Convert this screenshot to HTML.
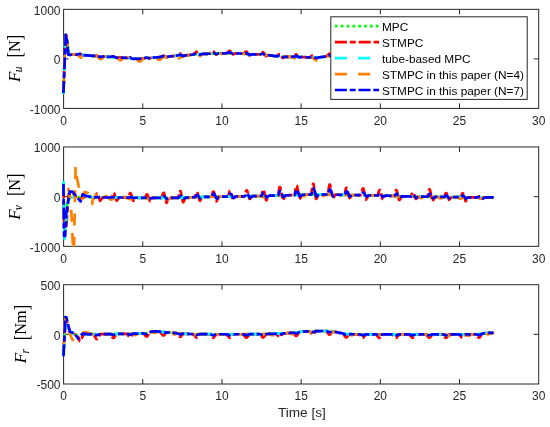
<!DOCTYPE html><html><head><meta charset="utf-8"><style>html,body{margin:0;padding:0;background:#fff}svg{display:block}</style></head><body>
<svg width="550" height="427" viewBox="0 0 550 427">
<rect width="550" height="427" fill="#fff"/>
<defs>
<clipPath id="c0"><rect x="61.6" y="8.85" width="477.6" height="100.05000000000001"/></clipPath>
<clipPath id="c1"><rect x="61.6" y="146.45" width="477.6" height="100.4"/></clipPath>
<clipPath id="c2"><rect x="61.6" y="284.2" width="477.6" height="100.30000000000001"/></clipPath>
</defs>
<rect x="63.6" y="9.35" width="475.1" height="99.05000000000001" fill="none" stroke="#262626" stroke-width="1"/>
<line x1="142.78" y1="108.4" x2="142.78" y2="103.4" stroke="#262626" stroke-width="1"/>
<line x1="142.78" y1="9.35" x2="142.78" y2="14.35" stroke="#262626" stroke-width="1"/>
<line x1="221.97" y1="108.4" x2="221.97" y2="103.4" stroke="#262626" stroke-width="1"/>
<line x1="221.97" y1="9.35" x2="221.97" y2="14.35" stroke="#262626" stroke-width="1"/>
<line x1="301.15" y1="108.4" x2="301.15" y2="103.4" stroke="#262626" stroke-width="1"/>
<line x1="301.15" y1="9.35" x2="301.15" y2="14.35" stroke="#262626" stroke-width="1"/>
<line x1="380.33" y1="108.4" x2="380.33" y2="103.4" stroke="#262626" stroke-width="1"/>
<line x1="380.33" y1="9.35" x2="380.33" y2="14.35" stroke="#262626" stroke-width="1"/>
<line x1="459.52" y1="108.4" x2="459.52" y2="103.4" stroke="#262626" stroke-width="1"/>
<line x1="459.52" y1="9.35" x2="459.52" y2="14.35" stroke="#262626" stroke-width="1"/>
<line x1="63.6" y1="58.875" x2="68.6" y2="58.875" stroke="#262626" stroke-width="1"/>
<line x1="538.7" y1="58.875" x2="533.7" y2="58.875" stroke="#262626" stroke-width="1"/>
<rect x="63.6" y="146.95" width="475.1" height="99.4" fill="none" stroke="#262626" stroke-width="1"/>
<line x1="142.78" y1="246.35" x2="142.78" y2="241.35" stroke="#262626" stroke-width="1"/>
<line x1="142.78" y1="146.95" x2="142.78" y2="151.95" stroke="#262626" stroke-width="1"/>
<line x1="221.97" y1="246.35" x2="221.97" y2="241.35" stroke="#262626" stroke-width="1"/>
<line x1="221.97" y1="146.95" x2="221.97" y2="151.95" stroke="#262626" stroke-width="1"/>
<line x1="301.15" y1="246.35" x2="301.15" y2="241.35" stroke="#262626" stroke-width="1"/>
<line x1="301.15" y1="146.95" x2="301.15" y2="151.95" stroke="#262626" stroke-width="1"/>
<line x1="380.33" y1="246.35" x2="380.33" y2="241.35" stroke="#262626" stroke-width="1"/>
<line x1="380.33" y1="146.95" x2="380.33" y2="151.95" stroke="#262626" stroke-width="1"/>
<line x1="459.52" y1="246.35" x2="459.52" y2="241.35" stroke="#262626" stroke-width="1"/>
<line x1="459.52" y1="146.95" x2="459.52" y2="151.95" stroke="#262626" stroke-width="1"/>
<line x1="63.6" y1="196.64999999999998" x2="68.6" y2="196.64999999999998" stroke="#262626" stroke-width="1"/>
<line x1="538.7" y1="196.64999999999998" x2="533.7" y2="196.64999999999998" stroke="#262626" stroke-width="1"/>
<rect x="63.6" y="284.7" width="475.1" height="99.30000000000001" fill="none" stroke="#262626" stroke-width="1"/>
<line x1="142.78" y1="384.0" x2="142.78" y2="379.0" stroke="#262626" stroke-width="1"/>
<line x1="142.78" y1="284.7" x2="142.78" y2="289.7" stroke="#262626" stroke-width="1"/>
<line x1="221.97" y1="384.0" x2="221.97" y2="379.0" stroke="#262626" stroke-width="1"/>
<line x1="221.97" y1="284.7" x2="221.97" y2="289.7" stroke="#262626" stroke-width="1"/>
<line x1="301.15" y1="384.0" x2="301.15" y2="379.0" stroke="#262626" stroke-width="1"/>
<line x1="301.15" y1="284.7" x2="301.15" y2="289.7" stroke="#262626" stroke-width="1"/>
<line x1="380.33" y1="384.0" x2="380.33" y2="379.0" stroke="#262626" stroke-width="1"/>
<line x1="380.33" y1="284.7" x2="380.33" y2="289.7" stroke="#262626" stroke-width="1"/>
<line x1="459.52" y1="384.0" x2="459.52" y2="379.0" stroke="#262626" stroke-width="1"/>
<line x1="459.52" y1="284.7" x2="459.52" y2="289.7" stroke="#262626" stroke-width="1"/>
<line x1="63.6" y1="334.35" x2="68.6" y2="334.35" stroke="#262626" stroke-width="1"/>
<line x1="538.7" y1="334.35" x2="533.7" y2="334.35" stroke="#262626" stroke-width="1"/>
<text x="60.5" y="113.70" text-anchor="end" style="font-family:'Liberation Sans',Arial,sans-serif;font-size:12px" fill="#262626">-1000</text>
<text x="60.5" y="64.17" text-anchor="end" style="font-family:'Liberation Sans',Arial,sans-serif;font-size:12px" fill="#262626">0</text>
<text x="60.5" y="14.65" text-anchor="end" style="font-family:'Liberation Sans',Arial,sans-serif;font-size:12px" fill="#262626">1000</text>
<text x="63.60" y="124.85" text-anchor="middle" style="font-family:'Liberation Sans',Arial,sans-serif;font-size:12px" fill="#262626">0</text>
<text x="142.78" y="124.85" text-anchor="middle" style="font-family:'Liberation Sans',Arial,sans-serif;font-size:12px" fill="#262626">5</text>
<text x="221.97" y="124.85" text-anchor="middle" style="font-family:'Liberation Sans',Arial,sans-serif;font-size:12px" fill="#262626">10</text>
<text x="301.15" y="124.85" text-anchor="middle" style="font-family:'Liberation Sans',Arial,sans-serif;font-size:12px" fill="#262626">15</text>
<text x="380.33" y="124.85" text-anchor="middle" style="font-family:'Liberation Sans',Arial,sans-serif;font-size:12px" fill="#262626">20</text>
<text x="459.52" y="124.85" text-anchor="middle" style="font-family:'Liberation Sans',Arial,sans-serif;font-size:12px" fill="#262626">25</text>
<text x="538.70" y="124.85" text-anchor="middle" style="font-family:'Liberation Sans',Arial,sans-serif;font-size:12px" fill="#262626">30</text>
<text x="60.5" y="251.65" text-anchor="end" style="font-family:'Liberation Sans',Arial,sans-serif;font-size:12px" fill="#262626">-1000</text>
<text x="60.5" y="201.95" text-anchor="end" style="font-family:'Liberation Sans',Arial,sans-serif;font-size:12px" fill="#262626">0</text>
<text x="60.5" y="152.25" text-anchor="end" style="font-family:'Liberation Sans',Arial,sans-serif;font-size:12px" fill="#262626">1000</text>
<text x="63.60" y="262.80" text-anchor="middle" style="font-family:'Liberation Sans',Arial,sans-serif;font-size:12px" fill="#262626">0</text>
<text x="142.78" y="262.80" text-anchor="middle" style="font-family:'Liberation Sans',Arial,sans-serif;font-size:12px" fill="#262626">5</text>
<text x="221.97" y="262.80" text-anchor="middle" style="font-family:'Liberation Sans',Arial,sans-serif;font-size:12px" fill="#262626">10</text>
<text x="301.15" y="262.80" text-anchor="middle" style="font-family:'Liberation Sans',Arial,sans-serif;font-size:12px" fill="#262626">15</text>
<text x="380.33" y="262.80" text-anchor="middle" style="font-family:'Liberation Sans',Arial,sans-serif;font-size:12px" fill="#262626">20</text>
<text x="459.52" y="262.80" text-anchor="middle" style="font-family:'Liberation Sans',Arial,sans-serif;font-size:12px" fill="#262626">25</text>
<text x="538.70" y="262.80" text-anchor="middle" style="font-family:'Liberation Sans',Arial,sans-serif;font-size:12px" fill="#262626">30</text>
<text x="60.5" y="389.30" text-anchor="end" style="font-family:'Liberation Sans',Arial,sans-serif;font-size:12px" fill="#262626">-500</text>
<text x="60.5" y="339.65" text-anchor="end" style="font-family:'Liberation Sans',Arial,sans-serif;font-size:12px" fill="#262626">0</text>
<text x="60.5" y="290.00" text-anchor="end" style="font-family:'Liberation Sans',Arial,sans-serif;font-size:12px" fill="#262626">500</text>
<text x="63.60" y="400.45" text-anchor="middle" style="font-family:'Liberation Sans',Arial,sans-serif;font-size:12px" fill="#262626">0</text>
<text x="142.78" y="400.45" text-anchor="middle" style="font-family:'Liberation Sans',Arial,sans-serif;font-size:12px" fill="#262626">5</text>
<text x="221.97" y="400.45" text-anchor="middle" style="font-family:'Liberation Sans',Arial,sans-serif;font-size:12px" fill="#262626">10</text>
<text x="301.15" y="400.45" text-anchor="middle" style="font-family:'Liberation Sans',Arial,sans-serif;font-size:12px" fill="#262626">15</text>
<text x="380.33" y="400.45" text-anchor="middle" style="font-family:'Liberation Sans',Arial,sans-serif;font-size:12px" fill="#262626">20</text>
<text x="459.52" y="400.45" text-anchor="middle" style="font-family:'Liberation Sans',Arial,sans-serif;font-size:12px" fill="#262626">25</text>
<text x="538.70" y="400.45" text-anchor="middle" style="font-family:'Liberation Sans',Arial,sans-serif;font-size:12px" fill="#262626">30</text>
<text x="301.9" y="417.3" text-anchor="middle" style="font-family:'Liberation Sans',Arial,sans-serif;font-size:13.6px" fill="#262626">Time [s]</text>
<g transform="translate(19.6,81.88) rotate(-90)" style="font-family:'Liberation Serif',serif" fill="#000"><text x="0" y="0" font-style="italic" font-size="17px">F</text><text x="9.7" y="2.6" font-style="italic" font-size="11.5px">u</text><text transform="translate(24.40,1.5) scale(1,1.23)" font-size="16.3px">[</text><text x="29.83" y="0" font-size="16.3px">N</text><text transform="translate(41.60,1.5) scale(1,1.23)" font-size="16.3px">]</text></g>
<g transform="translate(19.6,219.85) rotate(-90)" style="font-family:'Liberation Serif',serif" fill="#000"><text x="0" y="0" font-style="italic" font-size="17px">F</text><text x="9.7" y="2.6" font-style="italic" font-size="11.5px">v</text><text transform="translate(23.76,1.5) scale(1,1.23)" font-size="16.3px">[</text><text x="29.18" y="0" font-size="16.3px">N</text><text transform="translate(40.95,1.5) scale(1,1.23)" font-size="16.3px">]</text></g>
<g transform="translate(26.0,363.25) rotate(-90)" style="font-family:'Liberation Serif',serif" fill="#000"><text x="0" y="0" font-style="italic" font-size="17px">F</text><text x="9.7" y="2.6" font-style="italic" font-size="11.5px">r</text><text transform="translate(23.12,1.5) scale(1,1.23)" font-size="16.3px">[</text><text x="28.55" y="0" font-size="16.3px">Nm</text><text transform="translate(53.00,1.5) scale(1,1.23)" font-size="16.3px">]</text></g>
<g clip-path="url(#c0)" fill="none" stroke-width="2.7" stroke-linejoin="round">
<path d="M63.50,94.00 L64.20,70.00 L65.30,35.00 L66.70,36.00 L69.20,54.50 L70.00,54.82 L70.50,54.79 L71.00,54.76 L71.50,54.73 L72.00,54.70 L72.50,54.68 L73.00,54.66 L73.50,54.63 L74.00,54.62 L74.50,54.60 L75.00,54.59 L75.50,54.58 L76.00,54.57 L76.50,54.57 L77.00,54.57 L77.50,54.57 L78.00,54.59 L78.50,54.60 L79.00,54.62 L79.50,54.65 L80.00,54.68 L80.50,54.71 L81.00,54.75 L81.50,54.79 L82.00,54.84 L82.50,54.89 L83.00,54.94 L83.50,54.99 L84.00,55.04 L84.50,55.09 L85.00,55.15 L85.50,55.20 L86.00,55.25 L86.50,55.30 L87.00,55.35 L87.50,55.40 L88.00,55.45 L88.50,55.49 L89.00,55.54 L89.50,55.59 L90.00,55.64 L90.50,55.69 L91.00,55.75 L91.50,55.80 L92.00,55.85 L92.50,55.90 L93.00,55.94 L93.50,55.99 L94.00,56.04 L94.50,56.08 L95.00,56.12 L95.50,56.16 L96.00,56.20 L96.50,56.24 L97.00,56.27 L97.50,56.30 L98.00,56.33 L98.50,56.36 L99.00,56.39 L99.50,56.42 L100.00,56.45 L100.50,56.47 L101.00,56.50 L101.50,56.52 L102.00,56.55 L102.50,56.57 L103.00,56.60 L103.50,56.62 L104.00,56.65 L104.50,56.67 L105.00,56.70 L105.50,56.72 L106.00,56.75 L106.50,56.77 L107.00,56.80 L107.50,56.83 L108.00,56.85 L108.50,56.88 L109.00,56.91 L109.50,56.94 L110.00,56.96 L110.50,56.99 L111.00,57.02 L111.50,57.04 L112.00,57.07 L112.50,57.10 L113.00,57.13 L113.50,57.15 L114.00,57.18 L114.50,57.21 L115.00,57.23 L115.50,57.26 L116.00,57.29 L116.50,57.32 L117.00,57.34 L117.50,57.37 L118.00,57.40 L118.50,57.43 L119.00,57.45 L119.50,57.48 L120.00,57.51 L120.50,57.53 L121.00,57.56 L121.50,57.59 L122.00,57.61 L122.50,57.64 L123.00,57.67 L123.50,57.70 L124.00,57.73 L124.50,57.77 L125.00,57.80 L125.50,57.84 L126.00,57.88 L126.50,57.92 L127.00,57.97 L127.50,58.02 L128.00,58.07 L128.50,58.11 L129.00,58.16 L129.50,58.21 L130.00,58.25 L130.50,58.29 L131.00,58.32 L131.50,58.36 L132.00,58.40 L132.50,58.44 L133.00,58.48 L133.50,58.52 L134.00,58.56 L134.50,58.60 L135.00,58.64 L135.50,58.67 L136.00,58.70 L136.50,58.73 L137.00,58.76 L137.50,58.78 L138.00,58.79 L138.50,58.80 L139.00,58.80 L139.50,58.80 L140.00,58.79 L140.50,58.77 L141.00,58.75 L141.50,58.71 L142.00,58.68 L142.50,58.64 L143.00,58.60 L143.50,58.55 L144.00,58.50 L144.50,58.45 L145.00,58.40 L145.50,58.35 L146.00,58.29 L146.50,58.24 L147.00,58.19 L147.50,58.14 L148.00,58.09 L148.50,58.04 L149.00,58.00 L149.50,57.96 L150.00,57.92 L150.50,57.88 L151.00,57.84 L151.50,57.80 L152.00,57.76 L152.50,57.72 L153.00,57.68 L153.50,57.64 L154.00,57.60 L154.50,57.56 L155.00,57.52 L155.50,57.48 L156.00,57.45 L156.50,57.41 L157.00,57.37 L157.50,57.33 L158.00,57.29 L158.50,57.25 L159.00,57.21 L159.50,57.18 L160.00,57.14 L160.50,57.10 L161.00,57.06 L161.50,57.02 L162.00,56.98 L162.50,56.95 L163.00,56.91 L163.50,56.88 L164.00,56.84 L164.50,56.81 L165.00,56.77 L165.50,56.74 L166.00,56.70 L166.50,56.67 L167.00,56.63 L167.50,56.59 L168.00,56.56 L168.50,56.52 L169.00,56.48 L169.50,56.44 L170.00,56.40 L170.50,56.36 L171.00,56.31 L171.50,56.26 L172.00,56.21 L172.50,56.16 L173.00,56.11 L173.50,56.06 L174.00,56.01 L174.50,55.95 L175.00,55.90 L175.50,55.85 L176.00,55.80 L176.50,55.76 L177.00,55.71 L177.50,55.67 L178.00,55.63 L178.50,55.59 L179.00,55.56 L179.50,55.53 L180.00,55.51 L180.50,55.49 L181.00,55.47 L181.50,55.45 L182.00,55.43 L182.50,55.41 L183.00,55.40 L183.50,55.38 L184.00,55.36 L184.50,55.34 L185.00,55.32 L185.50,55.30 L186.00,55.28 L186.50,55.25 L187.00,55.22 L187.50,55.19 L188.00,55.14 L188.50,55.10 L189.00,55.05 L189.50,55.00 L190.00,54.94 L190.50,54.88 L191.00,54.82 L191.50,54.76 L192.00,54.71 L192.50,54.65 L193.00,54.60 L193.50,54.55 L194.00,54.50 L194.50,54.46 L195.00,54.42 L195.50,54.38 L196.00,54.34 L196.50,54.31 L197.00,54.27 L197.50,54.24 L198.00,54.21 L198.50,54.18 L199.00,54.15 L199.50,54.13 L200.00,54.10 L200.50,54.08 L201.00,54.05 L201.50,54.03 L202.00,54.01 L202.50,53.98 L203.00,53.96 L203.50,53.94 L204.00,53.92 L204.50,53.90 L205.00,53.88 L205.50,53.86 L206.00,53.85 L206.50,53.83 L207.00,53.81 L207.50,53.79 L208.00,53.77 L208.50,53.75 L209.00,53.74 L209.50,53.72 L210.00,53.70 L210.50,53.68 L211.00,53.66 L211.50,53.64 L212.00,53.63 L212.50,53.61 L213.00,53.59 L213.50,53.57 L214.00,53.55 L214.50,53.54 L215.00,53.52 L215.50,53.50 L216.00,53.49 L216.50,53.47 L217.00,53.46 L217.50,53.44 L218.00,53.43 L218.50,53.41 L219.00,53.40 L219.50,53.39 L220.00,53.37 L220.50,53.36 L221.00,53.35 L221.50,53.34 L222.00,53.32 L222.50,53.31 L223.00,53.30 L223.50,53.29 L224.00,53.28 L224.50,53.27 L225.00,53.26 L225.50,53.25 L226.00,53.24 L226.50,53.23 L227.00,53.22 L227.50,53.22 L228.00,53.21 L228.50,53.21 L229.00,53.20 L229.50,53.20 L230.00,53.20 L230.50,53.20 L231.00,53.20 L231.50,53.21 L232.00,53.21 L232.50,53.22 L233.00,53.23 L233.50,53.24 L234.00,53.25 L234.50,53.26 L235.00,53.28 L235.50,53.29 L236.00,53.31 L236.50,53.33 L237.00,53.35 L237.50,53.37 L238.00,53.40 L238.50,53.43 L239.00,53.46 L239.50,53.49 L240.00,53.52 L240.50,53.55 L241.00,53.59 L241.50,53.63 L242.00,53.66 L242.50,53.70 L243.00,53.74 L243.50,53.78 L244.00,53.82 L244.50,53.86 L245.00,53.90 L245.50,53.94 L246.00,53.97 L246.50,54.01 L247.00,54.05 L247.50,54.09 L248.00,54.12 L248.50,54.16 L249.00,54.19 L249.50,54.22 L250.00,54.25 L250.50,54.27 L251.00,54.30 L251.50,54.32 L252.00,54.34 L252.50,54.35 L253.00,54.37 L253.50,54.37 L254.00,54.38 L254.50,54.39 L255.00,54.39 L255.50,54.39 L256.00,54.40 L256.50,54.40 L257.00,54.40 L257.50,54.41 L258.00,54.41 L258.50,54.42 L259.00,54.43 L259.50,54.44 L260.00,54.46 L260.50,54.48 L261.00,54.50 L261.50,54.53 L262.00,54.56 L262.50,54.59 L263.00,54.63 L263.50,54.67 L264.00,54.71 L264.50,54.76 L265.00,54.81 L265.50,54.86 L266.00,54.91 L266.50,54.96 L267.00,55.01 L267.50,55.07 L268.00,55.12 L268.50,55.18 L269.00,55.23 L269.50,55.29 L270.00,55.36 L270.50,55.42 L271.00,55.49 L271.50,55.56 L272.00,55.63 L272.50,55.71 L273.00,55.78 L273.50,55.86 L274.00,55.93 L274.50,56.00 L275.00,56.07 L275.50,56.14 L276.00,56.21 L276.50,56.27 L277.00,56.33 L277.50,56.39 L278.00,56.44 L278.50,56.49 L279.00,56.53 L279.50,56.57 L280.00,56.60 L280.50,56.63 L281.00,56.65 L281.50,56.67 L282.00,56.69 L282.50,56.71 L283.00,56.73 L283.50,56.74 L284.00,56.75 L284.50,56.76 L285.00,56.77 L285.50,56.78 L286.00,56.79 L286.50,56.79 L287.00,56.80 L287.50,56.80 L288.00,56.81 L288.50,56.81 L289.00,56.81 L289.50,56.81 L290.00,56.81 L290.50,56.82 L291.00,56.82 L291.50,56.82 L292.00,56.82 L292.50,56.82 L293.00,56.82 L293.50,56.82 L294.00,56.82 L294.50,56.82 L295.00,56.82 L295.50,56.83 L296.00,56.83 L296.50,56.84 L297.00,56.84 L297.50,56.85 L298.00,56.86 L298.50,56.86 L299.00,56.87 L299.50,56.89 L300.00,56.90 L300.50,56.92 L301.00,56.93 L301.50,56.96 L302.00,56.98 L302.50,57.01 L303.00,57.04 L303.50,57.07 L304.00,57.10 L304.50,57.13 L305.00,57.17 L305.50,57.20 L306.00,57.23 L306.50,57.27 L307.00,57.30 L307.50,57.34 L308.00,57.37 L308.50,57.40 L309.00,57.43 L309.50,57.46 L310.00,57.49 L310.50,57.52 L311.00,57.54 L311.50,57.56 L312.00,57.58 L312.50,57.59 L313.00,57.60 L313.50,57.61 L314.00,57.61 L314.50,57.61 L315.00,57.60 L315.50,57.59 L316.00,57.57 L316.50,57.54 L317.00,57.51 L317.50,57.47 L318.00,57.43 L318.50,57.38 L319.00,57.33 L319.50,57.28 L320.00,57.22 L320.50,57.16 L321.00,57.10 L321.50,57.04 L322.00,56.98 L322.50,56.91 L323.00,56.85 L323.50,56.79 L324.00,56.72 L324.50,56.66 L325.00,56.60 L325.50,56.55 L326.00,56.50 L326.50,56.45 L327.00,56.40 L327.50,56.36 L328.00,56.31 L328.50,56.27 L329.00,56.22 L329.50,56.17 L330.00,56.13 L330.50,56.08 L331.00,56.03 L331.50,55.98 L332.00,55.94 L332.50,55.89 L333.00,55.84 L333.50,55.79 L334.00,55.75 L334.50,55.70 L335.00,55.65 L335.50,55.61 L336.00,55.56 L336.50,55.52 L337.00,55.48 L337.50,55.44 L338.00,55.40 L338.50,55.36 L339.00,55.32 L339.50,55.28 L340.00,55.25 L340.50,55.21 L341.00,55.18 L341.50,55.15 L342.00,55.12 L342.50,55.10 L343.00,55.07 L343.50,55.05 L344.00,55.03 L344.50,55.01 L345.00,55.00 L345.50,54.99 L346.00,54.97 L346.50,54.96 L347.00,54.95 L347.50,54.94 L348.00,54.93 L348.50,54.92 L349.00,54.91 L349.50,54.90 L350.00,54.89 L350.50,54.89 L351.00,54.88 L351.50,54.87 L352.00,54.87 L352.50,54.86 L353.00,54.86 L353.50,54.85 L354.00,54.85 L354.50,54.84 L355.00,54.84 L355.50,54.83 L356.00,54.83 L356.50,54.83 L357.00,54.83 L357.50,54.83 L358.00,54.82 L358.50,54.82 L359.00,54.82 L359.50,54.82 L360.00,54.82 L360.50,54.82 L361.00,54.82 L361.50,54.82 L362.00,54.82 L362.50,54.83 L363.00,54.83 L363.50,54.83 L364.00,54.83 L364.50,54.83 L365.00,54.84 L365.50,54.84 L366.00,54.84 L366.50,54.85 L367.00,54.85 L367.50,54.86 L368.00,54.86 L368.50,54.86 L369.00,54.87 L369.50,54.87 L370.00,54.88 L370.50,54.88 L371.00,54.89 L371.50,54.89 L372.00,54.90 L372.50,54.90 L373.00,54.91 L373.50,54.92 L374.00,54.92 L374.50,54.93 L375.00,54.93 L375.50,54.94 L376.00,54.95 L376.50,54.95 L377.00,54.96 L377.50,54.97 L378.00,54.97 L378.50,54.98 L379.00,54.99 L379.50,54.99 L380.00,55.00 L380.50,55.01 L381.00,55.01 L381.50,55.02 L382.00,55.03 L382.50,55.04 L383.00,55.05 L383.50,55.05 L384.00,55.06 L384.50,55.07 L385.00,55.08 L385.50,55.09 L386.00,55.10 L386.50,55.11 L387.00,55.12 L387.50,55.13 L388.00,55.14 L388.50,55.15 L389.00,55.16 L389.50,55.17 L390.00,55.18 L390.50,55.20 L391.00,55.21 L391.50,55.22 L392.00,55.23 L392.50,55.24 L393.00,55.26 L393.50,55.27 L394.00,55.28 L394.50,55.29 L395.00,55.31 L395.50,55.32 L396.00,55.33 L396.50,55.35 L397.00,55.36 L397.50,55.37 L398.00,55.39 L398.50,55.40 L399.00,55.41 L399.50,55.43 L400.00,55.44 L400.50,55.46 L401.00,55.47 L401.50,55.48 L402.00,55.50 L402.50,55.51 L403.00,55.53 L403.50,55.54 L404.00,55.56 L404.50,55.57 L405.00,55.58 L405.50,55.60 L406.00,55.61 L406.50,55.63 L407.00,55.64 L407.50,55.66 L408.00,55.67 L408.50,55.69 L409.00,55.70 L409.50,55.71 L410.00,55.73 L410.50,55.74 L411.00,55.76 L411.50,55.77 L412.00,55.79 L412.50,55.80 L413.00,55.81 L413.50,55.83 L414.00,55.84 L414.50,55.85 L415.00,55.87 L415.50,55.88 L416.00,55.90 L416.50,55.91 L417.00,55.92 L417.50,55.94 L418.00,55.95 L418.50,55.96 L419.00,55.97 L419.50,55.99 L420.00,56.00 L420.50,56.01 L421.00,56.03 L421.50,56.04 L422.00,56.05 L422.50,56.06 L423.00,56.08 L423.50,56.09 L424.00,56.10 L424.50,56.12 L425.00,56.13 L425.50,56.15 L426.00,56.16 L426.50,56.17 L427.00,56.19 L427.50,56.20 L428.00,56.22 L428.50,56.23 L429.00,56.24 L429.50,56.26 L430.00,56.27 L430.50,56.29 L431.00,56.30 L431.50,56.32 L432.00,56.33 L432.50,56.35 L433.00,56.36 L433.50,56.38 L434.00,56.39 L434.50,56.40 L435.00,56.42 L435.50,56.43 L436.00,56.45 L436.50,56.46 L437.00,56.48 L437.50,56.49 L438.00,56.51 L438.50,56.52 L439.00,56.53 L439.50,56.55 L440.00,56.56 L440.50,56.58 L441.00,56.59 L441.50,56.60 L442.00,56.62 L442.50,56.63 L443.00,56.65 L443.50,56.66 L444.00,56.67 L444.50,56.69 L445.00,56.70 L445.50,56.71 L446.00,56.72 L446.50,56.74 L447.00,56.75 L447.50,56.76 L448.00,56.77 L448.50,56.79 L449.00,56.80 L449.50,56.81 L450.00,56.82 L450.50,56.83 L451.00,56.84 L451.50,56.85 L452.00,56.86 L452.50,56.87 L453.00,56.88 L453.50,56.89 L454.00,56.90 L454.50,56.91 L455.00,56.92 L455.50,56.93 L456.00,56.94 L456.50,56.95 L457.00,56.96 L457.50,56.96 L458.00,56.97 L458.50,56.98 L459.00,56.99 L459.50,56.99 L460.00,57.00 L460.50,57.01 L461.00,57.01 L461.50,57.02 L462.00,57.02 L462.50,57.03 L463.00,57.03 L463.50,57.04 L464.00,57.04 L464.50,57.04 L465.00,57.05 L465.50,57.05 L466.00,57.05 L466.50,57.06 L467.00,57.06 L467.50,57.06 L468.00,57.06 L468.50,57.07 L469.00,57.07 L469.50,57.07 L470.00,57.07 L470.50,57.07 L471.00,57.07 L471.50,57.07 L472.00,57.07 L472.50,57.07 L473.00,57.07 L473.50,57.07 L474.00,57.07 L474.50,57.07 L475.00,57.07 L475.50,57.07 L476.00,57.07 L476.50,57.07 L477.00,57.07 L477.50,57.07 L478.00,57.07 L478.50,57.07 L479.00,57.07 L479.50,57.06 L480.00,57.06 L480.50,57.06 L481.00,57.06 L481.50,57.06 L482.00,57.06 L482.50,57.05 L483.00,57.05 L483.50,57.05 L484.00,57.05 L484.50,57.05 L485.00,57.04 L485.50,57.04 L486.00,57.04 L486.50,57.04 L487.00,57.04 L487.50,57.03 L488.00,57.03 L488.50,57.03 L489.00,57.03 L489.50,57.03 L490.00,57.02 L490.50,57.02 L491.00,57.02 L491.50,57.02 L492.00,57.02 L492.50,57.01 L493.00,57.01 L493.50,57.01" stroke="#00ff00" stroke-dasharray="2.7 3.15" stroke-dashoffset="0"/>
<path d="M63.50,92.00 L64.30,70.00 L65.40,35.50 L66.60,36.00 L68.60,54.50 L70.00,54.82 L70.50,54.79 L71.00,54.76 L71.50,54.73 L72.00,54.70 L72.50,54.68 L73.00,54.66 L73.50,54.63 L74.00,54.62 L74.50,54.60 L75.00,54.59 L75.50,54.58 L76.00,54.57 L76.50,54.57 L77.00,54.52 L77.50,54.44 L78.00,54.36 L78.50,54.29 L79.00,54.23 L79.50,54.17 L80.00,54.11 L80.50,54.20 L81.00,54.39 L81.50,54.58 L82.00,54.78 L82.50,54.98 L83.00,55.18 L83.50,55.26 L84.00,55.26 L84.50,55.26 L85.00,55.27 L85.50,55.27 L86.00,55.27 L86.50,55.30 L87.00,55.35 L87.50,55.40 L88.00,55.45 L88.50,55.49 L89.00,55.54 L89.50,55.59 L90.00,55.64 L90.50,55.69 L91.00,55.75 L91.50,55.80 L92.00,55.85 L92.50,55.90 L93.00,55.94 L93.50,55.96 L94.00,55.92 L94.50,55.88 L95.00,55.83 L95.50,55.79 L96.00,55.74 L96.50,55.69 L97.00,55.72 L97.50,55.91 L98.00,56.09 L98.50,56.27 L99.00,56.45 L99.50,56.62 L100.00,56.73 L100.50,56.70 L101.00,56.68 L101.50,56.66 L102.00,56.63 L102.50,56.61 L103.00,56.60 L103.50,56.62 L104.00,56.65 L104.50,56.67 L105.00,56.70 L105.50,56.72 L106.00,56.75 L106.50,56.77 L107.00,56.80 L107.50,56.83 L108.00,56.85 L108.50,56.88 L109.00,56.91 L109.50,56.94 L110.00,56.95 L110.50,56.89 L111.00,56.84 L111.50,56.78 L112.00,56.72 L112.50,56.66 L113.00,56.60 L113.50,56.57 L114.00,56.75 L114.50,56.93 L115.00,57.10 L115.50,57.28 L116.00,57.46 L116.50,57.61 L117.00,57.59 L117.50,57.57 L118.00,57.54 L118.50,57.52 L119.00,57.50 L119.50,57.48 L120.00,57.51 L120.50,57.53 L121.00,57.56 L121.50,57.59 L122.00,57.61 L122.50,57.64 L123.00,57.67 L123.50,57.70 L124.00,57.73 L124.50,57.77 L125.00,57.80 L125.50,57.84 L126.00,57.88 L126.50,57.92 L127.00,57.89 L127.50,57.86 L128.00,57.82 L128.50,57.78 L129.00,57.74 L129.50,57.70 L130.00,57.66 L130.50,57.82 L131.00,58.00 L131.50,58.19 L132.00,58.38 L132.50,58.57 L133.00,58.76 L133.50,58.78 L134.00,58.77 L134.50,58.76 L135.00,58.74 L135.50,58.73 L136.00,58.71 L136.50,58.73 L137.00,58.76 L137.50,58.78 L138.00,58.79 L138.50,58.80 L139.00,58.80 L139.50,58.80 L140.00,58.79 L140.50,58.77 L141.00,58.75 L141.50,58.71 L142.00,58.68 L142.50,58.64 L143.00,58.60 L143.50,58.50 L144.00,58.36 L144.50,58.22 L145.00,58.09 L145.50,57.95 L146.00,57.81 L146.50,57.67 L147.00,57.68 L147.50,57.78 L148.00,57.88 L148.50,57.99 L149.00,58.10 L149.50,58.21 L150.00,58.19 L150.50,58.11 L151.00,58.02 L151.50,57.93 L152.00,57.84 L152.50,57.74 L153.00,57.68 L153.50,57.64 L154.00,57.60 L154.50,57.56 L155.00,57.52 L155.50,57.48 L156.00,57.45 L156.50,57.41 L157.00,57.37 L157.50,57.33 L158.00,57.29 L158.50,57.25 L159.00,57.21 L159.50,57.18 L160.00,57.07 L160.50,56.87 L161.00,56.67 L161.50,56.45 L162.00,56.23 L162.50,56.00 L163.00,55.77 L163.50,55.73 L164.00,56.00 L164.50,56.28 L165.00,56.57 L165.50,56.87 L166.00,57.19 L166.50,57.33 L167.00,57.19 L167.50,57.04 L168.00,56.88 L168.50,56.72 L169.00,56.56 L169.50,56.44 L170.00,56.40 L170.50,56.36 L171.00,56.31 L171.50,56.26 L172.00,56.21 L172.50,56.16 L173.00,56.11 L173.50,56.06 L174.00,56.01 L174.50,55.95 L175.00,55.90 L175.50,55.85 L176.00,55.80 L176.50,55.71 L177.00,55.39 L177.50,55.06 L178.00,54.73 L178.50,54.39 L179.00,54.05 L179.50,53.71 L180.00,53.49 L180.50,53.98 L181.00,54.48 L181.50,54.99 L182.00,55.52 L182.50,56.06 L183.00,56.49 L183.50,56.30 L184.00,56.10 L184.50,55.89 L185.00,55.69 L185.50,55.47 L186.00,55.28 L186.50,55.25 L187.00,55.22 L187.50,55.19 L188.00,55.14 L188.50,55.10 L189.00,55.05 L189.50,55.00 L190.00,54.94 L190.50,54.88 L191.00,54.82 L191.50,54.76 L192.00,54.71 L192.50,54.65 L193.00,54.60 L193.50,54.20 L194.00,53.79 L194.50,53.37 L195.00,52.96 L195.50,52.55 L196.00,52.14 L196.50,51.74 L197.00,52.27 L197.50,52.89 L198.00,53.51 L198.50,54.13 L199.00,54.75 L199.50,55.37 L200.00,55.20 L200.50,54.96 L201.00,54.72 L201.50,54.48 L202.00,54.24 L202.50,54.00 L203.00,53.96 L203.50,53.94 L204.00,53.92 L204.50,53.90 L205.00,53.88 L205.50,53.86 L206.00,53.85 L206.50,53.83 L207.00,53.81 L207.50,53.79 L208.00,53.77 L208.50,53.75 L209.00,53.74 L209.50,53.72 L210.00,53.45 L210.50,53.06 L211.00,52.67 L211.50,52.28 L212.00,51.89 L212.50,51.50 L213.00,51.11 L213.50,51.41 L214.00,52.05 L214.50,52.68 L215.00,53.31 L215.50,53.94 L216.00,54.58 L216.50,54.62 L217.00,54.39 L217.50,54.16 L218.00,53.93 L218.50,53.70 L219.00,53.47 L219.50,53.39 L220.00,53.37 L220.50,53.36 L221.00,53.35 L221.50,53.34 L222.00,53.32 L222.50,53.31 L223.00,53.30 L223.50,53.29 L224.00,53.28 L224.50,53.27 L225.00,53.26 L225.50,53.25 L226.00,53.24 L226.50,53.07 L227.00,52.69 L227.50,52.31 L228.00,51.93 L228.50,51.56 L229.00,51.18 L229.50,50.81 L230.00,50.89 L230.50,51.54 L231.00,52.19 L231.50,52.84 L232.00,53.50 L232.50,54.15 L233.00,54.43 L233.50,54.22 L234.00,54.02 L234.50,53.82 L235.00,53.61 L235.50,53.41 L236.00,53.31 L236.50,53.33 L237.00,53.35 L237.50,53.37 L238.00,53.40 L238.50,53.43 L239.00,53.46 L239.50,53.49 L240.00,53.52 L240.50,53.55 L241.00,53.59 L241.50,53.63 L242.00,53.66 L242.50,53.70 L243.00,53.67 L243.50,53.33 L244.00,53.00 L244.50,52.67 L245.00,52.34 L245.50,52.00 L246.00,51.67 L246.50,51.54 L247.00,52.23 L247.50,52.92 L248.00,53.60 L248.50,54.29 L249.00,54.97 L249.50,55.48 L250.00,55.29 L250.50,55.10 L251.00,54.91 L251.50,54.71 L252.00,54.51 L252.50,54.35 L253.00,54.37 L253.50,54.37 L254.00,54.38 L254.50,54.39 L255.00,54.39 L255.50,54.39 L256.00,54.40 L256.50,54.40 L257.00,54.40 L257.50,54.41 L258.00,54.41 L258.50,54.42 L259.00,54.43 L259.50,54.44 L260.00,54.10 L260.50,53.75 L261.00,53.40 L261.50,53.06 L262.00,52.72 L262.50,52.38 L263.00,52.05 L263.50,52.69 L264.00,53.39 L264.50,54.08 L265.00,54.78 L265.50,55.48 L266.00,56.18 L266.50,56.05 L267.00,55.89 L267.50,55.73 L268.00,55.56 L268.50,55.40 L269.00,55.24 L269.50,55.29 L270.00,55.36 L270.50,55.42 L271.00,55.49 L271.50,55.56 L272.00,55.63 L272.50,55.71 L273.00,55.78 L273.50,55.86 L274.00,55.93 L274.50,56.00 L275.00,56.07 L275.50,56.14 L276.00,56.21 L276.50,56.00 L277.00,55.69 L277.50,55.38 L278.00,55.06 L278.50,54.74 L279.00,54.41 L279.50,54.07 L280.00,54.47 L280.50,55.14 L281.00,55.82 L281.50,56.49 L282.00,57.16 L282.50,57.83 L283.00,57.87 L283.50,57.67 L284.00,57.46 L284.50,57.26 L285.00,57.05 L285.50,56.84 L286.00,56.79 L286.50,56.79 L287.00,56.80 L287.50,56.80 L288.00,56.81 L288.50,56.81 L289.00,56.81 L289.50,56.81 L290.00,56.81 L290.50,56.82 L291.00,56.82 L291.50,56.82 L292.00,56.82 L292.50,56.82 L293.00,56.64 L293.50,56.27 L294.00,55.90 L294.50,55.53 L295.00,55.16 L295.50,54.79 L296.00,54.42 L296.50,54.55 L297.00,55.20 L297.50,55.86 L298.00,56.52 L298.50,57.18 L299.00,57.84 L299.50,58.08 L300.00,57.88 L300.50,57.68 L301.00,57.48 L301.50,57.29 L302.00,57.09 L302.50,57.01 L303.00,57.04 L303.50,57.07 L304.00,57.10 L304.50,57.13 L305.00,57.17 L305.50,57.20 L306.00,57.23 L306.50,57.27 L307.00,57.30 L307.50,57.34 L308.00,57.37 L308.50,57.40 L309.00,57.43 L309.50,57.37 L310.00,57.03 L310.50,56.68 L311.00,56.34 L311.50,55.98 L312.00,55.63 L312.50,55.27 L313.00,55.16 L313.50,55.81 L314.00,56.46 L314.50,57.11 L315.00,57.76 L315.50,58.39 L316.00,58.82 L316.50,58.57 L317.00,58.32 L317.50,58.07 L318.00,57.81 L318.50,57.55 L319.00,57.33 L319.50,57.28 L320.00,57.22 L320.50,57.16 L321.00,57.10 L321.50,57.04 L322.00,56.98 L322.50,56.91 L323.00,56.85 L323.50,56.79 L324.00,56.72 L324.50,56.66 L325.00,56.60 L325.50,56.55 L326.00,56.50 L326.50,56.07 L327.00,55.66 L327.50,55.24 L328.00,54.83 L328.50,54.41 L329.00,53.99 L329.50,53.57 L330.00,54.18 L330.50,54.78 L331.00,55.38 L331.50,55.98 L332.00,56.59 L332.50,57.19 L333.00,56.92 L333.50,56.66 L334.00,56.40 L334.50,56.13 L335.00,55.87 L335.50,55.61 L336.00,55.56 L336.50,55.52 L337.00,55.48 L337.50,55.44 L338.00,55.40 L338.50,55.36 L339.00,55.32 L339.50,55.28 L340.00,55.25 L340.50,55.21 L341.00,55.18 L341.50,55.15 L342.00,55.12 L342.50,55.10 L343.00,54.79 L343.50,54.40 L344.00,54.01 L344.50,53.62 L345.00,53.23 L345.50,52.85 L346.00,52.46 L346.50,52.86 L347.00,53.50 L347.50,54.13 L348.00,54.77 L348.50,55.41 L349.00,56.06 L349.50,56.04 L350.00,55.81 L350.50,55.59 L351.00,55.37 L351.50,55.14 L352.00,54.92 L352.50,54.86 L353.00,54.86 L353.50,54.85 L354.00,54.85 L354.50,54.84 L355.00,54.84 L355.50,54.83 L356.00,54.83 L356.50,54.83 L357.00,54.83 L357.50,54.83 L358.00,54.82 L358.50,54.82 L359.00,54.82 L359.50,54.63 L360.00,54.26 L360.50,53.89 L361.00,53.52 L361.50,53.14 L362.00,52.77 L362.50,52.40 L363.00,52.57 L363.50,53.22 L364.00,53.87 L364.50,54.52 L365.00,55.18 L365.50,55.83 L366.00,56.03 L366.50,55.82 L367.00,55.61 L367.50,55.39 L368.00,55.18 L368.50,54.97 L369.00,54.87 L369.50,54.87 L370.00,54.88 L370.50,54.88 L371.00,54.89 L371.50,54.89 L372.00,54.90 L372.50,54.90 L373.00,54.91 L373.50,54.92 L374.00,54.92 L374.50,54.93 L375.00,54.93 L375.50,54.94 L376.00,54.84 L376.50,54.48 L377.00,54.11 L377.50,53.75 L378.00,53.38 L378.50,53.02 L379.00,52.65 L379.50,52.58 L380.00,53.23 L380.50,53.89 L381.00,54.55 L381.50,55.20 L382.00,55.86 L382.50,56.28 L383.00,56.07 L383.50,55.86 L384.00,55.65 L384.50,55.44 L385.00,55.24 L385.50,55.09 L386.00,55.10 L386.50,55.11 L387.00,55.12 L387.50,55.13 L388.00,55.14 L388.50,55.15 L389.00,55.16 L389.50,55.17 L390.00,55.18 L390.50,55.20 L391.00,55.21 L391.50,55.22 L392.00,55.23 L392.50,55.23 L393.00,54.87 L393.50,54.51 L394.00,54.15 L394.50,53.79 L395.00,53.43 L395.50,53.08 L396.00,52.76 L396.50,53.42 L397.00,54.09 L397.50,54.75 L398.00,55.41 L398.50,56.08 L399.00,56.71 L399.50,56.50 L400.00,56.30 L400.50,56.10 L401.00,55.89 L401.50,55.69 L402.00,55.50 L402.50,55.51 L403.00,55.53 L403.50,55.54 L404.00,55.56 L404.50,55.57 L405.00,55.58 L405.50,55.60 L406.00,55.61 L406.50,55.63 L407.00,55.64 L407.50,55.66 L408.00,55.67 L408.50,55.69 L409.00,55.70 L409.50,55.42 L410.00,55.06 L410.50,54.70 L411.00,54.35 L411.50,53.99 L412.00,53.63 L412.50,53.27 L413.00,53.73 L413.50,54.40 L414.00,55.06 L414.50,55.72 L415.00,56.39 L415.50,57.05 L416.00,57.02 L416.50,56.82 L417.00,56.62 L417.50,56.41 L418.00,56.21 L418.50,56.01 L419.00,55.97 L419.50,55.99 L420.00,56.00 L420.50,56.01 L421.00,56.03 L421.50,56.04 L422.00,56.05 L422.50,56.06 L423.00,56.08 L423.50,56.09 L424.00,56.10 L424.50,56.12 L425.00,56.13 L425.50,56.15 L426.00,55.95 L426.50,55.59 L427.00,55.24 L427.50,54.88 L428.00,54.52 L428.50,54.17 L429.00,53.81 L429.50,54.02 L430.00,54.69 L430.50,55.35 L431.00,56.02 L431.50,56.68 L432.00,57.35 L432.50,57.52 L433.00,57.32 L433.50,57.12 L434.00,56.92 L434.50,56.72 L435.00,56.51 L435.50,56.43 L436.00,56.45 L436.50,56.46 L437.00,56.48 L437.50,56.49 L438.00,56.51 L438.50,56.52 L439.00,56.53 L439.50,56.55 L440.00,56.56 L440.50,56.58 L441.00,56.59 L441.50,56.60 L442.00,56.62 L442.50,56.51 L443.00,56.15 L443.50,55.80 L444.00,55.44 L444.50,55.08 L445.00,54.72 L445.50,54.36 L446.00,54.33 L446.50,54.99 L447.00,55.66 L447.50,56.32 L448.00,56.98 L448.50,57.64 L449.00,58.03 L449.50,57.82 L450.00,57.62 L450.50,57.41 L451.00,57.21 L451.50,57.00 L452.00,56.86 L452.50,56.87 L453.00,56.88 L453.50,56.89 L454.00,56.90 L454.50,56.91 L455.00,56.92 L455.50,56.93 L456.00,56.94 L456.50,56.95 L457.00,56.96 L457.50,56.96 L458.00,56.97 L458.50,56.98 L459.00,56.96 L459.50,56.59 L460.00,56.23 L460.50,55.86 L461.00,55.50 L461.50,55.13 L462.00,54.76 L462.50,54.48 L463.00,55.13 L463.50,55.79 L464.00,56.44 L464.50,57.10 L465.00,57.75 L465.50,58.33 L466.00,58.12 L466.50,57.91 L467.00,57.69 L467.50,57.48 L468.00,57.26 L468.50,57.07 L469.00,57.07 L469.50,57.07 L470.00,57.07 L470.50,57.07 L471.00,57.07 L471.50,57.07 L472.00,57.07 L472.50,57.07 L473.00,57.07 L473.50,57.07 L474.00,57.07 L474.50,57.07 L475.00,57.07 L475.50,57.07 L476.00,56.76 L476.50,56.39 L477.00,56.02 L477.50,55.64 L478.00,55.27 L478.50,54.90 L479.00,54.52 L479.50,55.01 L480.00,55.66 L480.50,56.31 L481.00,56.96 L481.50,57.60 L482.00,58.25 L482.50,58.17 L483.00,57.95 L483.50,57.73 L484.00,57.52 L484.50,57.30 L485.00,57.08 L485.50,57.04 L486.00,57.04 L486.50,57.04 L487.00,57.04 L487.50,57.03 L488.00,57.03 L488.50,57.03 L489.00,57.03 L489.50,57.03 L490.00,57.02 L490.50,57.02 L491.00,57.02 L491.50,57.02 L492.00,57.02 L492.50,56.79 L493.00,56.42 L493.50,56.05" stroke="#ff0000" stroke-dasharray="12 2.9 6 2.9" stroke-dashoffset="0"/>
<path d="M63.50,94.00 L64.20,70.00 L65.40,35.00 L66.60,36.00 L68.60,54.50 L70.00,54.82 L70.50,54.79 L71.00,54.76 L71.50,54.73 L72.00,54.70 L72.50,54.68 L73.00,54.66 L73.50,54.63 L74.00,54.62 L74.50,54.60 L75.00,54.59 L75.50,54.58 L76.00,54.57 L76.50,54.57 L77.00,54.57 L77.50,54.57 L78.00,54.59 L78.50,54.60 L79.00,54.62 L79.50,54.65 L80.00,54.68 L80.50,54.71 L81.00,54.75 L81.50,54.79 L82.00,54.84 L82.50,54.89 L83.00,54.94 L83.50,54.99 L84.00,55.04 L84.50,55.09 L85.00,55.15 L85.50,55.20 L86.00,55.25 L86.50,55.30 L87.00,55.35 L87.50,55.40 L88.00,55.45 L88.50,55.49 L89.00,55.54 L89.50,55.59 L90.00,55.64 L90.50,55.69 L91.00,55.75 L91.50,55.80 L92.00,55.85 L92.50,55.90 L93.00,55.94 L93.50,55.99 L94.00,56.04 L94.50,56.08 L95.00,56.12 L95.50,56.16 L96.00,56.20 L96.50,56.24 L97.00,56.27 L97.50,56.30 L98.00,56.33 L98.50,56.36 L99.00,56.39 L99.50,56.42 L100.00,56.45 L100.50,56.47 L101.00,56.50 L101.50,56.52 L102.00,56.55 L102.50,56.57 L103.00,56.60 L103.50,56.62 L104.00,56.65 L104.50,56.67 L105.00,56.70 L105.50,56.72 L106.00,56.75 L106.50,56.77 L107.00,56.80 L107.50,56.83 L108.00,56.85 L108.50,56.88 L109.00,56.91 L109.50,56.94 L110.00,56.96 L110.50,56.99 L111.00,57.02 L111.50,57.04 L112.00,57.07 L112.50,57.10 L113.00,57.13 L113.50,57.15 L114.00,57.18 L114.50,57.21 L115.00,57.23 L115.50,57.26 L116.00,57.29 L116.50,57.32 L117.00,57.34 L117.50,57.37 L118.00,57.40 L118.50,57.43 L119.00,57.45 L119.50,57.48 L120.00,57.51 L120.50,57.53 L121.00,57.56 L121.50,57.59 L122.00,57.61 L122.50,57.64 L123.00,57.67 L123.50,57.70 L124.00,57.73 L124.50,57.77 L125.00,57.80 L125.50,57.84 L126.00,57.88 L126.50,57.92 L127.00,57.97 L127.50,58.02 L128.00,58.07 L128.50,58.11 L129.00,58.16 L129.50,58.21 L130.00,58.25 L130.50,58.29 L131.00,58.32 L131.50,58.36 L132.00,58.40 L132.50,58.44 L133.00,58.48 L133.50,58.52 L134.00,58.56 L134.50,58.60 L135.00,58.64 L135.50,58.67 L136.00,58.70 L136.50,58.73 L137.00,58.76 L137.50,58.78 L138.00,58.79 L138.50,58.80 L139.00,58.80 L139.50,58.80 L140.00,58.79 L140.50,58.77 L141.00,58.75 L141.50,58.71 L142.00,58.68 L142.50,58.64 L143.00,58.60 L143.50,58.55 L144.00,58.50 L144.50,58.45 L145.00,58.40 L145.50,58.35 L146.00,58.29 L146.50,58.24 L147.00,58.19 L147.50,58.14 L148.00,58.09 L148.50,58.04 L149.00,58.00 L149.50,57.96 L150.00,57.92 L150.50,57.88 L151.00,57.84 L151.50,57.80 L152.00,57.76 L152.50,57.72 L153.00,57.68 L153.50,57.64 L154.00,57.60 L154.50,57.56 L155.00,57.52 L155.50,57.48 L156.00,57.45 L156.50,57.41 L157.00,57.37 L157.50,57.33 L158.00,57.29 L158.50,57.25 L159.00,57.21 L159.50,57.18 L160.00,57.14 L160.50,57.10 L161.00,57.06 L161.50,57.02 L162.00,56.98 L162.50,56.95 L163.00,56.91 L163.50,56.88 L164.00,56.84 L164.50,56.81 L165.00,56.77 L165.50,56.74 L166.00,56.70 L166.50,56.67 L167.00,56.63 L167.50,56.59 L168.00,56.56 L168.50,56.52 L169.00,56.48 L169.50,56.44 L170.00,56.40 L170.50,56.36 L171.00,56.31 L171.50,56.26 L172.00,56.21 L172.50,56.16 L173.00,56.11 L173.50,56.06 L174.00,56.01 L174.50,55.95 L175.00,55.90 L175.50,55.85 L176.00,55.80 L176.50,55.76 L177.00,55.71 L177.50,55.67 L178.00,55.63 L178.50,55.59 L179.00,55.56 L179.50,55.53 L180.00,55.51 L180.50,55.49 L181.00,55.47 L181.50,55.45 L182.00,55.43 L182.50,55.41 L183.00,55.40 L183.50,55.38 L184.00,55.36 L184.50,55.34 L185.00,55.32 L185.50,55.30 L186.00,55.28 L186.50,55.25 L187.00,55.22 L187.50,55.19 L188.00,55.14 L188.50,55.10 L189.00,55.05 L189.50,55.00 L190.00,54.94 L190.50,54.88 L191.00,54.82 L191.50,54.76 L192.00,54.71 L192.50,54.65 L193.00,54.60 L193.50,54.55 L194.00,54.50 L194.50,54.46 L195.00,54.42 L195.50,54.38 L196.00,54.34 L196.50,54.31 L197.00,54.27 L197.50,54.24 L198.00,54.21 L198.50,54.18 L199.00,54.15 L199.50,54.13 L200.00,54.10 L200.50,54.08 L201.00,54.05 L201.50,54.03 L202.00,54.01 L202.50,53.98 L203.00,53.96 L203.50,53.94 L204.00,53.92 L204.50,53.90 L205.00,53.88 L205.50,53.86 L206.00,53.85 L206.50,53.83 L207.00,53.81 L207.50,53.79 L208.00,53.77 L208.50,53.75 L209.00,53.74 L209.50,53.72 L210.00,53.70 L210.50,53.68 L211.00,53.66 L211.50,53.64 L212.00,53.63 L212.50,53.61 L213.00,53.59 L213.50,53.57 L214.00,53.55 L214.50,53.54 L215.00,53.52 L215.50,53.50 L216.00,53.49 L216.50,53.47 L217.00,53.46 L217.50,53.44 L218.00,53.43 L218.50,53.41 L219.00,53.40 L219.50,53.39 L220.00,53.37 L220.50,53.36 L221.00,53.35 L221.50,53.34 L222.00,53.32 L222.50,53.31 L223.00,53.30 L223.50,53.29 L224.00,53.28 L224.50,53.27 L225.00,53.26 L225.50,53.25 L226.00,53.24 L226.50,53.23 L227.00,53.22 L227.50,53.22 L228.00,53.21 L228.50,53.21 L229.00,53.20 L229.50,53.20 L230.00,53.20 L230.50,53.20 L231.00,53.20 L231.50,53.21 L232.00,53.21 L232.50,53.22 L233.00,53.23 L233.50,53.24 L234.00,53.25 L234.50,53.26 L235.00,53.28 L235.50,53.29 L236.00,53.31 L236.50,53.33 L237.00,53.35 L237.50,53.37 L238.00,53.40 L238.50,53.43 L239.00,53.46 L239.50,53.49 L240.00,53.52 L240.50,53.55 L241.00,53.59 L241.50,53.63 L242.00,53.66 L242.50,53.70 L243.00,53.74 L243.50,53.78 L244.00,53.82 L244.50,53.86 L245.00,53.90 L245.50,53.94 L246.00,53.97 L246.50,54.01 L247.00,54.05 L247.50,54.09 L248.00,54.12 L248.50,54.16 L249.00,54.19 L249.50,54.22 L250.00,54.25 L250.50,54.27 L251.00,54.30 L251.50,54.32 L252.00,54.34 L252.50,54.35 L253.00,54.37 L253.50,54.37 L254.00,54.38 L254.50,54.39 L255.00,54.39 L255.50,54.39 L256.00,54.40 L256.50,54.40 L257.00,54.40 L257.50,54.41 L258.00,54.41 L258.50,54.42 L259.00,54.43 L259.50,54.44 L260.00,54.46 L260.50,54.48 L261.00,54.50 L261.50,54.53 L262.00,54.56 L262.50,54.59 L263.00,54.63 L263.50,54.67 L264.00,54.71 L264.50,54.76 L265.00,54.81 L265.50,54.86 L266.00,54.91 L266.50,54.96 L267.00,55.01 L267.50,55.07 L268.00,55.12 L268.50,55.18 L269.00,55.23 L269.50,55.29 L270.00,55.36 L270.50,55.42 L271.00,55.49 L271.50,55.56 L272.00,55.63 L272.50,55.71 L273.00,55.78 L273.50,55.86 L274.00,55.93 L274.50,56.00 L275.00,56.07 L275.50,56.14 L276.00,56.21 L276.50,56.27 L277.00,56.33 L277.50,56.39 L278.00,56.44 L278.50,56.49 L279.00,56.53 L279.50,56.57 L280.00,56.60 L280.50,56.63 L281.00,56.65 L281.50,56.67 L282.00,56.69 L282.50,56.71 L283.00,56.73 L283.50,56.74 L284.00,56.75 L284.50,56.76 L285.00,56.77 L285.50,56.78 L286.00,56.79 L286.50,56.79 L287.00,56.80 L287.50,56.80 L288.00,56.81 L288.50,56.81 L289.00,56.81 L289.50,56.81 L290.00,56.81 L290.50,56.82 L291.00,56.82 L291.50,56.82 L292.00,56.82 L292.50,56.82 L293.00,56.82 L293.50,56.82 L294.00,56.82 L294.50,56.82 L295.00,56.82 L295.50,56.83 L296.00,56.83 L296.50,56.84 L297.00,56.84 L297.50,56.85 L298.00,56.86 L298.50,56.86 L299.00,56.87 L299.50,56.89 L300.00,56.90 L300.50,56.92 L301.00,56.93 L301.50,56.96 L302.00,56.98 L302.50,57.01 L303.00,57.04 L303.50,57.07 L304.00,57.10 L304.50,57.13 L305.00,57.17 L305.50,57.20 L306.00,57.23 L306.50,57.27 L307.00,57.30 L307.50,57.34 L308.00,57.37 L308.50,57.40 L309.00,57.43 L309.50,57.46 L310.00,57.49 L310.50,57.52 L311.00,57.54 L311.50,57.56 L312.00,57.58 L312.50,57.59 L313.00,57.60 L313.50,57.61 L314.00,57.61 L314.50,57.61 L315.00,57.60 L315.50,57.59 L316.00,57.57 L316.50,57.54 L317.00,57.51 L317.50,57.47 L318.00,57.43 L318.50,57.38 L319.00,57.33 L319.50,57.28 L320.00,57.22 L320.50,57.16 L321.00,57.10 L321.50,57.04 L322.00,56.98 L322.50,56.91 L323.00,56.85 L323.50,56.79 L324.00,56.72 L324.50,56.66 L325.00,56.60 L325.50,56.55 L326.00,56.50 L326.50,56.45 L327.00,56.40 L327.50,56.36 L328.00,56.31 L328.50,56.27 L329.00,56.22 L329.50,56.17 L330.00,56.13 L330.50,56.08 L331.00,56.03 L331.50,55.98 L332.00,55.94 L332.50,55.89 L333.00,55.84 L333.50,55.79 L334.00,55.75 L334.50,55.70 L335.00,55.65 L335.50,55.61 L336.00,55.56 L336.50,55.52 L337.00,55.48 L337.50,55.44 L338.00,55.40 L338.50,55.36 L339.00,55.32 L339.50,55.28 L340.00,55.25 L340.50,55.21 L341.00,55.18 L341.50,55.15 L342.00,55.12 L342.50,55.10 L343.00,55.07 L343.50,55.05 L344.00,55.03 L344.50,55.01 L345.00,55.00 L345.50,54.99 L346.00,54.97 L346.50,54.96 L347.00,54.95 L347.50,54.94 L348.00,54.93 L348.50,54.92 L349.00,54.91 L349.50,54.90 L350.00,54.89 L350.50,54.89 L351.00,54.88 L351.50,54.87 L352.00,54.87 L352.50,54.86 L353.00,54.86 L353.50,54.85 L354.00,54.85 L354.50,54.84 L355.00,54.84 L355.50,54.83 L356.00,54.83 L356.50,54.83 L357.00,54.83 L357.50,54.83 L358.00,54.82 L358.50,54.82 L359.00,54.82 L359.50,54.82 L360.00,54.82 L360.50,54.82 L361.00,54.82 L361.50,54.82 L362.00,54.82 L362.50,54.83 L363.00,54.83 L363.50,54.83 L364.00,54.83 L364.50,54.83 L365.00,54.84 L365.50,54.84 L366.00,54.84 L366.50,54.85 L367.00,54.85 L367.50,54.86 L368.00,54.86 L368.50,54.86 L369.00,54.87 L369.50,54.87 L370.00,54.88 L370.50,54.88 L371.00,54.89 L371.50,54.89 L372.00,54.90 L372.50,54.90 L373.00,54.91 L373.50,54.92 L374.00,54.92 L374.50,54.93 L375.00,54.93 L375.50,54.94 L376.00,54.95 L376.50,54.95 L377.00,54.96 L377.50,54.97 L378.00,54.97 L378.50,54.98 L379.00,54.99 L379.50,54.99 L380.00,55.00 L380.50,55.01 L381.00,55.01 L381.50,55.02 L382.00,55.03 L382.50,55.04 L383.00,55.05 L383.50,55.05 L384.00,55.06 L384.50,55.07 L385.00,55.08 L385.50,55.09 L386.00,55.10 L386.50,55.11 L387.00,55.12 L387.50,55.13 L388.00,55.14 L388.50,55.15 L389.00,55.16 L389.50,55.17 L390.00,55.18 L390.50,55.20 L391.00,55.21 L391.50,55.22 L392.00,55.23 L392.50,55.24 L393.00,55.26 L393.50,55.27 L394.00,55.28 L394.50,55.29 L395.00,55.31 L395.50,55.32 L396.00,55.33 L396.50,55.35 L397.00,55.36 L397.50,55.37 L398.00,55.39 L398.50,55.40 L399.00,55.41 L399.50,55.43 L400.00,55.44 L400.50,55.46 L401.00,55.47 L401.50,55.48 L402.00,55.50 L402.50,55.51 L403.00,55.53 L403.50,55.54 L404.00,55.56 L404.50,55.57 L405.00,55.58 L405.50,55.60 L406.00,55.61 L406.50,55.63 L407.00,55.64 L407.50,55.66 L408.00,55.67 L408.50,55.69 L409.00,55.70 L409.50,55.71 L410.00,55.73 L410.50,55.74 L411.00,55.76 L411.50,55.77 L412.00,55.79 L412.50,55.80 L413.00,55.81 L413.50,55.83 L414.00,55.84 L414.50,55.85 L415.00,55.87 L415.50,55.88 L416.00,55.90 L416.50,55.91 L417.00,55.92 L417.50,55.94 L418.00,55.95 L418.50,55.96 L419.00,55.97 L419.50,55.99 L420.00,56.00 L420.50,56.01 L421.00,56.03 L421.50,56.04 L422.00,56.05 L422.50,56.06 L423.00,56.08 L423.50,56.09 L424.00,56.10 L424.50,56.12 L425.00,56.13 L425.50,56.15 L426.00,56.16 L426.50,56.17 L427.00,56.19 L427.50,56.20 L428.00,56.22 L428.50,56.23 L429.00,56.24 L429.50,56.26 L430.00,56.27 L430.50,56.29 L431.00,56.30 L431.50,56.32 L432.00,56.33 L432.50,56.35 L433.00,56.36 L433.50,56.38 L434.00,56.39 L434.50,56.40 L435.00,56.42 L435.50,56.43 L436.00,56.45 L436.50,56.46 L437.00,56.48 L437.50,56.49 L438.00,56.51 L438.50,56.52 L439.00,56.53 L439.50,56.55 L440.00,56.56 L440.50,56.58 L441.00,56.59 L441.50,56.60 L442.00,56.62 L442.50,56.63 L443.00,56.65 L443.50,56.66 L444.00,56.67 L444.50,56.69 L445.00,56.70 L445.50,56.71 L446.00,56.72 L446.50,56.74 L447.00,56.75 L447.50,56.76 L448.00,56.77 L448.50,56.79 L449.00,56.80 L449.50,56.81 L450.00,56.82 L450.50,56.83 L451.00,56.84 L451.50,56.85 L452.00,56.86 L452.50,56.87 L453.00,56.88 L453.50,56.89 L454.00,56.90 L454.50,56.91 L455.00,56.92 L455.50,56.93 L456.00,56.94 L456.50,56.95 L457.00,56.96 L457.50,56.96 L458.00,56.97 L458.50,56.98 L459.00,56.99 L459.50,56.99 L460.00,57.00 L460.50,57.01 L461.00,57.01 L461.50,57.02 L462.00,57.02 L462.50,57.03 L463.00,57.03 L463.50,57.04 L464.00,57.04 L464.50,57.04 L465.00,57.05 L465.50,57.05 L466.00,57.05 L466.50,57.06 L467.00,57.06 L467.50,57.06 L468.00,57.06 L468.50,57.07 L469.00,57.07 L469.50,57.07 L470.00,57.07 L470.50,57.07 L471.00,57.07 L471.50,57.07 L472.00,57.07 L472.50,57.07 L473.00,57.07 L473.50,57.07 L474.00,57.07 L474.50,57.07 L475.00,57.07 L475.50,57.07 L476.00,57.07 L476.50,57.07 L477.00,57.07 L477.50,57.07 L478.00,57.07 L478.50,57.07 L479.00,57.07 L479.50,57.06 L480.00,57.06 L480.50,57.06 L481.00,57.06 L481.50,57.06 L482.00,57.06 L482.50,57.05 L483.00,57.05 L483.50,57.05 L484.00,57.05 L484.50,57.05 L485.00,57.04 L485.50,57.04 L486.00,57.04 L486.50,57.04 L487.00,57.04 L487.50,57.03 L488.00,57.03 L488.50,57.03 L489.00,57.03 L489.50,57.03 L490.00,57.02 L490.50,57.02 L491.00,57.02 L491.50,57.02 L492.00,57.02 L492.50,57.01 L493.00,57.01 L493.50,57.01" stroke="#00ffff" stroke-dasharray="12 11.2" stroke-dashoffset="0"/>
<path d="M63.50,90.00 L64.50,62.00 L65.50,40.00 L66.80,42.00 L69.00,56.00 L70.00,54.82 L70.50,54.79 L71.00,54.76 L71.50,54.73 L72.00,54.70 L72.50,54.68 L73.00,54.66 L73.50,54.63 L74.00,54.62 L74.50,54.60 L75.00,54.60 L75.50,54.60 L76.00,54.62 L76.50,54.68 L77.00,54.79 L77.50,54.97 L78.00,55.25 L78.50,55.63 L79.00,56.10 L79.50,56.60 L80.00,57.06 L80.50,57.40 L81.00,57.55 L81.50,57.48 L82.00,57.22 L82.50,56.84 L83.00,56.41 L83.50,56.02 L84.00,55.70 L84.50,55.49 L85.00,55.36 L85.50,55.31 L86.00,55.30 L86.50,55.33 L87.00,55.36 L87.50,55.40 L88.00,55.45 L88.50,55.49 L89.00,55.54 L89.50,55.59 L90.00,55.64 L90.50,55.69 L91.00,55.75 L91.50,55.80 L92.00,55.85 L92.50,55.90 L93.00,55.94 L93.50,55.99 L94.00,56.04 L94.50,56.09 L95.00,56.14 L95.50,56.21 L96.00,56.29 L96.50,56.43 L97.00,56.62 L97.50,56.90 L98.00,57.28 L98.50,57.74 L99.00,58.25 L99.50,58.73 L100.00,59.09 L100.50,59.27 L101.00,59.23 L101.50,58.98 L102.00,58.59 L102.50,58.14 L103.00,57.71 L103.50,57.35 L104.00,57.09 L104.50,56.92 L105.00,56.82 L105.50,56.78 L106.00,56.77 L106.50,56.78 L107.00,56.80 L107.50,56.83 L108.00,56.85 L108.50,56.88 L109.00,56.91 L109.50,56.94 L110.00,56.96 L110.50,56.99 L111.00,57.02 L111.50,57.04 L112.00,57.07 L112.50,57.10 L113.00,57.13 L113.50,57.16 L114.00,57.19 L114.50,57.22 L115.00,57.27 L115.50,57.34 L116.00,57.46 L116.50,57.63 L117.00,57.89 L117.50,58.24 L118.00,58.69 L118.50,59.19 L119.00,59.68 L119.50,60.07 L120.00,60.29 L120.50,60.29 L121.00,60.09 L121.50,59.72 L122.00,59.28 L122.50,58.84 L123.00,58.47 L123.50,58.19 L124.00,58.01 L124.50,57.91 L125.00,57.87 L125.50,57.87 L126.00,57.89 L126.50,57.93 L127.00,57.97 L127.50,58.02 L128.00,58.07 L128.50,58.11 L129.00,58.16 L129.50,58.21 L130.00,58.25 L130.50,58.29 L131.00,58.32 L131.50,58.36 L132.00,58.40 L132.50,58.44 L133.00,58.48 L133.50,58.52 L134.00,58.57 L134.50,58.63 L135.00,58.71 L135.50,58.82 L136.00,58.98 L136.50,59.22 L137.00,59.56 L137.50,59.98 L138.00,60.46 L138.50,60.94 L139.00,61.33 L139.50,61.56 L140.00,61.57 L140.50,61.36 L141.00,60.97 L141.50,60.48 L142.00,59.97 L142.50,59.51 L143.00,59.14 L143.50,58.86 L144.00,58.67 L144.50,58.53 L145.00,58.44 L145.50,58.36 L146.00,58.30 L146.50,58.24 L147.00,58.19 L147.50,58.14 L148.00,58.09 L148.50,58.04 L149.00,58.00 L149.50,57.96 L150.00,57.92 L150.50,57.88 L151.00,57.84 L151.50,57.80 L152.00,57.76 L152.50,57.72 L153.00,57.68 L153.50,57.65 L154.00,57.63 L154.50,57.62 L155.00,57.65 L155.50,57.73 L156.00,57.89 L156.50,58.14 L157.00,58.48 L157.50,58.90 L158.00,59.34 L158.50,59.71 L159.00,59.94 L159.50,59.97 L160.00,59.78 L160.50,59.41 L161.00,58.92 L161.50,58.41 L162.00,57.93 L162.50,57.55 L163.00,57.26 L163.50,57.07 L164.00,56.94 L164.50,56.85 L165.00,56.79 L165.50,56.74 L166.00,56.70 L166.50,56.67 L167.00,56.63 L167.50,56.59 L168.00,56.56 L168.50,56.52 L169.00,56.48 L169.50,56.44 L170.00,56.40 L170.50,56.36 L171.00,56.31 L171.50,56.26 L172.00,56.21 L172.50,56.17 L173.00,56.12 L173.50,56.08 L174.00,56.06 L174.50,56.06 L175.00,56.12 L175.50,56.25 L176.00,56.47 L176.50,56.79 L177.00,57.19 L177.50,57.62 L178.00,58.01 L178.50,58.28 L179.00,58.36 L179.50,58.22 L180.00,57.89 L180.50,57.44 L181.00,56.94 L181.50,56.48 L182.00,56.09 L182.50,55.81 L183.00,55.61 L183.50,55.49 L184.00,55.41 L184.50,55.37 L185.00,55.33 L185.50,55.31 L186.00,55.28 L186.50,55.25 L187.00,55.22 L187.50,55.19 L188.00,55.14 L188.50,55.10 L189.00,55.05 L189.50,55.00 L190.00,54.94 L190.50,54.88 L191.00,54.82 L191.50,54.76 L192.00,54.71 L192.50,54.66 L193.00,54.61 L193.50,54.59 L194.00,54.59 L194.50,54.65 L195.00,54.77 L195.50,54.98 L196.00,55.29 L196.50,55.69 L197.00,56.13 L197.50,56.55 L198.00,56.85 L198.50,56.98 L199.00,56.88 L199.50,56.59 L200.00,56.15 L200.50,55.65 L201.00,55.17 L201.50,54.76 L202.00,54.45 L202.50,54.23 L203.00,54.09 L203.50,54.00 L204.00,53.95 L204.50,53.91 L205.00,53.89 L205.50,53.87 L206.00,53.85 L206.50,53.83 L207.00,53.81 L207.50,53.79 L208.00,53.77 L208.50,53.75 L209.00,53.74 L209.50,53.72 L210.00,53.70 L210.50,53.68 L211.00,53.66 L211.50,53.65 L212.00,53.63 L212.50,53.62 L213.00,53.63 L213.50,53.65 L214.00,53.72 L214.50,53.85 L215.00,54.06 L215.50,54.38 L216.00,54.78 L216.50,55.23 L217.00,55.68 L217.50,56.03 L218.00,56.21 L218.50,56.17 L219.00,55.93 L219.50,55.52 L220.00,55.04 L220.50,54.56 L221.00,54.15 L221.50,53.83 L222.00,53.60 L222.50,53.46 L223.00,53.37 L223.50,53.32 L224.00,53.29 L224.50,53.27 L225.00,53.26 L225.50,53.25 L226.00,53.24 L226.50,53.23 L227.00,53.22 L227.50,53.22 L228.00,53.21 L228.50,53.21 L229.00,53.20 L229.50,53.20 L230.00,53.20 L230.50,53.20 L231.00,53.20 L231.50,53.21 L232.00,53.22 L232.50,53.25 L233.00,53.30 L233.50,53.38 L234.00,53.53 L234.50,53.75 L235.00,54.07 L235.50,54.49 L236.00,54.98 L236.50,55.47 L237.00,55.88 L237.50,56.13 L238.00,56.18 L238.50,56.02 L239.00,55.68 L239.50,55.25 L240.00,54.81 L240.50,54.43 L241.00,54.13 L241.50,53.94 L242.00,53.83 L242.50,53.78 L243.00,53.78 L243.50,53.79 L244.00,53.82 L244.50,53.86 L245.00,53.90 L245.50,53.94 L246.00,53.97 L246.50,54.01 L247.00,54.05 L247.50,54.09 L248.00,54.12 L248.50,54.16 L249.00,54.19 L249.50,54.22 L250.00,54.25 L250.50,54.28 L251.00,54.30 L251.50,54.33 L252.00,54.37 L252.50,54.41 L253.00,54.49 L253.50,54.62 L254.00,54.82 L254.50,55.12 L255.00,55.50 L255.50,55.97 L256.00,56.44 L256.50,56.86 L257.00,57.13 L257.50,57.20 L258.00,57.06 L258.50,56.73 L259.00,56.29 L259.50,55.82 L260.00,55.41 L260.50,55.08 L261.00,54.85 L261.50,54.72 L262.00,54.65 L262.50,54.64 L263.00,54.65 L263.50,54.68 L264.00,54.72 L264.50,54.76 L265.00,54.81 L265.50,54.86 L266.00,54.91 L266.50,54.96 L267.00,55.01 L267.50,55.07 L268.00,55.12 L268.50,55.18 L269.00,55.23 L269.50,55.29 L270.00,55.36 L270.50,55.43 L271.00,55.50 L271.50,55.58 L272.00,55.69 L272.50,55.82 L273.00,56.00 L273.50,56.25 L274.00,56.59 L274.50,57.03 L275.00,57.55 L275.50,58.09 L276.00,58.59 L276.50,58.96 L277.00,59.13 L277.50,59.08 L278.00,58.83 L278.50,58.44 L279.00,58.01 L279.50,57.60 L280.00,57.26 L280.50,57.02 L281.00,56.87 L281.50,56.78 L282.00,56.74 L282.50,56.73 L283.00,56.73 L283.50,56.74 L284.00,56.75 L284.50,56.76 L285.00,56.77 L285.50,56.78 L286.00,56.79 L286.50,56.79 L287.00,56.80 L287.50,56.80 L288.00,56.81 L288.50,56.81 L289.00,56.81 L289.50,56.81 L290.00,56.82 L290.50,56.82 L291.00,56.83 L291.50,56.86 L292.00,56.91 L292.50,57.01 L293.00,57.17 L293.50,57.42 L294.00,57.77 L294.50,58.20 L295.00,58.68 L295.50,59.13 L296.00,59.47 L296.50,59.63 L297.00,59.57 L297.50,59.31 L298.00,58.90 L298.50,58.44 L299.00,57.99 L299.50,57.62 L300.00,57.34 L300.50,57.16 L301.00,57.06 L301.50,57.02 L302.00,57.01 L302.50,57.02 L303.00,57.04 L303.50,57.07 L304.00,57.10 L304.50,57.13 L305.00,57.17 L305.50,57.20 L306.00,57.23 L306.50,57.27 L307.00,57.30 L307.50,57.34 L308.00,57.37 L308.50,57.40 L309.00,57.44 L309.50,57.47 L310.00,57.50 L310.50,57.53 L311.00,57.58 L311.50,57.64 L312.00,57.74 L312.50,57.90 L313.00,58.14 L313.50,58.48 L314.00,58.90 L314.50,59.37 L315.00,59.82 L315.50,60.18 L316.00,60.35 L316.50,60.30 L317.00,60.04 L317.50,59.61 L318.00,59.10 L318.50,58.58 L319.00,58.13 L319.50,57.77 L320.00,57.50 L320.50,57.31 L321.00,57.17 L321.50,57.07 L322.00,56.99 L322.50,56.92 L323.00,56.85 L323.50,56.79 L324.00,56.72 L324.50,56.66 L325.00,56.60 L325.50,56.55 L326.00,56.50 L326.50,56.45 L327.00,56.40 L327.50,56.36 L328.00,56.31 L328.50,56.27 L329.00,56.22 L329.50,56.18 L330.00,56.14 L330.50,56.11 L331.00,56.10 L331.50,56.13 L332.00,56.21 L332.50,56.38 L333.00,56.64 L333.50,56.99 L334.00,57.41 L334.50,57.84 L335.00,58.18 L335.50,58.37 L336.00,58.35 L336.50,58.11 L337.00,57.70 L337.50,57.20 L338.00,56.69 L338.50,56.23 L339.00,55.86 L339.50,55.59 L340.00,55.41 L340.50,55.29 L341.00,55.22 L341.50,55.17 L342.00,55.13 L342.50,55.10 L343.00,55.07 L343.50,55.05 L344.00,55.03 L344.50,55.01 L345.00,55.00 L345.50,54.99 L346.00,54.97 L346.50,54.96 L347.00,54.95 L347.50,54.94 L348.00,54.93 L348.50,54.92 L349.00,54.92 L349.50,54.91 L350.00,54.92 L350.50,54.95 L351.00,55.01 L351.50,55.12 L352.00,55.31 L352.50,55.59 L353.00,55.97 L353.50,56.42 L354.00,56.89 L354.50,57.30 L355.00,57.57 L355.50,57.63 L356.00,57.48 L356.50,57.14 L357.00,56.69 L357.50,56.21 L358.00,55.77 L358.50,55.42 L359.00,55.17 L359.50,55.01 L360.00,54.92 L360.50,54.87 L361.00,54.84 L361.50,54.83 L362.00,54.83 L362.50,54.83 L363.00,54.83 L363.50,54.83 L364.00,54.83 L364.50,54.83 L365.00,54.84 L365.50,54.84 L366.00,54.84 L366.50,54.85 L367.00,54.85 L367.50,54.86 L368.00,54.86 L368.50,54.87 L369.00,54.88 L369.50,54.90 L370.00,54.93 L370.50,54.99 L371.00,55.10 L371.50,55.29 L372.00,55.56 L372.50,55.93 L373.00,56.39 L373.50,56.87 L374.00,57.31 L374.50,57.62 L375.00,57.73 L375.50,57.63 L376.00,57.33 L376.50,56.91 L377.00,56.44 L377.50,56.00 L378.00,55.64 L378.50,55.37 L379.00,55.20 L379.50,55.10 L380.00,55.05 L380.50,55.03 L381.00,55.02 L381.50,55.02 L382.00,55.03 L382.50,55.04 L383.00,55.05 L383.50,55.05 L384.00,55.06 L384.50,55.07 L385.00,55.08 L385.50,55.09 L386.00,55.10 L386.50,55.11 L387.00,55.12 L387.50,55.13 L388.00,55.14 L388.50,55.16 L389.00,55.18 L389.50,55.22 L390.00,55.28 L390.50,55.39 L391.00,55.56 L391.50,55.82 L392.00,56.18 L392.50,56.63 L393.00,57.11 L393.50,57.58 L394.00,57.92 L394.50,58.09 L395.00,58.04 L395.50,57.78 L396.00,57.38 L396.50,56.92 L397.00,56.47 L397.50,56.10 L398.00,55.83 L398.50,55.65 L399.00,55.54 L399.50,55.49 L400.00,55.47 L400.50,55.47 L401.00,55.47 L401.50,55.49 L402.00,55.50 L402.50,55.51 L403.00,55.53 L403.50,55.54 L404.00,55.56 L404.50,55.57 L405.00,55.58 L405.50,55.60 L406.00,55.61 L406.50,55.63 L407.00,55.64 L407.50,55.66 L408.00,55.68 L408.50,55.70 L409.00,55.74 L409.50,55.80 L410.00,55.89 L410.50,56.06 L411.00,56.30 L411.50,56.64 L412.00,57.08 L412.50,57.56 L413.00,58.04 L413.50,58.42 L414.00,58.62 L414.50,58.61 L415.00,58.40 L415.50,58.02 L416.00,57.56 L416.50,57.11 L417.00,56.72 L417.50,56.43 L418.00,56.23 L418.50,56.11 L419.00,56.04 L419.50,56.02 L420.00,56.01 L420.50,56.02 L421.00,56.03 L421.50,56.04 L422.00,56.05 L422.50,56.06 L423.00,56.08 L423.50,56.09 L424.00,56.10 L424.50,56.12 L425.00,56.13 L425.50,56.15 L426.00,56.16 L426.50,56.17 L427.00,56.19 L427.50,56.21 L428.00,56.23 L428.50,56.26 L429.00,56.31 L429.50,56.40 L430.00,56.55 L430.50,56.78 L431.00,57.10 L431.50,57.52 L432.00,58.00 L432.50,58.48 L433.00,58.89 L433.50,59.14 L434.00,59.17 L434.50,58.99 L435.00,58.64 L435.50,58.20 L436.00,57.74 L436.50,57.33 L437.00,57.02 L437.50,56.80 L438.00,56.67 L438.50,56.60 L439.00,56.57 L439.50,56.56 L440.00,56.57 L440.50,56.58 L441.00,56.59 L441.50,56.60 L442.00,56.62 L442.50,56.63 L443.00,56.65 L443.50,56.66 L444.00,56.67 L444.50,56.69 L445.00,56.70 L445.50,56.71 L446.00,56.72 L446.50,56.74 L447.00,56.75 L447.50,56.77 L448.00,56.80 L448.50,56.85 L449.00,56.92 L449.50,57.05 L450.00,57.26 L450.50,57.56 L451.00,57.96 L451.50,58.42 L452.00,58.91 L452.50,59.33 L453.00,59.61 L453.50,59.69 L454.00,59.55 L454.50,59.22 L455.00,58.78 L455.50,58.31 L456.00,57.89 L456.50,57.55 L457.00,57.31 L457.50,57.16 L458.00,57.07 L458.50,57.02 L459.00,57.01 L459.50,57.00 L460.00,57.00 L460.50,57.01 L461.00,57.01 L461.50,57.02 L462.00,57.02 L462.50,57.03 L463.00,57.03 L463.50,57.04 L464.00,57.04 L464.50,57.04 L465.00,57.05 L465.50,57.05 L466.00,57.06 L466.50,57.06 L467.00,57.07 L467.50,57.08 L468.00,57.12 L468.50,57.18 L469.00,57.28 L469.50,57.46 L470.00,57.73 L470.50,58.10 L471.00,58.55 L471.50,59.03 L472.00,59.46 L472.50,59.76 L473.00,59.87 L473.50,59.76 L474.00,59.46 L474.50,59.03 L475.00,58.55 L475.50,58.10 L476.00,57.74 L476.50,57.47 L477.00,57.29 L477.50,57.18 L478.00,57.12 L478.50,57.09 L479.00,57.07 L479.50,57.07 L480.00,57.06 L480.50,57.06 L481.00,57.06 L481.50,57.06 L482.00,57.06 L482.50,57.05 L483.00,57.05 L483.50,57.05 L484.00,57.05 L484.50,57.05 L485.00,57.04 L485.50,57.04 L486.00,57.04 L486.50,57.05 L487.00,57.05 L487.50,57.08 L488.00,57.13 L488.50,57.22 L489.00,57.38 L489.50,57.63 L490.00,57.97 L490.50,58.40 L491.00,58.88 L491.50,59.32 L492.00,59.66 L492.50,59.81 L493.00,59.74 L493.50,59.47" stroke="#ff8000" stroke-dasharray="12 11.2" stroke-dashoffset="0"/>
<path d="M63.40,93.00 L64.30,70.00 L65.80,34.60 L66.40,35.20 L68.30,54.60 L70.00,54.82 L70.50,54.79 L71.00,54.76 L71.50,54.73 L72.00,54.70 L72.50,54.68 L73.00,54.66 L73.50,54.63 L74.00,54.62 L74.50,54.60 L75.00,54.59 L75.50,54.58 L76.00,54.57 L76.50,54.57 L77.00,54.50 L77.50,54.39 L78.00,54.29 L78.50,54.19 L79.00,54.09 L79.50,54.01 L80.00,53.92 L80.50,54.04 L81.00,54.30 L81.50,54.56 L82.00,54.82 L82.50,55.08 L83.00,55.35 L83.50,55.44 L84.00,55.41 L84.50,55.38 L85.00,55.35 L85.50,55.32 L86.00,55.29 L86.50,55.30 L87.00,55.35 L87.50,55.40 L88.00,55.45 L88.50,55.49 L89.00,55.54 L89.50,55.59 L90.00,55.64 L90.50,55.69 L91.00,55.75 L91.50,55.80 L92.00,55.85 L92.50,55.90 L93.00,55.94 L93.50,55.95 L94.00,55.88 L94.50,55.81 L95.00,55.74 L95.50,55.66 L96.00,55.59 L96.50,55.51 L97.00,55.55 L97.50,55.80 L98.00,56.04 L98.50,56.29 L99.00,56.54 L99.50,56.78 L100.00,56.92 L100.50,56.86 L101.00,56.80 L101.50,56.74 L102.00,56.69 L102.50,56.63 L103.00,56.60 L103.50,56.62 L104.00,56.65 L104.50,56.67 L105.00,56.70 L105.50,56.72 L106.00,56.75 L106.50,56.77 L107.00,56.80 L107.50,56.83 L108.00,56.85 L108.50,56.88 L109.00,56.91 L109.50,56.94 L110.00,56.95 L110.50,56.86 L111.00,56.77 L111.50,56.69 L112.00,56.60 L112.50,56.51 L113.00,56.43 L113.50,56.38 L114.00,56.62 L114.50,56.87 L115.00,57.11 L115.50,57.35 L116.00,57.60 L116.50,57.81 L117.00,57.75 L117.50,57.70 L118.00,57.64 L118.50,57.58 L119.00,57.53 L119.50,57.48 L120.00,57.51 L120.50,57.53 L121.00,57.56 L121.50,57.59 L122.00,57.61 L122.50,57.64 L123.00,57.67 L123.50,57.70 L124.00,57.73 L124.50,57.77 L125.00,57.80 L125.50,57.84 L126.00,57.88 L126.50,57.92 L127.00,57.87 L127.50,57.80 L128.00,57.74 L128.50,57.67 L129.00,57.60 L129.50,57.53 L130.00,57.46 L130.50,57.68 L131.00,57.93 L131.50,58.18 L132.00,58.44 L132.50,58.69 L133.00,58.95 L133.50,58.95 L134.00,58.90 L134.50,58.86 L135.00,58.81 L135.50,58.77 L136.00,58.71 L136.50,58.73 L137.00,58.76 L137.50,58.78 L138.00,58.79 L138.50,58.80 L139.00,58.80 L139.50,58.80 L140.00,58.79 L140.50,58.77 L141.00,58.75 L141.50,58.71 L142.00,58.68 L142.50,58.64 L143.00,58.60 L143.50,58.48 L144.00,58.31 L144.50,58.15 L145.00,57.98 L145.50,57.81 L146.00,57.65 L146.50,57.48 L147.00,57.53 L147.50,57.69 L148.00,57.86 L148.50,58.03 L149.00,58.21 L149.50,58.38 L150.00,58.37 L150.50,58.24 L151.00,58.12 L151.50,58.00 L152.00,57.87 L152.50,57.75 L153.00,57.68 L153.50,57.64 L154.00,57.60 L154.50,57.56 L155.00,57.52 L155.50,57.48 L156.00,57.45 L156.50,57.41 L157.00,57.37 L157.50,57.33 L158.00,57.29 L158.50,57.25 L159.00,57.21 L159.50,57.18 L160.00,57.09 L160.50,56.94 L161.00,56.79 L161.50,56.63 L162.00,56.48 L162.50,56.33 L163.00,56.18 L163.50,56.16 L164.00,56.34 L164.50,56.53 L165.00,56.71 L165.50,56.89 L166.00,57.07 L166.50,57.13 L167.00,57.01 L167.50,56.89 L168.00,56.77 L168.50,56.65 L169.00,56.53 L169.50,56.44 L170.00,56.40 L170.50,56.36 L171.00,56.31 L171.50,56.26 L172.00,56.21 L172.50,56.16 L173.00,56.11 L173.50,56.06 L174.00,56.01 L174.50,55.95 L175.00,55.90 L175.50,55.85 L176.00,55.80 L176.50,55.74 L177.00,55.58 L177.50,55.42 L178.00,55.27 L178.50,55.12 L179.00,54.97 L179.50,54.83 L180.00,54.74 L180.50,54.94 L181.00,55.13 L181.50,55.33 L182.00,55.53 L182.50,55.73 L183.00,55.88 L183.50,55.78 L184.00,55.68 L184.50,55.58 L185.00,55.48 L185.50,55.37 L186.00,55.28 L186.50,55.25 L187.00,55.22 L187.50,55.19 L188.00,55.14 L188.50,55.10 L189.00,55.05 L189.50,55.00 L190.00,54.94 L190.50,54.88 L191.00,54.82 L191.50,54.76 L192.00,54.71 L192.50,54.65 L193.00,54.60 L193.50,54.44 L194.00,54.28 L194.50,54.12 L195.00,53.97 L195.50,53.82 L196.00,53.66 L196.50,53.52 L197.00,53.67 L197.50,53.86 L198.00,54.04 L198.50,54.23 L199.00,54.42 L199.50,54.61 L200.00,54.52 L200.50,54.42 L201.00,54.31 L201.50,54.20 L202.00,54.10 L202.50,53.99 L203.00,53.96 L203.50,53.94 L204.00,53.92 L204.50,53.90 L205.00,53.88 L205.50,53.86 L206.00,53.85 L206.50,53.83 L207.00,53.81 L207.50,53.79 L208.00,53.77 L208.50,53.75 L209.00,53.74 L209.50,53.72 L210.00,53.62 L210.50,53.49 L211.00,53.36 L211.50,53.22 L212.00,53.09 L212.50,52.96 L213.00,52.83 L213.50,52.92 L214.00,53.12 L214.50,53.32 L215.00,53.52 L215.50,53.72 L216.00,53.92 L216.50,53.91 L217.00,53.82 L217.50,53.72 L218.00,53.62 L218.50,53.52 L219.00,53.43 L219.50,53.39 L220.00,53.37 L220.50,53.36 L221.00,53.35 L221.50,53.34 L222.00,53.32 L222.50,53.31 L223.00,53.30 L223.50,53.29 L224.00,53.28 L224.50,53.27 L225.00,53.26 L225.50,53.25 L226.00,53.24 L226.50,53.18 L227.00,53.06 L227.50,52.94 L228.00,52.82 L228.50,52.70 L229.00,52.58 L229.50,52.46 L230.00,52.50 L230.50,52.71 L231.00,52.93 L231.50,53.15 L232.00,53.37 L232.50,53.60 L233.00,53.69 L233.50,53.62 L234.00,53.54 L234.50,53.47 L235.00,53.41 L235.50,53.34 L236.00,53.31 L236.50,53.33 L237.00,53.35 L237.50,53.37 L238.00,53.40 L238.50,53.43 L239.00,53.46 L239.50,53.49 L240.00,53.52 L240.50,53.55 L241.00,53.59 L241.50,53.63 L242.00,53.66 L242.50,53.70 L243.00,53.72 L243.50,53.64 L244.00,53.57 L244.50,53.49 L245.00,53.42 L245.50,53.34 L246.00,53.27 L246.50,53.26 L247.00,53.51 L247.50,53.76 L248.00,54.01 L248.50,54.27 L249.00,54.51 L249.50,54.70 L250.00,54.65 L250.50,54.59 L251.00,54.53 L251.50,54.47 L252.00,54.41 L252.50,54.35 L253.00,54.37 L253.50,54.37 L254.00,54.38 L254.50,54.39 L255.00,54.39 L255.50,54.39 L256.00,54.40 L256.50,54.40 L257.00,54.40 L257.50,54.41 L258.00,54.41 L258.50,54.42 L259.00,54.43 L259.50,54.44 L260.00,54.35 L260.50,54.25 L261.00,54.16 L261.50,54.07 L262.00,53.99 L262.50,53.91 L263.00,53.83 L263.50,54.08 L264.00,54.34 L264.50,54.60 L265.00,54.87 L265.50,55.13 L266.00,55.40 L266.50,55.38 L267.00,55.35 L267.50,55.32 L268.00,55.29 L268.50,55.26 L269.00,55.24 L269.50,55.29 L270.00,55.36 L270.50,55.42 L271.00,55.49 L271.50,55.56 L272.00,55.63 L272.50,55.71 L273.00,55.78 L273.50,55.86 L274.00,55.93 L274.50,56.00 L275.00,56.07 L275.50,56.14 L276.00,56.21 L276.50,56.19 L277.00,56.14 L277.50,56.08 L278.00,56.02 L278.50,55.95 L279.00,55.88 L279.50,55.80 L280.00,55.96 L280.50,56.20 L281.00,56.44 L281.50,56.68 L282.00,56.91 L282.50,57.15 L283.00,57.17 L283.50,57.10 L284.00,57.03 L284.50,56.95 L285.00,56.88 L285.50,56.80 L286.00,56.79 L286.50,56.79 L287.00,56.80 L287.50,56.80 L288.00,56.81 L288.50,56.81 L289.00,56.81 L289.50,56.81 L290.00,56.81 L290.50,56.82 L291.00,56.82 L291.50,56.82 L292.00,56.82 L292.50,56.82 L293.00,56.76 L293.50,56.65 L294.00,56.54 L294.50,56.42 L295.00,56.31 L295.50,56.20 L296.00,56.09 L296.50,56.14 L297.00,56.36 L297.50,56.58 L298.00,56.81 L298.50,57.03 L299.00,57.26 L299.50,57.35 L300.00,57.28 L300.50,57.21 L301.00,57.14 L301.50,57.08 L302.00,57.02 L302.50,57.01 L303.00,57.04 L303.50,57.07 L304.00,57.10 L304.50,57.13 L305.00,57.17 L305.50,57.20 L306.00,57.23 L306.50,57.27 L307.00,57.30 L307.50,57.34 L308.00,57.37 L308.50,57.40 L309.00,57.43 L309.50,57.44 L310.00,57.35 L310.50,57.26 L311.00,57.17 L311.50,57.07 L312.00,56.98 L312.50,56.88 L313.00,56.85 L313.50,57.08 L314.00,57.29 L314.50,57.51 L315.00,57.72 L315.50,57.92 L316.00,58.05 L316.50,57.94 L317.00,57.82 L317.50,57.70 L318.00,57.58 L318.50,57.45 L319.00,57.33 L319.50,57.28 L320.00,57.22 L320.50,57.16 L321.00,57.10 L321.50,57.04 L322.00,56.98 L322.50,56.91 L323.00,56.85 L323.50,56.79 L324.00,56.72 L324.50,56.66 L325.00,56.60 L325.50,56.55 L326.00,56.50 L326.50,56.33 L327.00,56.17 L327.50,56.01 L328.00,55.85 L328.50,55.69 L329.00,55.53 L329.50,55.37 L330.00,55.54 L330.50,55.71 L331.00,55.88 L331.50,56.05 L332.00,56.22 L332.50,56.39 L333.00,56.26 L333.50,56.13 L334.00,56.00 L334.50,55.87 L335.00,55.74 L335.50,55.61 L336.00,55.56 L336.50,55.52 L337.00,55.48 L337.50,55.44 L338.00,55.40 L338.50,55.36 L339.00,55.32 L339.50,55.28 L340.00,55.25 L340.50,55.21 L341.00,55.18 L341.50,55.15 L342.00,55.12 L342.50,55.10 L343.00,54.99 L343.50,54.85 L344.00,54.72 L344.50,54.58 L345.00,54.46 L345.50,54.33 L346.00,54.20 L346.50,54.33 L347.00,54.53 L347.50,54.74 L348.00,54.95 L348.50,55.15 L349.00,55.36 L349.50,55.34 L350.00,55.25 L350.50,55.16 L351.00,55.07 L351.50,54.98 L352.00,54.89 L352.50,54.86 L353.00,54.86 L353.50,54.85 L354.00,54.85 L354.50,54.84 L355.00,54.84 L355.50,54.83 L356.00,54.83 L356.50,54.83 L357.00,54.83 L357.50,54.83 L358.00,54.82 L358.50,54.82 L359.00,54.82 L359.50,54.76 L360.00,54.65 L360.50,54.53 L361.00,54.42 L361.50,54.31 L362.00,54.19 L362.50,54.08 L363.00,54.14 L363.50,54.36 L364.00,54.58 L364.50,54.80 L365.00,55.02 L365.50,55.24 L366.00,55.30 L366.50,55.22 L367.00,55.14 L367.50,55.06 L368.00,54.98 L368.50,54.90 L369.00,54.87 L369.50,54.87 L370.00,54.88 L370.50,54.88 L371.00,54.89 L371.50,54.89 L372.00,54.90 L372.50,54.90 L373.00,54.91 L373.50,54.92 L374.00,54.92 L374.50,54.93 L375.00,54.93 L375.50,54.94 L376.00,54.92 L376.50,54.81 L377.00,54.70 L377.50,54.59 L378.00,54.48 L378.50,54.38 L379.00,54.27 L379.50,54.25 L380.00,54.48 L380.50,54.70 L381.00,54.92 L381.50,55.15 L382.00,55.37 L382.50,55.51 L383.00,55.44 L383.50,55.36 L384.00,55.29 L384.50,55.21 L385.00,55.14 L385.50,55.09 L386.00,55.10 L386.50,55.11 L387.00,55.12 L387.50,55.13 L388.00,55.14 L388.50,55.15 L389.00,55.16 L389.50,55.17 L390.00,55.18 L390.50,55.20 L391.00,55.21 L391.50,55.22 L392.00,55.23 L392.50,55.24 L393.00,55.14 L393.50,55.04 L394.00,54.93 L394.50,54.83 L395.00,54.73 L395.50,54.63 L396.00,54.54 L396.50,54.77 L397.00,55.00 L397.50,55.23 L398.00,55.46 L398.50,55.69 L399.00,55.91 L399.50,55.84 L400.00,55.77 L400.50,55.70 L401.00,55.63 L401.50,55.56 L402.00,55.50 L402.50,55.51 L403.00,55.53 L403.50,55.54 L404.00,55.56 L404.50,55.57 L405.00,55.58 L405.50,55.60 L406.00,55.61 L406.50,55.63 L407.00,55.64 L407.50,55.66 L408.00,55.67 L408.50,55.69 L409.00,55.70 L409.50,55.62 L410.00,55.52 L410.50,55.42 L411.00,55.32 L411.50,55.22 L412.00,55.12 L412.50,55.02 L413.00,55.19 L413.50,55.42 L414.00,55.65 L414.50,55.88 L415.00,56.11 L415.50,56.34 L416.00,56.33 L416.50,56.26 L417.00,56.19 L417.50,56.12 L418.00,56.05 L418.50,55.98 L419.00,55.97 L419.50,55.99 L420.00,56.00 L420.50,56.01 L421.00,56.03 L421.50,56.04 L422.00,56.05 L422.50,56.06 L423.00,56.08 L423.50,56.09 L424.00,56.10 L424.50,56.12 L425.00,56.13 L425.50,56.15 L426.00,56.10 L426.50,56.00 L427.00,55.90 L427.50,55.79 L428.00,55.69 L428.50,55.59 L429.00,55.49 L429.50,55.58 L430.00,55.81 L430.50,56.04 L431.00,56.27 L431.50,56.50 L432.00,56.74 L432.50,56.80 L433.00,56.73 L433.50,56.66 L434.00,56.59 L434.50,56.52 L435.00,56.46 L435.50,56.43 L436.00,56.45 L436.50,56.46 L437.00,56.48 L437.50,56.49 L438.00,56.51 L438.50,56.52 L439.00,56.53 L439.50,56.55 L440.00,56.56 L440.50,56.58 L441.00,56.59 L441.50,56.60 L442.00,56.62 L442.50,56.60 L443.00,56.49 L443.50,56.39 L444.00,56.29 L444.50,56.19 L445.00,56.09 L445.50,55.99 L446.00,55.99 L446.50,56.22 L447.00,56.45 L447.50,56.68 L448.00,56.91 L448.50,57.14 L449.00,57.27 L449.50,57.20 L450.00,57.13 L450.50,57.05 L451.00,56.98 L451.50,56.91 L452.00,56.86 L452.50,56.87 L453.00,56.88 L453.50,56.89 L454.00,56.90 L454.50,56.91 L455.00,56.92 L455.50,56.93 L456.00,56.94 L456.50,56.95 L457.00,56.96 L457.50,56.96 L458.00,56.97 L458.50,56.98 L459.00,56.98 L459.50,56.87 L460.00,56.76 L460.50,56.65 L461.00,56.55 L461.50,56.44 L462.00,56.33 L462.50,56.24 L463.00,56.47 L463.50,56.69 L464.00,56.91 L464.50,57.13 L465.00,57.35 L465.50,57.54 L466.00,57.46 L466.50,57.38 L467.00,57.30 L467.50,57.22 L468.00,57.14 L468.50,57.07 L469.00,57.07 L469.50,57.07 L470.00,57.07 L470.50,57.07 L471.00,57.07 L471.50,57.07 L472.00,57.07 L472.50,57.07 L473.00,57.07 L473.50,57.07 L474.00,57.07 L474.50,57.07 L475.00,57.07 L475.50,57.07 L476.00,56.98 L476.50,56.86 L477.00,56.75 L477.50,56.63 L478.00,56.51 L478.50,56.40 L479.00,56.28 L479.50,56.45 L480.00,56.66 L480.50,56.88 L481.00,57.09 L481.50,57.31 L482.00,57.52 L482.50,57.48 L483.00,57.40 L483.50,57.31 L484.00,57.23 L484.50,57.14 L485.00,57.06 L485.50,57.04 L486.00,57.04 L486.50,57.04 L487.00,57.04 L487.50,57.03 L488.00,57.03 L488.50,57.03 L489.00,57.03 L489.50,57.03 L490.00,57.02 L490.50,57.02 L491.00,57.02 L491.50,57.02 L492.00,57.02 L492.50,56.95 L493.00,56.83 L493.50,56.71" stroke="#0000ff" stroke-dasharray="12 2.8 6 2.8" stroke-dashoffset="0"/>
</g>
<g clip-path="url(#c1)" fill="none" stroke-width="2.7" stroke-linejoin="round">
<path d="M63.50,182.00 L64.50,238.00 L67.00,204.00 L70.00,197.00 L80.00,197.00 L80.50,196.51 L81.00,196.51 L81.50,196.50 L82.00,196.49 L82.50,196.49 L83.00,196.49 L83.50,196.49 L84.00,196.49 L84.50,196.49 L85.00,196.49 L85.50,196.49 L86.00,196.50 L86.50,196.51 L87.00,196.54 L87.50,196.57 L88.00,196.62 L88.50,196.67 L89.00,196.73 L89.50,196.79 L90.00,196.86 L90.50,196.93 L91.00,197.00 L91.50,197.07 L92.00,197.14 L92.50,197.20 L93.00,197.26 L93.50,197.31 L94.00,197.35 L94.50,197.38 L95.00,197.40 L95.50,197.41 L96.00,197.43 L96.50,197.44 L97.00,197.45 L97.50,197.46 L98.00,197.47 L98.50,197.48 L99.00,197.49 L99.50,197.49 L100.00,197.50 L100.50,197.50 L101.00,197.51 L101.50,197.51 L102.00,197.51 L102.50,197.52 L103.00,197.52 L103.50,197.52 L104.00,197.52 L104.50,197.52 L105.00,197.52 L105.50,197.52 L106.00,197.52 L106.50,197.52 L107.00,197.52 L107.50,197.51 L108.00,197.51 L108.50,197.51 L109.00,197.51 L109.50,197.51 L110.00,197.50 L110.50,197.50 L111.00,197.50 L111.50,197.50 L112.00,197.49 L112.50,197.49 L113.00,197.49 L113.50,197.49 L114.00,197.49 L114.50,197.49 L115.00,197.48 L115.50,197.48 L116.00,197.48 L116.50,197.48 L117.00,197.48 L117.50,197.49 L118.00,197.49 L118.50,197.49 L119.00,197.49 L119.50,197.50 L120.00,197.50 L120.50,197.50 L121.00,197.51 L121.50,197.52 L122.00,197.52 L122.50,197.53 L123.00,197.53 L123.50,197.54 L124.00,197.55 L124.50,197.55 L125.00,197.56 L125.50,197.57 L126.00,197.58 L126.50,197.59 L127.00,197.59 L127.50,197.60 L128.00,197.61 L128.50,197.62 L129.00,197.63 L129.50,197.64 L130.00,197.65 L130.50,197.66 L131.00,197.67 L131.50,197.67 L132.00,197.68 L132.50,197.69 L133.00,197.70 L133.50,197.71 L134.00,197.72 L134.50,197.73 L135.00,197.73 L135.50,197.74 L136.00,197.75 L136.50,197.76 L137.00,197.76 L137.50,197.77 L138.00,197.78 L138.50,197.78 L139.00,197.79 L139.50,197.79 L140.00,197.80 L140.50,197.80 L141.00,197.81 L141.50,197.81 L142.00,197.82 L142.50,197.82 L143.00,197.83 L143.50,197.83 L144.00,197.84 L144.50,197.84 L145.00,197.84 L145.50,197.85 L146.00,197.85 L146.50,197.85 L147.00,197.86 L147.50,197.86 L148.00,197.86 L148.50,197.87 L149.00,197.87 L149.50,197.87 L150.00,197.88 L150.50,197.88 L151.00,197.88 L151.50,197.88 L152.00,197.88 L152.50,197.89 L153.00,197.89 L153.50,197.89 L154.00,197.89 L154.50,197.89 L155.00,197.89 L155.50,197.89 L156.00,197.90 L156.50,197.90 L157.00,197.90 L157.50,197.90 L158.00,197.90 L158.50,197.90 L159.00,197.90 L159.50,197.90 L160.00,197.90 L160.50,197.90 L161.00,197.90 L161.50,197.90 L162.00,197.90 L162.50,197.90 L163.00,197.90 L163.50,197.90 L164.00,197.90 L164.50,197.90 L165.00,197.91 L165.50,197.91 L166.00,197.91 L166.50,197.91 L167.00,197.91 L167.50,197.91 L168.00,197.91 L168.50,197.91 L169.00,197.91 L169.50,197.91 L170.00,197.91 L170.50,197.91 L171.00,197.90 L171.50,197.90 L172.00,197.90 L172.50,197.90 L173.00,197.89 L173.50,197.89 L174.00,197.89 L174.50,197.88 L175.00,197.88 L175.50,197.87 L176.00,197.87 L176.50,197.86 L177.00,197.85 L177.50,197.85 L178.00,197.84 L178.50,197.83 L179.00,197.82 L179.50,197.81 L180.00,197.80 L180.50,197.79 L181.00,197.78 L181.50,197.76 L182.00,197.75 L182.50,197.73 L183.00,197.71 L183.50,197.69 L184.00,197.68 L184.50,197.66 L185.00,197.64 L185.50,197.62 L186.00,197.59 L186.50,197.57 L187.00,197.55 L187.50,197.53 L188.00,197.50 L188.50,197.48 L189.00,197.46 L189.50,197.43 L190.00,197.41 L190.50,197.38 L191.00,197.36 L191.50,197.34 L192.00,197.31 L192.50,197.29 L193.00,197.27 L193.50,197.24 L194.00,197.22 L194.50,197.20 L195.00,197.18 L195.50,197.16 L196.00,197.14 L196.50,197.12 L197.00,197.10 L197.50,197.08 L198.00,197.06 L198.50,197.04 L199.00,197.03 L199.50,197.01 L200.00,197.00 L200.50,196.99 L201.00,196.97 L201.50,196.96 L202.00,196.95 L202.50,196.94 L203.00,196.93 L203.50,196.92 L204.00,196.91 L204.50,196.89 L205.00,196.88 L205.50,196.87 L206.00,196.86 L206.50,196.85 L207.00,196.84 L207.50,196.84 L208.00,196.83 L208.50,196.82 L209.00,196.81 L209.50,196.80 L210.00,196.79 L210.50,196.78 L211.00,196.78 L211.50,196.77 L212.00,196.76 L212.50,196.75 L213.00,196.74 L213.50,196.74 L214.00,196.73 L214.50,196.72 L215.00,196.72 L215.50,196.71 L216.00,196.70 L216.50,196.69 L217.00,196.69 L217.50,196.68 L218.00,196.67 L218.50,196.67 L219.00,196.66 L219.50,196.65 L220.00,196.65 L220.50,196.64 L221.00,196.63 L221.50,196.63 L222.00,196.62 L222.50,196.61 L223.00,196.60 L223.50,196.60 L224.00,196.59 L224.50,196.58 L225.00,196.58 L225.50,196.57 L226.00,196.56 L226.50,196.55 L227.00,196.55 L227.50,196.54 L228.00,196.53 L228.50,196.52 L229.00,196.52 L229.50,196.51 L230.00,196.50 L230.50,196.49 L231.00,196.48 L231.50,196.48 L232.00,196.47 L232.50,196.46 L233.00,196.45 L233.50,196.44 L234.00,196.43 L234.50,196.43 L235.00,196.42 L235.50,196.41 L236.00,196.40 L236.50,196.40 L237.00,196.39 L237.50,196.38 L238.00,196.37 L238.50,196.36 L239.00,196.36 L239.50,196.35 L240.00,196.34 L240.50,196.33 L241.00,196.33 L241.50,196.32 L242.00,196.31 L242.50,196.30 L243.00,196.29 L243.50,196.29 L244.00,196.28 L244.50,196.27 L245.00,196.26 L245.50,196.25 L246.00,196.25 L246.50,196.24 L247.00,196.23 L247.50,196.22 L248.00,196.21 L248.50,196.21 L249.00,196.20 L249.50,196.19 L250.00,196.18 L250.50,196.17 L251.00,196.16 L251.50,196.16 L252.00,196.15 L252.50,196.14 L253.00,196.13 L253.50,196.12 L254.00,196.11 L254.50,196.10 L255.00,196.09 L255.50,196.09 L256.00,196.08 L256.50,196.07 L257.00,196.06 L257.50,196.05 L258.00,196.04 L258.50,196.03 L259.00,196.02 L259.50,196.01 L260.00,196.00 L260.50,195.99 L261.00,195.98 L261.50,195.97 L262.00,195.95 L262.50,195.94 L263.00,195.92 L263.50,195.91 L264.00,195.89 L264.50,195.87 L265.00,195.86 L265.50,195.84 L266.00,195.82 L266.50,195.81 L267.00,195.79 L267.50,195.77 L268.00,195.76 L268.50,195.74 L269.00,195.73 L269.50,195.71 L270.00,195.70 L270.50,195.69 L271.00,195.67 L271.50,195.66 L272.00,195.65 L272.50,195.63 L273.00,195.62 L273.50,195.61 L274.00,195.60 L274.50,195.58 L275.00,195.57 L275.50,195.56 L276.00,195.55 L276.50,195.54 L277.00,195.52 L277.50,195.51 L278.00,195.50 L278.50,195.49 L279.00,195.48 L279.50,195.46 L280.00,195.45 L280.50,195.44 L281.00,195.43 L281.50,195.42 L282.00,195.40 L282.50,195.39 L283.00,195.38 L283.50,195.37 L284.00,195.36 L284.50,195.34 L285.00,195.33 L285.50,195.32 L286.00,195.31 L286.50,195.29 L287.00,195.28 L287.50,195.27 L288.00,195.25 L288.50,195.24 L289.00,195.23 L289.50,195.21 L290.00,195.20 L290.50,195.19 L291.00,195.17 L291.50,195.16 L292.00,195.14 L292.50,195.13 L293.00,195.11 L293.50,195.10 L294.00,195.08 L294.50,195.06 L295.00,195.05 L295.50,195.03 L296.00,195.01 L296.50,195.00 L297.00,194.98 L297.50,194.96 L298.00,194.95 L298.50,194.93 L299.00,194.91 L299.50,194.90 L300.00,194.88 L300.50,194.86 L301.00,194.85 L301.50,194.83 L302.00,194.82 L302.50,194.80 L303.00,194.78 L303.50,194.77 L304.00,194.75 L304.50,194.74 L305.00,194.72 L305.50,194.71 L306.00,194.70 L306.50,194.68 L307.00,194.67 L307.50,194.66 L308.00,194.64 L308.50,194.63 L309.00,194.62 L309.50,194.61 L310.00,194.60 L310.50,194.59 L311.00,194.58 L311.50,194.57 L312.00,194.56 L312.50,194.56 L313.00,194.55 L313.50,194.54 L314.00,194.54 L314.50,194.53 L315.00,194.53 L315.50,194.52 L316.00,194.52 L316.50,194.51 L317.00,194.51 L317.50,194.50 L318.00,194.50 L318.50,194.50 L319.00,194.50 L319.50,194.50 L320.00,194.49 L320.50,194.49 L321.00,194.49 L321.50,194.49 L322.00,194.49 L322.50,194.49 L323.00,194.49 L323.50,194.50 L324.00,194.50 L324.50,194.50 L325.00,194.50 L325.50,194.50 L326.00,194.51 L326.50,194.51 L327.00,194.52 L327.50,194.53 L328.00,194.54 L328.50,194.55 L329.00,194.56 L329.50,194.57 L330.00,194.58 L330.50,194.59 L331.00,194.60 L331.50,194.62 L332.00,194.63 L332.50,194.64 L333.00,194.65 L333.50,194.67 L334.00,194.68 L334.50,194.69 L335.00,194.70 L335.50,194.71 L336.00,194.72 L336.50,194.73 L337.00,194.74 L337.50,194.75 L338.00,194.76 L338.50,194.77 L339.00,194.78 L339.50,194.79 L340.00,194.80 L340.50,194.81 L341.00,194.82 L341.50,194.83 L342.00,194.84 L342.50,194.85 L343.00,194.86 L343.50,194.87 L344.00,194.88 L344.50,194.89 L345.00,194.90 L345.50,194.91 L346.00,194.92 L346.50,194.93 L347.00,194.94 L347.50,194.95 L348.00,194.96 L348.50,194.97 L349.00,194.98 L349.50,194.99 L350.00,195.00 L350.50,195.01 L351.00,195.02 L351.50,195.03 L352.00,195.04 L352.50,195.05 L353.00,195.06 L353.50,195.07 L354.00,195.08 L354.50,195.09 L355.00,195.10 L355.50,195.11 L356.00,195.12 L356.50,195.13 L357.00,195.14 L357.50,195.15 L358.00,195.16 L358.50,195.17 L359.00,195.18 L359.50,195.19 L360.00,195.20 L360.50,195.21 L361.00,195.22 L361.50,195.23 L362.00,195.24 L362.50,195.25 L363.00,195.26 L363.50,195.27 L364.00,195.28 L364.50,195.29 L365.00,195.29 L365.50,195.30 L366.00,195.31 L366.50,195.32 L367.00,195.33 L367.50,195.34 L368.00,195.35 L368.50,195.36 L369.00,195.37 L369.50,195.37 L370.00,195.38 L370.50,195.39 L371.00,195.40 L371.50,195.41 L372.00,195.42 L372.50,195.43 L373.00,195.44 L373.50,195.44 L374.00,195.45 L374.50,195.46 L375.00,195.47 L375.50,195.48 L376.00,195.49 L376.50,195.50 L377.00,195.51 L377.50,195.52 L378.00,195.53 L378.50,195.54 L379.00,195.55 L379.50,195.56 L380.00,195.57 L380.50,195.58 L381.00,195.59 L381.50,195.60 L382.00,195.61 L382.50,195.62 L383.00,195.63 L383.50,195.64 L384.00,195.65 L384.50,195.66 L385.00,195.67 L385.50,195.69 L386.00,195.70 L386.50,195.71 L387.00,195.72 L387.50,195.73 L388.00,195.75 L388.50,195.76 L389.00,195.77 L389.50,195.79 L390.00,195.80 L390.50,195.82 L391.00,195.83 L391.50,195.86 L392.00,195.88 L392.50,195.91 L393.00,195.93 L393.50,195.96 L394.00,195.99 L394.50,196.02 L395.00,196.05 L395.50,196.08 L396.00,196.11 L396.50,196.14 L397.00,196.17 L397.50,196.20 L398.00,196.22 L398.50,196.25 L399.00,196.27 L399.50,196.29 L400.00,196.30 L400.50,196.31 L401.00,196.32 L401.50,196.34 L402.00,196.35 L402.50,196.36 L403.00,196.37 L403.50,196.38 L404.00,196.39 L404.50,196.40 L405.00,196.41 L405.50,196.42 L406.00,196.43 L406.50,196.44 L407.00,196.45 L407.50,196.46 L408.00,196.47 L408.50,196.48 L409.00,196.49 L409.50,196.50 L410.00,196.51 L410.50,196.52 L411.00,196.53 L411.50,196.53 L412.00,196.54 L412.50,196.55 L413.00,196.56 L413.50,196.57 L414.00,196.57 L414.50,196.58 L415.00,196.59 L415.50,196.60 L416.00,196.61 L416.50,196.61 L417.00,196.62 L417.50,196.63 L418.00,196.63 L418.50,196.64 L419.00,196.65 L419.50,196.66 L420.00,196.66 L420.50,196.67 L421.00,196.68 L421.50,196.68 L422.00,196.69 L422.50,196.70 L423.00,196.70 L423.50,196.71 L424.00,196.72 L424.50,196.72 L425.00,196.73 L425.50,196.74 L426.00,196.74 L426.50,196.75 L427.00,196.76 L427.50,196.76 L428.00,196.77 L428.50,196.78 L429.00,196.79 L429.50,196.79 L430.00,196.80 L430.50,196.81 L431.00,196.81 L431.50,196.82 L432.00,196.83 L432.50,196.84 L433.00,196.84 L433.50,196.85 L434.00,196.86 L434.50,196.86 L435.00,196.87 L435.50,196.88 L436.00,196.89 L436.50,196.89 L437.00,196.90 L437.50,196.91 L438.00,196.91 L438.50,196.92 L439.00,196.93 L439.50,196.93 L440.00,196.94 L440.50,196.95 L441.00,196.95 L441.50,196.96 L442.00,196.97 L442.50,196.98 L443.00,196.98 L443.50,196.99 L444.00,197.00 L444.50,197.00 L445.00,197.01 L445.50,197.02 L446.00,197.02 L446.50,197.03 L447.00,197.04 L447.50,197.04 L448.00,197.05 L448.50,197.06 L449.00,197.06 L449.50,197.07 L450.00,197.08 L450.50,197.08 L451.00,197.09 L451.50,197.09 L452.00,197.10 L452.50,197.11 L453.00,197.11 L453.50,197.12 L454.00,197.13 L454.50,197.13 L455.00,197.14 L455.50,197.14 L456.00,197.15 L456.50,197.16 L457.00,197.16 L457.50,197.17 L458.00,197.17 L458.50,197.18 L459.00,197.19 L459.50,197.19 L460.00,197.20 L460.50,197.20 L461.00,197.21 L461.50,197.21 L462.00,197.22 L462.50,197.22 L463.00,197.23 L463.50,197.24 L464.00,197.24 L464.50,197.25 L465.00,197.25 L465.50,197.26 L466.00,197.26 L466.50,197.27 L467.00,197.27 L467.50,197.28 L468.00,197.28 L468.50,197.29 L469.00,197.29 L469.50,197.30 L470.00,197.30 L470.50,197.30 L471.00,197.31 L471.50,197.31 L472.00,197.32 L472.50,197.32 L473.00,197.32 L473.50,197.33 L474.00,197.33 L474.50,197.33 L475.00,197.34 L475.50,197.34 L476.00,197.34 L476.50,197.34 L477.00,197.35 L477.50,197.35 L478.00,197.35 L478.50,197.35 L479.00,197.36 L479.50,197.36 L480.00,197.36 L480.50,197.36 L481.00,197.36 L481.50,197.36 L482.00,197.36 L482.50,197.37 L483.00,197.37 L483.50,197.37 L484.00,197.37 L484.50,197.37 L485.00,197.37 L485.50,197.37 L486.00,197.37 L486.50,197.38 L487.00,197.38 L487.50,197.38 L488.00,197.38 L488.50,197.38 L489.00,197.38 L489.50,197.38 L490.00,197.38 L490.50,197.39 L491.00,197.39 L491.50,197.39 L492.00,197.39 L492.50,197.39 L493.00,197.39 L493.50,197.39" stroke="#00ff00" stroke-dasharray="2.7 3.15" stroke-dashoffset="0"/>
<path d="M63.50,186.00 L64.20,230.00 L66.20,228.00 L68.70,194.00 L72.00,192.00 L76.00,197.00 L80.00,199.00 L86.00,196.50 L86.50,196.51 L87.00,196.54 L87.50,196.57 L88.00,196.62 L88.50,196.67 L89.00,196.73 L89.50,196.79 L90.00,196.86 L90.50,196.93 L91.00,197.00 L91.50,197.07 L92.00,197.14 L92.50,197.20 L93.00,197.26 L93.50,197.31 L94.00,197.35 L94.50,197.38 L95.00,197.40 L95.50,196.44 L96.00,195.17 L96.50,193.90 L97.00,193.35 L97.50,193.36 L98.00,194.83 L98.50,196.36 L99.00,197.88 L99.50,199.41 L100.00,200.94 L100.50,200.36 L101.00,199.69 L101.50,199.02 L102.00,198.35 L102.50,197.68 L103.00,197.52 L103.50,197.52 L104.00,197.52 L104.50,197.52 L105.00,197.52 L105.50,197.52 L106.00,197.52 L106.50,197.52 L107.00,197.52 L107.50,197.51 L108.00,197.51 L108.50,197.51 L109.00,197.51 L109.50,197.51 L110.00,197.50 L110.50,197.50 L111.00,197.50 L111.50,197.50 L112.00,196.76 L112.50,195.35 L113.00,193.95 L113.50,192.99 L114.00,192.99 L114.50,194.14 L115.00,195.74 L115.50,197.34 L116.00,198.94 L116.50,200.54 L117.00,200.50 L117.50,199.83 L118.00,199.16 L118.50,198.49 L119.00,197.82 L119.50,197.50 L120.00,197.50 L120.50,197.50 L121.00,197.51 L121.50,197.52 L122.00,197.52 L122.50,197.53 L123.00,197.53 L123.50,197.54 L124.00,197.55 L124.50,197.55 L125.00,197.56 L125.50,197.57 L126.00,197.58 L126.50,197.59 L127.00,197.59 L127.50,197.60 L128.00,197.61 L128.50,197.23 L129.00,195.83 L129.50,194.43 L130.00,193.15 L130.50,193.16 L131.00,193.93 L131.50,195.54 L132.00,197.15 L132.50,198.76 L133.00,200.37 L133.50,200.89 L134.00,200.22 L134.50,199.56 L135.00,198.89 L135.50,198.23 L136.00,197.75 L136.50,197.76 L137.00,197.76 L137.50,197.77 L138.00,197.78 L138.50,197.78 L139.00,197.79 L139.50,197.79 L140.00,197.80 L140.50,197.80 L141.00,197.81 L141.50,197.81 L142.00,197.82 L142.50,197.82 L143.00,197.83 L143.50,197.83 L144.00,197.84 L144.50,197.84 L145.00,197.80 L145.50,196.71 L146.00,195.62 L146.50,194.53 L147.00,194.36 L147.50,194.70 L148.00,196.10 L148.50,197.50 L149.00,198.91 L149.50,200.31 L150.00,201.21 L150.50,200.54 L151.00,199.87 L151.50,199.20 L152.00,198.53 L152.50,197.89 L153.00,197.89 L153.50,197.89 L154.00,197.89 L154.50,197.89 L155.00,197.89 L155.50,197.89 L156.00,197.90 L156.50,197.90 L157.00,197.90 L157.50,197.90 L158.00,197.90 L158.50,197.90 L159.00,197.90 L159.50,197.90 L160.00,197.90 L160.50,197.90 L161.00,197.90 L161.50,197.90 L162.00,196.63 L162.50,195.03 L163.00,193.44 L163.50,192.80 L164.00,192.80 L164.50,194.82 L165.00,196.85 L165.50,198.87 L166.00,200.89 L166.50,202.91 L167.00,201.95 L167.50,200.98 L168.00,200.02 L168.50,199.06 L169.00,198.10 L169.50,197.91 L170.00,197.91 L170.50,197.91 L171.00,197.90 L171.50,197.90 L172.00,197.90 L172.50,197.90 L173.00,197.89 L173.50,197.89 L174.00,197.89 L174.50,197.88 L175.00,197.88 L175.50,197.87 L176.00,197.87 L176.50,197.86 L177.00,197.85 L177.50,197.85 L178.00,197.84 L178.50,196.68 L179.00,194.60 L179.50,192.53 L180.00,191.20 L180.50,191.19 L181.00,192.94 L181.50,195.24 L182.00,197.55 L182.50,199.85 L183.00,202.16 L183.50,201.96 L184.00,200.98 L184.50,200.00 L185.00,199.02 L185.50,198.04 L186.00,197.59 L186.50,197.57 L187.00,197.55 L187.50,197.53 L188.00,197.50 L188.50,197.48 L189.00,197.46 L189.50,197.43 L190.00,197.41 L190.50,197.38 L191.00,197.36 L191.50,197.34 L192.00,197.31 L192.50,197.29 L193.00,197.27 L193.50,197.24 L194.00,197.22 L194.50,197.20 L195.00,196.66 L195.50,195.01 L196.00,193.37 L196.50,191.92 L197.00,191.90 L197.50,192.87 L198.00,194.75 L198.50,196.63 L199.00,198.52 L199.50,200.40 L200.00,200.87 L200.50,200.03 L201.00,199.19 L201.50,198.35 L202.00,197.51 L202.50,196.94 L203.00,196.93 L203.50,196.92 L204.00,196.91 L204.50,196.89 L205.00,196.88 L205.50,196.87 L206.00,196.86 L206.50,196.85 L207.00,196.84 L207.50,196.84 L208.00,196.83 L208.50,196.82 L209.00,196.81 L209.50,196.80 L210.00,196.79 L210.50,196.78 L211.00,196.78 L211.50,196.64 L212.00,195.00 L212.50,193.37 L213.00,191.74 L213.50,191.54 L214.00,192.10 L214.50,194.13 L215.00,196.17 L215.50,198.20 L216.00,200.23 L216.50,201.42 L217.00,200.46 L217.50,199.49 L218.00,198.52 L218.50,197.55 L219.00,196.66 L219.50,196.65 L220.00,196.65 L220.50,196.64 L221.00,196.63 L221.50,196.63 L222.00,196.62 L222.50,196.61 L223.00,196.60 L223.50,196.60 L224.00,196.59 L224.50,196.58 L225.00,196.58 L225.50,196.57 L226.00,196.56 L226.50,196.55 L227.00,196.55 L227.50,196.54 L228.00,196.53 L228.50,195.05 L229.00,193.30 L229.50,191.54 L230.00,190.90 L230.50,190.96 L231.00,192.73 L231.50,194.51 L232.00,196.28 L232.50,198.05 L233.00,199.73 L233.50,199.08 L234.00,198.44 L234.50,197.80 L235.00,197.16 L235.50,196.51 L236.00,196.40 L236.50,196.40 L237.00,196.39 L237.50,196.38 L238.00,196.37 L238.50,196.36 L239.00,196.36 L239.50,196.35 L240.00,196.34 L240.50,196.33 L241.00,196.33 L241.50,196.32 L242.00,196.31 L242.50,196.30 L243.00,196.29 L243.50,196.29 L244.00,196.28 L244.50,196.27 L245.00,195.16 L245.50,193.30 L246.00,191.45 L246.50,190.34 L247.00,190.33 L247.50,191.76 L248.00,193.55 L248.50,195.35 L249.00,197.14 L249.50,198.93 L250.00,198.80 L250.50,198.20 L251.00,197.60 L251.50,196.99 L252.00,196.39 L252.50,196.14 L253.00,196.13 L253.50,196.12 L254.00,196.11 L254.50,196.10 L255.00,196.09 L255.50,196.09 L256.00,196.08 L256.50,196.07 L257.00,196.06 L257.50,196.05 L258.00,196.04 L258.50,196.03 L259.00,196.02 L259.50,196.01 L260.00,196.00 L260.50,195.99 L261.00,195.98 L261.50,195.27 L262.00,193.32 L262.50,191.37 L263.00,189.72 L263.50,189.71 L264.00,190.95 L264.50,193.17 L265.00,195.39 L265.50,197.62 L266.00,199.84 L266.50,200.27 L267.00,199.29 L267.50,198.31 L268.00,197.34 L268.50,196.36 L269.00,195.73 L269.50,195.71 L270.00,195.70 L270.50,195.69 L271.00,195.67 L271.50,195.66 L272.00,195.65 L272.50,195.63 L273.00,195.62 L273.50,195.61 L274.00,195.60 L274.50,195.58 L275.00,195.57 L275.50,195.56 L276.00,195.55 L276.50,195.54 L277.00,195.52 L277.50,195.51 L278.00,195.18 L278.50,192.55 L279.00,189.91 L279.50,187.27 L280.00,187.05 L280.50,187.93 L281.00,190.70 L281.50,193.47 L282.00,196.23 L282.50,199.00 L283.00,200.54 L283.50,199.47 L284.00,198.40 L284.50,197.33 L285.00,196.26 L285.50,195.32 L286.00,195.31 L286.50,195.29 L287.00,195.28 L287.50,195.27 L288.00,195.25 L288.50,195.24 L289.00,195.23 L289.50,195.21 L290.00,195.20 L290.50,195.19 L291.00,195.17 L291.50,195.16 L292.00,195.14 L292.50,195.13 L293.00,195.11 L293.50,195.10 L294.00,195.08 L294.50,195.06 L295.00,192.44 L295.50,189.45 L296.00,186.46 L296.50,185.50 L297.00,185.71 L297.50,188.55 L298.00,191.40 L298.50,194.24 L299.00,197.08 L299.50,199.62 L300.00,198.68 L300.50,197.74 L301.00,196.81 L301.50,195.87 L302.00,194.93 L302.50,194.80 L303.00,194.78 L303.50,194.77 L304.00,194.75 L304.50,194.74 L305.00,194.72 L305.50,194.71 L306.00,194.70 L306.50,194.68 L307.00,194.67 L307.50,194.66 L308.00,194.64 L308.50,194.63 L309.00,194.62 L309.50,194.61 L310.00,194.60 L310.50,194.59 L311.00,194.58 L311.50,192.45 L312.00,189.13 L312.50,185.81 L313.00,183.95 L313.50,183.94 L314.00,186.54 L314.50,189.63 L315.00,192.73 L315.50,195.82 L316.00,198.92 L316.50,198.62 L317.00,197.67 L317.50,196.73 L318.00,195.78 L318.50,194.84 L319.00,194.50 L319.50,194.50 L320.00,194.49 L320.50,194.49 L321.00,194.49 L321.50,194.49 L322.00,194.49 L322.50,194.49 L323.00,194.49 L323.50,194.50 L324.00,194.50 L324.50,194.50 L325.00,194.50 L325.50,194.50 L326.00,194.51 L326.50,194.51 L327.00,194.52 L327.50,194.53 L328.00,193.29 L328.50,190.17 L329.00,187.06 L329.50,184.57 L330.00,184.58 L330.50,186.33 L331.00,189.24 L331.50,192.16 L332.00,195.07 L332.50,197.98 L333.00,198.64 L333.50,197.78 L334.00,196.93 L334.50,196.07 L335.00,195.22 L335.50,194.71 L336.00,194.72 L336.50,194.73 L337.00,194.74 L337.50,194.75 L338.00,194.76 L338.50,194.77 L339.00,194.78 L339.50,194.79 L340.00,194.80 L340.50,194.81 L341.00,194.82 L341.50,194.83 L342.00,194.84 L342.50,194.85 L343.00,194.86 L343.50,194.87 L344.00,194.88 L344.50,194.54 L345.00,192.36 L345.50,190.19 L346.00,188.01 L346.50,187.93 L347.00,188.68 L347.50,190.75 L348.00,192.82 L348.50,194.89 L349.00,196.96 L349.50,198.06 L350.00,197.44 L350.50,196.81 L351.00,196.19 L351.50,195.56 L352.00,195.04 L352.50,195.05 L353.00,195.06 L353.50,195.07 L354.00,195.08 L354.50,195.09 L355.00,195.10 L355.50,195.11 L356.00,195.12 L356.50,195.13 L357.00,195.14 L357.50,195.15 L358.00,195.16 L358.50,195.17 L359.00,195.18 L359.50,195.19 L360.00,195.20 L360.50,195.21 L361.00,195.22 L361.50,193.27 L362.00,191.16 L362.50,189.04 L363.00,188.46 L363.50,188.74 L364.00,190.99 L364.50,193.23 L365.00,195.48 L365.50,197.73 L366.00,199.61 L366.50,198.77 L367.00,197.94 L367.50,197.10 L368.00,196.26 L368.50,195.42 L369.00,195.37 L369.50,195.37 L370.00,195.38 L370.50,195.39 L371.00,195.40 L371.50,195.41 L372.00,195.42 L372.50,195.43 L373.00,195.44 L373.50,195.44 L374.00,195.45 L374.50,195.46 L375.00,195.47 L375.50,195.48 L376.00,195.49 L376.50,195.50 L377.00,195.51 L377.50,195.52 L378.00,194.36 L378.50,192.65 L379.00,190.94 L379.50,190.06 L380.00,190.07 L380.50,191.66 L381.00,193.47 L381.50,195.28 L382.00,197.09 L382.50,198.90 L383.00,198.54 L383.50,197.87 L384.00,197.21 L384.50,196.55 L385.00,195.89 L385.50,195.69 L386.00,195.70 L386.50,195.71 L387.00,195.72 L387.50,195.73 L388.00,195.75 L388.50,195.76 L389.00,195.77 L389.50,195.79 L390.00,195.80 L390.50,195.82 L391.00,195.83 L391.50,195.86 L392.00,195.88 L392.50,195.91 L393.00,195.93 L393.50,195.96 L394.00,195.99 L394.50,195.20 L395.00,193.35 L395.50,191.51 L396.00,190.11 L396.50,190.14 L397.00,191.49 L397.50,193.58 L398.00,195.66 L398.50,197.75 L399.00,199.83 L399.50,200.06 L400.00,199.24 L400.50,198.43 L401.00,197.61 L401.50,196.80 L402.00,196.35 L402.50,196.36 L403.00,196.37 L403.50,196.38 L404.00,196.39 L404.50,196.40 L405.00,196.41 L405.50,196.42 L406.00,196.43 L406.50,196.44 L407.00,196.45 L407.50,196.46 L408.00,196.47 L408.50,196.48 L409.00,196.49 L409.50,196.50 L410.00,196.51 L410.50,196.52 L411.00,196.26 L411.50,194.96 L412.00,193.66 L412.50,192.35 L413.00,192.36 L413.50,192.90 L414.00,194.25 L414.50,195.60 L415.00,196.95 L415.50,198.29 L416.00,198.91 L416.50,198.44 L417.00,197.97 L417.50,197.49 L418.00,197.02 L418.50,196.64 L419.00,196.65 L419.50,196.66 L420.00,196.66 L420.50,196.67 L421.00,196.68 L421.50,196.68 L422.00,196.69 L422.50,196.70 L423.00,196.70 L423.50,196.71 L424.00,196.72 L424.50,196.72 L425.00,196.73 L425.50,196.74 L426.00,196.74 L426.50,196.75 L427.00,196.76 L427.50,196.76 L428.00,194.52 L428.50,192.19 L429.00,189.85 L429.50,189.29 L430.00,189.70 L430.50,192.18 L431.00,194.67 L431.50,197.16 L432.00,199.65 L432.50,201.58 L433.00,200.65 L433.50,199.71 L434.00,198.78 L434.50,197.84 L435.00,196.91 L435.50,196.88 L436.00,196.89 L436.50,196.89 L437.00,196.90 L437.50,196.91 L438.00,196.91 L438.50,196.92 L439.00,196.93 L439.50,196.93 L440.00,196.94 L440.50,196.95 L441.00,196.95 L441.50,196.96 L442.00,196.97 L442.50,196.98 L443.00,196.98 L443.50,196.99 L444.00,197.00 L444.50,196.10 L445.00,194.86 L445.50,193.62 L446.00,193.02 L446.50,193.03 L447.00,194.29 L447.50,195.65 L448.00,197.02 L448.50,198.39 L449.00,199.75 L449.50,199.37 L450.00,198.84 L450.50,198.31 L451.00,197.78 L451.50,197.25 L452.00,197.10 L452.50,197.11 L453.00,197.11 L453.50,197.12 L454.00,197.13 L454.50,197.13 L455.00,197.14 L455.50,197.14 L456.00,197.15 L456.50,197.16 L457.00,197.16 L457.50,197.17 L458.00,197.17 L458.50,197.18 L459.00,197.19 L459.50,197.19 L460.00,197.20 L460.50,197.20 L461.00,196.61 L461.50,195.36 L462.00,194.12 L462.50,193.22 L463.00,193.23 L463.50,194.38 L464.00,196.06 L464.50,197.75 L465.00,199.43 L465.50,201.12 L466.00,201.09 L466.50,200.24 L467.00,199.40 L467.50,198.56 L468.00,197.72 L468.50,197.29 L469.00,197.29 L469.50,197.30 L470.00,197.30 L470.50,197.30 L471.00,197.31 L471.50,197.31 L472.00,197.32 L472.50,197.32 L473.00,197.32 L473.50,197.33 L474.00,197.33 L474.50,197.33 L475.00,197.34 L475.50,197.34 L476.00,197.34 L476.50,197.34 L477.00,197.35 L477.50,197.27 L478.00,196.96 L478.50,196.65 L479.00,196.36 L479.50,196.36 L480.00,196.53 L480.50,196.94 L481.00,197.34 L481.50,197.74 L482.00,198.14 L482.50,198.28 L483.00,198.09 L483.50,197.90 L484.00,197.71 L484.50,197.52 L485.00,197.37 L485.50,197.37 L486.00,197.37 L486.50,197.38 L487.00,197.38 L487.50,197.38 L488.00,197.38 L488.50,197.38 L489.00,197.38 L489.50,197.38 L490.00,197.38 L490.50,197.39 L491.00,197.39 L491.50,197.39 L492.00,197.39 L492.50,197.39 L493.00,197.39 L493.50,197.39" stroke="#ff0000" stroke-dasharray="12 2.9 6 2.9" stroke-dashoffset="0"/>
<path d="M63.50,181.00 L64.60,239.00 L67.00,205.00 L70.00,197.00 L80.00,197.00 L80.50,196.51 L81.00,196.51 L81.50,196.50 L82.00,196.49 L82.50,196.49 L83.00,196.49 L83.50,196.49 L84.00,196.49 L84.50,196.49 L85.00,196.49 L85.50,196.49 L86.00,196.50 L86.50,196.51 L87.00,196.54 L87.50,196.57 L88.00,196.62 L88.50,196.67 L89.00,196.73 L89.50,196.79 L90.00,196.86 L90.50,196.93 L91.00,197.00 L91.50,197.07 L92.00,197.14 L92.50,197.20 L93.00,197.26 L93.50,197.31 L94.00,197.35 L94.50,197.38 L95.00,197.40 L95.50,197.41 L96.00,197.43 L96.50,197.44 L97.00,197.45 L97.50,197.46 L98.00,197.47 L98.50,197.48 L99.00,197.49 L99.50,197.49 L100.00,197.50 L100.50,197.50 L101.00,197.51 L101.50,197.51 L102.00,197.51 L102.50,197.52 L103.00,197.52 L103.50,197.52 L104.00,197.52 L104.50,197.52 L105.00,197.52 L105.50,197.52 L106.00,197.52 L106.50,197.52 L107.00,197.52 L107.50,197.51 L108.00,197.51 L108.50,197.51 L109.00,197.51 L109.50,197.51 L110.00,197.50 L110.50,197.50 L111.00,197.50 L111.50,197.50 L112.00,197.49 L112.50,197.49 L113.00,197.49 L113.50,197.49 L114.00,197.49 L114.50,197.49 L115.00,197.48 L115.50,197.48 L116.00,197.48 L116.50,197.48 L117.00,197.48 L117.50,197.49 L118.00,197.49 L118.50,197.49 L119.00,197.49 L119.50,197.50 L120.00,197.50 L120.50,197.50 L121.00,197.51 L121.50,197.52 L122.00,197.52 L122.50,197.53 L123.00,197.53 L123.50,197.54 L124.00,197.55 L124.50,197.55 L125.00,197.56 L125.50,197.57 L126.00,197.58 L126.50,197.59 L127.00,197.59 L127.50,197.60 L128.00,197.61 L128.50,197.62 L129.00,197.63 L129.50,197.64 L130.00,197.65 L130.50,197.66 L131.00,197.67 L131.50,197.67 L132.00,197.68 L132.50,197.69 L133.00,197.70 L133.50,197.71 L134.00,197.72 L134.50,197.73 L135.00,197.73 L135.50,197.74 L136.00,197.75 L136.50,197.76 L137.00,197.76 L137.50,197.77 L138.00,197.78 L138.50,197.78 L139.00,197.79 L139.50,197.79 L140.00,197.80 L140.50,197.80 L141.00,197.81 L141.50,197.81 L142.00,197.82 L142.50,197.82 L143.00,197.83 L143.50,197.83 L144.00,197.84 L144.50,197.84 L145.00,197.84 L145.50,197.85 L146.00,197.85 L146.50,197.85 L147.00,197.86 L147.50,197.86 L148.00,197.86 L148.50,197.87 L149.00,197.87 L149.50,197.87 L150.00,197.88 L150.50,197.88 L151.00,197.88 L151.50,197.88 L152.00,197.88 L152.50,197.89 L153.00,197.89 L153.50,197.89 L154.00,197.89 L154.50,197.89 L155.00,197.89 L155.50,197.89 L156.00,197.90 L156.50,197.90 L157.00,197.90 L157.50,197.90 L158.00,197.90 L158.50,197.90 L159.00,197.90 L159.50,197.90 L160.00,197.90 L160.50,197.90 L161.00,197.90 L161.50,197.90 L162.00,197.90 L162.50,197.90 L163.00,197.90 L163.50,197.90 L164.00,197.90 L164.50,197.90 L165.00,197.91 L165.50,197.91 L166.00,197.91 L166.50,197.91 L167.00,197.91 L167.50,197.91 L168.00,197.91 L168.50,197.91 L169.00,197.91 L169.50,197.91 L170.00,197.91 L170.50,197.91 L171.00,197.90 L171.50,197.90 L172.00,197.90 L172.50,197.90 L173.00,197.89 L173.50,197.89 L174.00,197.89 L174.50,197.88 L175.00,197.88 L175.50,197.87 L176.00,197.87 L176.50,197.86 L177.00,197.85 L177.50,197.85 L178.00,197.84 L178.50,197.83 L179.00,197.82 L179.50,197.81 L180.00,197.80 L180.50,197.79 L181.00,197.78 L181.50,197.76 L182.00,197.75 L182.50,197.73 L183.00,197.71 L183.50,197.69 L184.00,197.68 L184.50,197.66 L185.00,197.64 L185.50,197.62 L186.00,197.59 L186.50,197.57 L187.00,197.55 L187.50,197.53 L188.00,197.50 L188.50,197.48 L189.00,197.46 L189.50,197.43 L190.00,197.41 L190.50,197.38 L191.00,197.36 L191.50,197.34 L192.00,197.31 L192.50,197.29 L193.00,197.27 L193.50,197.24 L194.00,197.22 L194.50,197.20 L195.00,197.18 L195.50,197.16 L196.00,197.14 L196.50,197.12 L197.00,197.10 L197.50,197.08 L198.00,197.06 L198.50,197.04 L199.00,197.03 L199.50,197.01 L200.00,197.00 L200.50,196.99 L201.00,196.97 L201.50,196.96 L202.00,196.95 L202.50,196.94 L203.00,196.93 L203.50,196.92 L204.00,196.91 L204.50,196.89 L205.00,196.88 L205.50,196.87 L206.00,196.86 L206.50,196.85 L207.00,196.84 L207.50,196.84 L208.00,196.83 L208.50,196.82 L209.00,196.81 L209.50,196.80 L210.00,196.79 L210.50,196.78 L211.00,196.78 L211.50,196.77 L212.00,196.76 L212.50,196.75 L213.00,196.74 L213.50,196.74 L214.00,196.73 L214.50,196.72 L215.00,196.72 L215.50,196.71 L216.00,196.70 L216.50,196.69 L217.00,196.69 L217.50,196.68 L218.00,196.67 L218.50,196.67 L219.00,196.66 L219.50,196.65 L220.00,196.65 L220.50,196.64 L221.00,196.63 L221.50,196.63 L222.00,196.62 L222.50,196.61 L223.00,196.60 L223.50,196.60 L224.00,196.59 L224.50,196.58 L225.00,196.58 L225.50,196.57 L226.00,196.56 L226.50,196.55 L227.00,196.55 L227.50,196.54 L228.00,196.53 L228.50,196.52 L229.00,196.52 L229.50,196.51 L230.00,196.50 L230.50,196.49 L231.00,196.48 L231.50,196.48 L232.00,196.47 L232.50,196.46 L233.00,196.45 L233.50,196.44 L234.00,196.43 L234.50,196.43 L235.00,196.42 L235.50,196.41 L236.00,196.40 L236.50,196.40 L237.00,196.39 L237.50,196.38 L238.00,196.37 L238.50,196.36 L239.00,196.36 L239.50,196.35 L240.00,196.34 L240.50,196.33 L241.00,196.33 L241.50,196.32 L242.00,196.31 L242.50,196.30 L243.00,196.29 L243.50,196.29 L244.00,196.28 L244.50,196.27 L245.00,196.26 L245.50,196.25 L246.00,196.25 L246.50,196.24 L247.00,196.23 L247.50,196.22 L248.00,196.21 L248.50,196.21 L249.00,196.20 L249.50,196.19 L250.00,196.18 L250.50,196.17 L251.00,196.16 L251.50,196.16 L252.00,196.15 L252.50,196.14 L253.00,196.13 L253.50,196.12 L254.00,196.11 L254.50,196.10 L255.00,196.09 L255.50,196.09 L256.00,196.08 L256.50,196.07 L257.00,196.06 L257.50,196.05 L258.00,196.04 L258.50,196.03 L259.00,196.02 L259.50,196.01 L260.00,196.00 L260.50,195.99 L261.00,195.98 L261.50,195.97 L262.00,195.95 L262.50,195.94 L263.00,195.92 L263.50,195.91 L264.00,195.89 L264.50,195.87 L265.00,195.86 L265.50,195.84 L266.00,195.82 L266.50,195.81 L267.00,195.79 L267.50,195.77 L268.00,195.76 L268.50,195.74 L269.00,195.73 L269.50,195.71 L270.00,195.70 L270.50,195.69 L271.00,195.67 L271.50,195.66 L272.00,195.65 L272.50,195.63 L273.00,195.62 L273.50,195.61 L274.00,195.60 L274.50,195.58 L275.00,195.57 L275.50,195.56 L276.00,195.55 L276.50,195.54 L277.00,195.52 L277.50,195.51 L278.00,195.50 L278.50,195.49 L279.00,195.48 L279.50,195.46 L280.00,195.45 L280.50,195.44 L281.00,195.43 L281.50,195.42 L282.00,195.40 L282.50,195.39 L283.00,195.38 L283.50,195.37 L284.00,195.36 L284.50,195.34 L285.00,195.33 L285.50,195.32 L286.00,195.31 L286.50,195.29 L287.00,195.28 L287.50,195.27 L288.00,195.25 L288.50,195.24 L289.00,195.23 L289.50,195.21 L290.00,195.20 L290.50,195.19 L291.00,195.17 L291.50,195.16 L292.00,195.14 L292.50,195.13 L293.00,195.11 L293.50,195.10 L294.00,195.08 L294.50,195.06 L295.00,195.05 L295.50,195.03 L296.00,195.01 L296.50,195.00 L297.00,194.98 L297.50,194.96 L298.00,194.95 L298.50,194.93 L299.00,194.91 L299.50,194.90 L300.00,194.88 L300.50,194.86 L301.00,194.85 L301.50,194.83 L302.00,194.82 L302.50,194.80 L303.00,194.78 L303.50,194.77 L304.00,194.75 L304.50,194.74 L305.00,194.72 L305.50,194.71 L306.00,194.70 L306.50,194.68 L307.00,194.67 L307.50,194.66 L308.00,194.64 L308.50,194.63 L309.00,194.62 L309.50,194.61 L310.00,194.60 L310.50,194.59 L311.00,194.58 L311.50,194.57 L312.00,194.56 L312.50,194.56 L313.00,194.55 L313.50,194.54 L314.00,194.54 L314.50,194.53 L315.00,194.53 L315.50,194.52 L316.00,194.52 L316.50,194.51 L317.00,194.51 L317.50,194.50 L318.00,194.50 L318.50,194.50 L319.00,194.50 L319.50,194.50 L320.00,194.49 L320.50,194.49 L321.00,194.49 L321.50,194.49 L322.00,194.49 L322.50,194.49 L323.00,194.49 L323.50,194.50 L324.00,194.50 L324.50,194.50 L325.00,194.50 L325.50,194.50 L326.00,194.51 L326.50,194.51 L327.00,194.52 L327.50,194.53 L328.00,194.54 L328.50,194.55 L329.00,194.56 L329.50,194.57 L330.00,194.58 L330.50,194.59 L331.00,194.60 L331.50,194.62 L332.00,194.63 L332.50,194.64 L333.00,194.65 L333.50,194.67 L334.00,194.68 L334.50,194.69 L335.00,194.70 L335.50,194.71 L336.00,194.72 L336.50,194.73 L337.00,194.74 L337.50,194.75 L338.00,194.76 L338.50,194.77 L339.00,194.78 L339.50,194.79 L340.00,194.80 L340.50,194.81 L341.00,194.82 L341.50,194.83 L342.00,194.84 L342.50,194.85 L343.00,194.86 L343.50,194.87 L344.00,194.88 L344.50,194.89 L345.00,194.90 L345.50,194.91 L346.00,194.92 L346.50,194.93 L347.00,194.94 L347.50,194.95 L348.00,194.96 L348.50,194.97 L349.00,194.98 L349.50,194.99 L350.00,195.00 L350.50,195.01 L351.00,195.02 L351.50,195.03 L352.00,195.04 L352.50,195.05 L353.00,195.06 L353.50,195.07 L354.00,195.08 L354.50,195.09 L355.00,195.10 L355.50,195.11 L356.00,195.12 L356.50,195.13 L357.00,195.14 L357.50,195.15 L358.00,195.16 L358.50,195.17 L359.00,195.18 L359.50,195.19 L360.00,195.20 L360.50,195.21 L361.00,195.22 L361.50,195.23 L362.00,195.24 L362.50,195.25 L363.00,195.26 L363.50,195.27 L364.00,195.28 L364.50,195.29 L365.00,195.29 L365.50,195.30 L366.00,195.31 L366.50,195.32 L367.00,195.33 L367.50,195.34 L368.00,195.35 L368.50,195.36 L369.00,195.37 L369.50,195.37 L370.00,195.38 L370.50,195.39 L371.00,195.40 L371.50,195.41 L372.00,195.42 L372.50,195.43 L373.00,195.44 L373.50,195.44 L374.00,195.45 L374.50,195.46 L375.00,195.47 L375.50,195.48 L376.00,195.49 L376.50,195.50 L377.00,195.51 L377.50,195.52 L378.00,195.53 L378.50,195.54 L379.00,195.55 L379.50,195.56 L380.00,195.57 L380.50,195.58 L381.00,195.59 L381.50,195.60 L382.00,195.61 L382.50,195.62 L383.00,195.63 L383.50,195.64 L384.00,195.65 L384.50,195.66 L385.00,195.67 L385.50,195.69 L386.00,195.70 L386.50,195.71 L387.00,195.72 L387.50,195.73 L388.00,195.75 L388.50,195.76 L389.00,195.77 L389.50,195.79 L390.00,195.80 L390.50,195.82 L391.00,195.83 L391.50,195.86 L392.00,195.88 L392.50,195.91 L393.00,195.93 L393.50,195.96 L394.00,195.99 L394.50,196.02 L395.00,196.05 L395.50,196.08 L396.00,196.11 L396.50,196.14 L397.00,196.17 L397.50,196.20 L398.00,196.22 L398.50,196.25 L399.00,196.27 L399.50,196.29 L400.00,196.30 L400.50,196.31 L401.00,196.32 L401.50,196.34 L402.00,196.35 L402.50,196.36 L403.00,196.37 L403.50,196.38 L404.00,196.39 L404.50,196.40 L405.00,196.41 L405.50,196.42 L406.00,196.43 L406.50,196.44 L407.00,196.45 L407.50,196.46 L408.00,196.47 L408.50,196.48 L409.00,196.49 L409.50,196.50 L410.00,196.51 L410.50,196.52 L411.00,196.53 L411.50,196.53 L412.00,196.54 L412.50,196.55 L413.00,196.56 L413.50,196.57 L414.00,196.57 L414.50,196.58 L415.00,196.59 L415.50,196.60 L416.00,196.61 L416.50,196.61 L417.00,196.62 L417.50,196.63 L418.00,196.63 L418.50,196.64 L419.00,196.65 L419.50,196.66 L420.00,196.66 L420.50,196.67 L421.00,196.68 L421.50,196.68 L422.00,196.69 L422.50,196.70 L423.00,196.70 L423.50,196.71 L424.00,196.72 L424.50,196.72 L425.00,196.73 L425.50,196.74 L426.00,196.74 L426.50,196.75 L427.00,196.76 L427.50,196.76 L428.00,196.77 L428.50,196.78 L429.00,196.79 L429.50,196.79 L430.00,196.80 L430.50,196.81 L431.00,196.81 L431.50,196.82 L432.00,196.83 L432.50,196.84 L433.00,196.84 L433.50,196.85 L434.00,196.86 L434.50,196.86 L435.00,196.87 L435.50,196.88 L436.00,196.89 L436.50,196.89 L437.00,196.90 L437.50,196.91 L438.00,196.91 L438.50,196.92 L439.00,196.93 L439.50,196.93 L440.00,196.94 L440.50,196.95 L441.00,196.95 L441.50,196.96 L442.00,196.97 L442.50,196.98 L443.00,196.98 L443.50,196.99 L444.00,197.00 L444.50,197.00 L445.00,197.01 L445.50,197.02 L446.00,197.02 L446.50,197.03 L447.00,197.04 L447.50,197.04 L448.00,197.05 L448.50,197.06 L449.00,197.06 L449.50,197.07 L450.00,197.08 L450.50,197.08 L451.00,197.09 L451.50,197.09 L452.00,197.10 L452.50,197.11 L453.00,197.11 L453.50,197.12 L454.00,197.13 L454.50,197.13 L455.00,197.14 L455.50,197.14 L456.00,197.15 L456.50,197.16 L457.00,197.16 L457.50,197.17 L458.00,197.17 L458.50,197.18 L459.00,197.19 L459.50,197.19 L460.00,197.20 L460.50,197.20 L461.00,197.21 L461.50,197.21 L462.00,197.22 L462.50,197.22 L463.00,197.23 L463.50,197.24 L464.00,197.24 L464.50,197.25 L465.00,197.25 L465.50,197.26 L466.00,197.26 L466.50,197.27 L467.00,197.27 L467.50,197.28 L468.00,197.28 L468.50,197.29 L469.00,197.29 L469.50,197.30 L470.00,197.30 L470.50,197.30 L471.00,197.31 L471.50,197.31 L472.00,197.32 L472.50,197.32 L473.00,197.32 L473.50,197.33 L474.00,197.33 L474.50,197.33 L475.00,197.34 L475.50,197.34 L476.00,197.34 L476.50,197.34 L477.00,197.35 L477.50,197.35 L478.00,197.35 L478.50,197.35 L479.00,197.36 L479.50,197.36 L480.00,197.36 L480.50,197.36 L481.00,197.36 L481.50,197.36 L482.00,197.36 L482.50,197.37 L483.00,197.37 L483.50,197.37 L484.00,197.37 L484.50,197.37 L485.00,197.37 L485.50,197.37 L486.00,197.37 L486.50,197.38 L487.00,197.38 L487.50,197.38 L488.00,197.38 L488.50,197.38 L489.00,197.38 L489.50,197.38 L490.00,197.38 L490.50,197.39 L491.00,197.39 L491.50,197.39 L492.00,197.39 L492.50,197.39 L493.00,197.39 L493.50,197.39" stroke="#00ffff" stroke-dasharray="12 11.2" stroke-dashoffset="0"/>
<path d="M63.50,197.00 L66.00,199.00 L68.50,189.00 L70.80,200.00 L73.20,252.00 L73.90,252.00 L75.60,166.00 L77.00,178.00 L79.80,192.00 L82.00,199.00 L84.50,192.00 L88.00,193.00 L92.30,204.00 L92.50,200.21 L93.00,199.75 L93.50,199.05 L94.00,198.18 L94.50,197.23 L95.00,196.31 L95.50,195.52 L96.00,194.93 L96.50,194.62 L97.00,194.60 L97.50,194.88 L98.00,195.41 L98.50,196.15 L99.00,197.00 L99.50,197.89 L100.00,198.71 L100.50,199.39 L101.00,199.86 L101.50,200.08 L102.00,200.03 L102.50,199.72 L103.00,199.19 L103.50,198.52 L104.00,197.78 L104.50,197.07 L105.00,196.51 L105.50,196.17 L106.00,196.11 L106.50,196.31 L107.00,196.69 L107.50,197.16 L108.00,197.63 L108.50,198.06 L109.00,198.46 L109.50,198.84 L110.00,199.18 L110.50,199.46 L111.00,199.61 L111.50,199.60 L112.00,199.40 L112.50,199.03 L113.00,198.51 L113.50,197.90 L114.00,197.26 L114.50,196.66 L115.00,196.16 L115.50,195.81 L116.00,195.63 L116.50,195.65 L117.00,195.86 L117.50,196.23 L118.00,196.73 L118.50,197.29 L119.00,197.86 L119.50,198.38 L120.00,198.80 L120.50,199.08 L121.00,199.19 L121.50,199.12 L122.00,198.89 L122.50,198.53 L123.00,198.09 L123.50,197.62 L124.00,197.19 L124.50,196.88 L125.00,196.75 L125.50,196.84 L126.00,197.12 L126.50,197.52 L127.00,197.94 L127.50,198.29 L128.00,198.54 L128.50,198.72 L129.00,198.85 L129.50,198.96 L130.00,199.05 L130.50,199.09 L131.00,199.04 L131.50,198.88 L132.00,198.63 L132.50,198.28 L133.00,197.89 L133.50,197.48 L134.00,197.11 L134.50,196.81 L135.00,196.61 L135.50,196.53 L136.00,196.58 L136.50,196.74 L137.00,197.01 L137.50,197.35 L138.00,197.72 L138.50,198.09 L139.00,198.42 L139.50,198.68 L140.00,198.84 L140.50,198.89 L141.00,198.83 L141.50,198.67 L142.00,198.42 L142.50,198.12 L143.00,197.82 L143.50,197.56 L144.00,197.40 L144.50,197.39 L145.00,197.55 L145.50,197.86 L146.00,198.25 L146.50,198.62 L147.00,198.89 L147.50,199.02 L148.00,199.04 L148.50,199.01 L149.00,198.96 L149.50,198.92 L150.00,198.87 L150.50,198.78 L151.00,198.65 L151.50,198.46 L152.00,198.22 L152.50,197.95 L153.00,197.69 L153.50,197.45 L154.00,197.26 L154.50,197.14 L155.00,197.11 L155.50,197.15 L156.00,197.27 L156.50,197.45 L157.00,197.67 L157.50,197.91 L158.00,198.15 L158.50,198.35 L159.00,198.50 L159.50,198.59 L160.00,198.60 L160.50,198.55 L161.00,198.42 L161.50,198.25 L162.00,198.05 L162.50,197.86 L163.00,197.71 L163.50,197.64 L164.00,197.69 L164.50,197.88 L165.00,198.20 L165.50,198.58 L166.00,198.92 L166.50,199.14 L167.00,199.21 L167.50,199.14 L168.00,199.00 L168.50,198.85 L169.00,198.72 L169.50,198.61 L170.00,198.51 L170.50,198.39 L171.00,198.25 L171.50,198.09 L172.00,197.91 L172.50,197.74 L173.00,197.58 L173.50,197.46 L174.00,197.39 L174.50,197.37 L175.00,197.40 L175.50,197.48 L176.00,197.60 L176.50,197.74 L177.00,197.89 L177.50,198.04 L178.00,198.15 L178.50,198.24 L179.00,198.28 L179.50,198.26 L180.00,198.21 L180.50,198.11 L181.00,197.98 L181.50,197.83 L182.00,197.70 L182.50,197.59 L183.00,197.56 L183.50,197.63 L184.00,197.82 L184.50,198.11 L185.00,198.46 L185.50,198.77 L186.00,198.95 L186.50,198.96 L187.00,198.82 L187.50,198.60 L188.00,198.36 L188.50,198.15 L189.00,197.99 L189.50,197.85 L190.00,197.73 L190.50,197.60 L191.00,197.46 L191.50,197.32 L192.00,197.19 L192.50,197.07 L193.00,196.98 L193.50,196.92 L194.00,196.89 L194.50,196.90 L195.00,196.94 L195.50,197.00 L196.00,197.08 L196.50,197.16 L197.00,197.24 L197.50,197.30 L198.00,197.33 L198.50,197.34 L199.00,197.32 L199.50,197.27 L200.00,197.19 L200.50,197.10 L201.00,197.01 L201.50,196.92 L202.00,196.86 L202.50,196.86 L203.00,196.95 L203.50,197.15 L204.00,197.44 L204.50,197.79 L205.00,198.10 L205.50,198.29 L206.00,198.31 L206.50,198.16 L207.00,197.92 L207.50,197.65 L208.00,197.42 L208.50,197.24 L209.00,197.11 L209.50,197.01 L210.00,196.92 L210.50,196.84 L211.00,196.75 L211.50,196.67 L212.00,196.61 L212.50,196.56 L213.00,196.53 L213.50,196.52 L214.00,196.54 L214.50,196.58 L215.00,196.63 L215.50,196.68 L216.00,196.74 L216.50,196.80 L217.00,196.84 L217.50,196.86 L218.00,196.87 L218.50,196.85 L219.00,196.82 L219.50,196.77 L220.00,196.71 L220.50,196.65 L221.00,196.60 L221.50,196.57 L222.00,196.59 L222.50,196.69 L223.00,196.88 L223.50,197.16 L224.00,197.51 L224.50,197.82 L225.00,198.02 L225.50,198.05 L226.00,197.90 L226.50,197.65 L227.00,197.35 L227.50,197.09 L228.00,196.90 L228.50,196.76 L229.00,196.67 L229.50,196.59 L230.00,196.53 L230.50,196.47 L231.00,196.41 L231.50,196.37 L232.00,196.34 L232.50,196.32 L233.00,196.32 L233.50,196.33 L234.00,196.35 L234.50,196.38 L235.00,196.41 L235.50,196.45 L236.00,196.48 L236.50,196.50 L237.00,196.51 L237.50,196.51 L238.00,196.49 L238.50,196.46 L239.00,196.43 L239.50,196.38 L240.00,196.34 L240.50,196.30 L241.00,196.29 L241.50,196.32 L242.00,196.41 L242.50,196.59 L243.00,196.86 L243.50,197.19 L244.00,197.50 L244.50,197.72 L245.00,197.76 L245.50,197.63 L246.00,197.37 L246.50,197.06 L247.00,196.78 L247.50,196.56 L248.00,196.42 L248.50,196.32 L249.00,196.25 L249.50,196.20 L250.00,196.16 L250.50,196.12 L251.00,196.09 L251.50,196.07 L252.00,196.06 L252.50,196.05 L253.00,196.06 L253.50,196.07 L254.00,196.09 L254.50,196.11 L255.00,196.12 L255.50,196.14 L256.00,196.15 L256.50,196.15 L257.00,196.14 L257.50,196.12 L258.00,196.10 L258.50,196.07 L259.00,196.04 L259.50,196.00 L260.00,195.98 L260.50,195.97 L261.00,195.99 L261.50,196.08 L262.00,196.23 L262.50,196.48 L263.00,196.79 L263.50,197.10 L264.00,197.32 L264.50,197.39 L265.00,197.26 L265.50,197.00 L266.00,196.68 L266.50,196.37 L267.00,196.13 L267.50,195.96 L268.00,195.86 L268.50,195.79 L269.00,195.74 L269.50,195.70 L270.00,195.66 L270.50,195.64 L271.00,195.62 L271.50,195.60 L272.00,195.59 L272.50,195.59 L273.00,195.59 L273.50,195.60 L274.00,195.60 L274.50,195.61 L275.00,195.61 L275.50,195.61 L276.00,195.60 L276.50,195.59 L277.00,195.57 L277.50,195.55 L278.00,195.52 L278.50,195.50 L279.00,195.47 L279.50,195.45 L280.00,195.44 L280.50,195.47 L281.00,195.54 L281.50,195.68 L282.00,195.92 L282.50,196.22 L283.00,196.53 L283.50,196.77 L284.00,196.87 L284.50,196.78 L285.00,196.53 L285.50,196.21 L286.00,195.90 L286.50,195.65 L287.00,195.47 L287.50,195.36 L288.00,195.29 L288.50,195.25 L289.00,195.22 L289.50,195.19 L290.00,195.17 L290.50,195.15 L291.00,195.13 L291.50,195.12 L292.00,195.11 L292.50,195.11 L293.00,195.11 L293.50,195.10 L294.00,195.10 L294.50,195.09 L295.00,195.08 L295.50,195.07 L296.00,195.05 L296.50,195.03 L297.00,195.00 L297.50,194.98 L298.00,194.95 L298.50,194.93 L299.00,194.90 L299.50,194.90 L300.00,194.91 L300.50,194.97 L301.00,195.10 L301.50,195.31 L302.00,195.59 L302.50,195.90 L303.00,196.16 L303.50,196.27 L304.00,196.21 L304.50,195.99 L305.00,195.67 L305.50,195.35 L306.00,195.08 L306.50,194.89 L307.00,194.77 L307.50,194.70 L308.00,194.65 L308.50,194.63 L309.00,194.60 L309.50,194.59 L310.00,194.58 L310.50,194.57 L311.00,194.56 L311.50,194.56 L312.00,194.55 L312.50,194.55 L313.00,194.55 L313.50,194.55 L314.00,194.55 L314.50,194.55 L315.00,194.55 L315.50,194.54 L316.00,194.53 L316.50,194.53 L317.00,194.52 L317.50,194.51 L318.00,194.50 L318.50,194.49 L319.00,194.50 L319.50,194.53 L320.00,194.59 L320.50,194.72 L321.00,194.93 L321.50,195.21 L322.00,195.53 L322.50,195.82 L323.00,195.99 L323.50,195.97 L324.00,195.79 L324.50,195.50 L325.00,195.19 L325.50,194.92 L326.00,194.73 L326.50,194.62 L327.00,194.56 L327.50,194.54 L328.00,194.53 L328.50,194.54 L329.00,194.54 L329.50,194.55 L330.00,194.56 L330.50,194.58 L331.00,194.59 L331.50,194.61 L332.00,194.63 L332.50,194.65 L333.00,194.66 L333.50,194.68 L334.00,194.69 L334.50,194.70 L335.00,194.71 L335.50,194.72 L336.00,194.73 L336.50,194.73 L337.00,194.74 L337.50,194.75 L338.00,194.76 L338.50,194.77 L339.00,194.81 L339.50,194.88 L340.00,195.00 L340.50,195.20 L341.00,195.48 L341.50,195.81 L342.00,196.12 L342.50,196.32 L343.00,196.35 L343.50,196.21 L344.00,195.94 L344.50,195.63 L345.00,195.36 L345.50,195.16 L346.00,195.04 L346.50,194.98 L347.00,194.96 L347.50,194.95 L348.00,194.95 L348.50,194.96 L349.00,194.97 L349.50,194.98 L350.00,194.99 L350.50,195.00 L351.00,195.02 L351.50,195.03 L352.00,195.04 L352.50,195.06 L353.00,195.07 L353.50,195.08 L354.00,195.09 L354.50,195.10 L355.00,195.11 L355.50,195.11 L356.00,195.12 L356.50,195.13 L357.00,195.14 L357.50,195.15 L358.00,195.16 L358.50,195.20 L359.00,195.25 L359.50,195.37 L360.00,195.55 L360.50,195.81 L361.00,196.14 L361.50,196.46 L362.00,196.68 L362.50,196.75 L363.00,196.64 L363.50,196.38 L364.00,196.07 L364.50,195.79 L365.00,195.58 L365.50,195.44 L366.00,195.37 L366.50,195.34 L367.00,195.33 L367.50,195.34 L368.00,195.34 L368.50,195.35 L369.00,195.36 L369.50,195.37 L370.00,195.38 L370.50,195.39 L371.00,195.40 L371.50,195.41 L372.00,195.42 L372.50,195.43 L373.00,195.44 L373.50,195.45 L374.00,195.46 L374.50,195.47 L375.00,195.47 L375.50,195.48 L376.00,195.49 L376.50,195.50 L377.00,195.51 L377.50,195.52 L378.00,195.55 L378.50,195.60 L379.00,195.70 L379.50,195.87 L380.00,196.12 L380.50,196.43 L381.00,196.76 L381.50,197.01 L382.00,197.11 L382.50,197.03 L383.00,196.80 L383.50,196.50 L384.00,196.21 L384.50,195.98 L385.00,195.83 L385.50,195.76 L386.00,195.72 L386.50,195.72 L387.00,195.72 L387.50,195.73 L388.00,195.74 L388.50,195.76 L389.00,195.77 L389.50,195.78 L390.00,195.80 L390.50,195.82 L391.00,195.84 L391.50,195.86 L392.00,195.88 L392.50,195.91 L393.00,195.94 L393.50,195.97 L394.00,195.99 L394.50,196.02 L395.00,196.05 L395.50,196.08 L396.00,196.11 L396.50,196.14 L397.00,196.18 L397.50,196.22 L398.00,196.28 L398.50,196.38 L399.00,196.54 L399.50,196.78 L400.00,197.09 L400.50,197.42 L401.00,197.70 L401.50,197.84 L402.00,197.79 L402.50,197.59 L403.00,197.29 L403.50,196.99 L404.00,196.75 L404.50,196.59 L405.00,196.50 L405.50,196.46 L406.00,196.44 L406.50,196.45 L407.00,196.45 L407.50,196.46 L408.00,196.47 L408.50,196.48 L409.00,196.49 L409.50,196.50 L410.00,196.51 L410.50,196.52 L411.00,196.53 L411.50,196.54 L412.00,196.55 L412.50,196.55 L413.00,196.56 L413.50,196.57 L414.00,196.58 L414.50,196.58 L415.00,196.59 L415.50,196.60 L416.00,196.60 L416.50,196.62 L417.00,196.64 L417.50,196.67 L418.00,196.75 L418.50,196.88 L419.00,197.10 L419.50,197.38 L420.00,197.71 L420.50,198.00 L421.00,198.16 L421.50,198.15 L422.00,197.97 L422.50,197.68 L423.00,197.37 L423.50,197.11 L424.00,196.93 L424.50,196.82 L425.00,196.77 L425.50,196.75 L426.00,196.75 L426.50,196.75 L427.00,196.76 L427.50,196.76 L428.00,196.77 L428.50,196.78 L429.00,196.79 L429.50,196.79 L430.00,196.80 L430.50,196.81 L431.00,196.82 L431.50,196.82 L432.00,196.83 L432.50,196.84 L433.00,196.84 L433.50,196.85 L434.00,196.86 L434.50,196.86 L435.00,196.87 L435.50,196.88 L436.00,196.89 L436.50,196.91 L437.00,196.94 L437.50,197.00 L438.00,197.12 L438.50,197.32 L439.00,197.59 L439.50,197.92 L440.00,198.22 L440.50,198.42 L441.00,198.44 L441.50,198.29 L442.00,198.02 L442.50,197.70 L443.00,197.43 L443.50,197.23 L444.00,197.11 L444.50,197.05 L445.00,197.03 L445.50,197.02 L446.00,197.02 L446.50,197.03 L447.00,197.04 L447.50,197.04 L448.00,197.05 L448.50,197.06 L449.00,197.06 L449.50,197.07 L450.00,197.08 L450.50,197.08 L451.00,197.09 L451.50,197.10 L452.00,197.10 L452.50,197.11 L453.00,197.11 L453.50,197.12 L454.00,197.13 L454.50,197.13 L455.00,197.14 L455.50,197.15 L456.00,197.16 L456.50,197.19 L457.00,197.24 L457.50,197.35 L458.00,197.53 L458.50,197.79 L459.00,198.10 L459.50,198.42 L460.00,198.64 L460.50,198.70 L461.00,198.58 L461.50,198.32 L462.00,198.01 L462.50,197.72 L463.00,197.51 L463.50,197.37 L464.00,197.30 L464.50,197.27 L465.00,197.26 L465.50,197.26 L466.00,197.26 L466.50,197.27 L467.00,197.27 L467.50,197.28 L468.00,197.28 L468.50,197.29 L469.00,197.29 L469.50,197.30 L470.00,197.30 L470.50,197.31 L471.00,197.31 L471.50,197.31 L472.00,197.32 L472.50,197.32 L473.00,197.32 L473.50,197.33 L474.00,197.33 L474.50,197.33 L475.00,197.34 L475.50,197.35 L476.00,197.37 L476.50,197.41 L477.00,197.50 L477.50,197.66 L478.00,197.90 L478.50,198.21 L479.00,198.52 L479.50,198.77 L480.00,198.86 L480.50,198.77 L481.00,198.53 L481.50,198.22 L482.00,197.92 L482.50,197.68 L483.00,197.53 L483.50,197.44 L484.00,197.40 L484.50,197.38 L485.00,197.37 L485.50,197.37 L486.00,197.37 L486.50,197.38 L487.00,197.38 L487.50,197.38 L488.00,197.38 L488.50,197.38 L489.00,197.38 L489.50,197.38 L490.00,197.38 L490.50,197.39 L491.00,197.39 L491.50,197.39 L492.00,197.39 L492.50,197.39 L493.00,197.39 L493.50,197.39" stroke="#ff8000" stroke-dasharray="12 11.2" stroke-dashoffset="12.0"/>
<path d="M63.50,184.00 L64.00,236.00 L65.20,236.00 L66.20,214.00 L69.70,191.60 L72.50,191.50 L76.00,196.00 L80.50,201.50 L82.50,194.50 L86.00,195.80 L90.00,196.86 L90.50,196.93 L91.00,197.00 L91.50,197.07 L92.00,197.14 L92.50,197.20 L93.00,197.26 L93.50,197.31 L94.00,197.35 L94.50,197.38 L95.00,197.40 L95.50,197.39 L96.00,197.28 L96.50,197.16 L97.00,197.05 L97.50,197.05 L98.00,197.11 L98.50,197.26 L99.00,197.41 L99.50,197.56 L100.00,197.71 L100.50,197.78 L101.00,197.73 L101.50,197.67 L102.00,197.62 L102.50,197.56 L103.00,197.52 L103.50,197.52 L104.00,197.52 L104.50,197.52 L105.00,197.52 L105.50,197.52 L106.00,197.52 L106.50,197.52 L107.00,197.52 L107.50,197.51 L108.00,197.51 L108.50,197.51 L109.00,197.51 L109.50,197.51 L110.00,197.50 L110.50,197.50 L111.00,197.50 L111.50,197.50 L112.00,197.49 L112.50,197.36 L113.00,197.22 L113.50,197.08 L114.00,197.04 L114.50,197.05 L115.00,197.20 L115.50,197.35 L116.00,197.50 L116.50,197.65 L117.00,197.78 L117.50,197.72 L118.00,197.67 L118.50,197.61 L119.00,197.55 L119.50,197.50 L120.00,197.50 L120.50,197.50 L121.00,197.51 L121.50,197.52 L122.00,197.52 L122.50,197.53 L123.00,197.53 L123.50,197.54 L124.00,197.55 L124.50,197.55 L125.00,197.56 L125.50,197.57 L126.00,197.58 L126.50,197.59 L127.00,197.59 L127.50,197.60 L128.00,197.61 L128.50,197.62 L129.00,197.53 L129.50,197.40 L130.00,197.27 L130.50,197.21 L131.00,197.22 L131.50,197.36 L132.00,197.51 L132.50,197.67 L133.00,197.83 L133.50,197.99 L134.00,197.97 L134.50,197.92 L135.00,197.87 L135.50,197.82 L136.00,197.77 L136.50,197.76 L137.00,197.76 L137.50,197.77 L138.00,197.78 L138.50,197.78 L139.00,197.79 L139.50,197.79 L140.00,197.80 L140.50,197.80 L141.00,197.81 L141.50,197.81 L142.00,197.82 L142.50,197.82 L143.00,197.83 L143.50,197.83 L144.00,197.84 L144.50,197.84 L145.00,197.84 L145.50,197.75 L146.00,197.54 L146.50,197.32 L147.00,197.16 L147.50,197.16 L148.00,197.35 L148.50,197.64 L149.00,197.92 L149.50,198.21 L150.00,198.50 L150.50,198.52 L151.00,198.38 L151.50,198.24 L152.00,198.10 L152.50,197.96 L153.00,197.89 L153.50,197.89 L154.00,197.89 L154.50,197.89 L155.00,197.89 L155.50,197.89 L156.00,197.90 L156.50,197.90 L157.00,197.90 L157.50,197.90 L158.00,197.90 L158.50,197.90 L159.00,197.90 L159.50,197.90 L160.00,197.90 L160.50,197.90 L161.00,197.90 L161.50,197.90 L162.00,197.81 L162.50,197.33 L163.00,196.85 L163.50,196.37 L164.00,196.37 L164.50,196.58 L165.00,197.11 L165.50,197.63 L166.00,198.16 L166.50,198.68 L167.00,198.91 L167.50,198.71 L168.00,198.50 L168.50,198.29 L169.00,198.08 L169.50,197.91 L170.00,197.91 L170.50,197.91 L171.00,197.90 L171.50,197.90 L172.00,197.90 L172.50,197.90 L173.00,197.89 L173.50,197.89 L174.00,197.89 L174.50,197.88 L175.00,197.88 L175.50,197.87 L176.00,197.87 L176.50,197.86 L177.00,197.85 L177.50,197.85 L178.00,197.84 L178.50,197.83 L179.00,197.23 L179.50,196.60 L180.00,195.97 L180.50,195.81 L181.00,195.89 L181.50,196.49 L182.00,197.09 L182.50,197.69 L183.00,198.29 L183.50,198.75 L184.00,198.52 L184.50,198.29 L185.00,198.06 L185.50,197.83 L186.00,197.60 L186.50,197.57 L187.00,197.55 L187.50,197.53 L188.00,197.50 L188.50,197.48 L189.00,197.46 L189.50,197.43 L190.00,197.41 L190.50,197.38 L191.00,197.36 L191.50,197.34 L192.00,197.31 L192.50,197.29 L193.00,197.27 L193.50,197.24 L194.00,197.22 L194.50,197.20 L195.00,197.18 L195.50,196.69 L196.00,196.02 L196.50,195.35 L197.00,195.02 L197.50,195.00 L198.00,195.63 L198.50,196.32 L199.00,197.01 L199.50,197.70 L200.00,198.40 L200.50,198.18 L201.00,197.89 L201.50,197.60 L202.00,197.31 L202.50,197.02 L203.00,196.93 L203.50,196.92 L204.00,196.91 L204.50,196.89 L205.00,196.88 L205.50,196.87 L206.00,196.86 L206.50,196.85 L207.00,196.84 L207.50,196.84 L208.00,196.83 L208.50,196.82 L209.00,196.81 L209.50,196.80 L210.00,196.79 L210.50,196.78 L211.00,196.78 L211.50,196.77 L212.00,196.29 L212.50,195.31 L213.00,194.33 L213.50,193.62 L214.00,193.61 L214.50,194.32 L215.00,195.38 L215.50,196.43 L216.00,197.48 L216.50,198.54 L217.00,198.58 L217.50,198.16 L218.00,197.73 L218.50,197.30 L219.00,196.88 L219.50,196.65 L220.00,196.65 L220.50,196.64 L221.00,196.63 L221.50,196.63 L222.00,196.62 L222.50,196.61 L223.00,196.60 L223.50,196.60 L224.00,196.59 L224.50,196.58 L225.00,196.58 L225.50,196.57 L226.00,196.56 L226.50,196.55 L227.00,196.55 L227.50,196.54 L228.00,196.53 L228.50,196.31 L229.00,195.43 L229.50,194.55 L230.00,193.70 L230.50,193.69 L231.00,194.09 L231.50,195.01 L232.00,195.92 L232.50,196.84 L233.00,197.75 L233.50,198.11 L234.00,197.75 L234.50,197.39 L235.00,197.03 L235.50,196.68 L236.00,196.40 L236.50,196.40 L237.00,196.39 L237.50,196.38 L238.00,196.37 L238.50,196.36 L239.00,196.36 L239.50,196.35 L240.00,196.34 L240.50,196.33 L241.00,196.33 L241.50,196.32 L242.00,196.31 L242.50,196.30 L243.00,196.29 L243.50,196.29 L244.00,196.28 L244.50,196.27 L245.00,196.26 L245.50,195.33 L246.00,194.40 L246.50,193.47 L247.00,193.28 L247.50,193.46 L248.00,194.41 L248.50,195.35 L249.00,196.30 L249.50,197.25 L250.00,197.93 L250.50,197.57 L251.00,197.21 L251.50,196.86 L252.00,196.50 L252.50,196.14 L253.00,196.13 L253.50,196.12 L254.00,196.11 L254.50,196.10 L255.00,196.09 L255.50,196.09 L256.00,196.08 L256.50,196.07 L257.00,196.06 L257.50,196.05 L258.00,196.04 L258.50,196.03 L259.00,196.02 L259.50,196.01 L260.00,196.00 L260.50,195.99 L261.00,195.98 L261.50,195.97 L262.00,195.22 L262.50,194.23 L263.00,193.25 L263.50,192.81 L264.00,192.79 L264.50,193.72 L265.00,194.69 L265.50,195.65 L266.00,196.62 L266.50,197.59 L267.00,197.27 L267.50,196.91 L268.00,196.54 L268.50,196.18 L269.00,195.81 L269.50,195.71 L270.00,195.70 L270.50,195.69 L271.00,195.67 L271.50,195.66 L272.00,195.65 L272.50,195.63 L273.00,195.62 L273.50,195.61 L274.00,195.60 L274.50,195.58 L275.00,195.57 L275.50,195.56 L276.00,195.55 L276.50,195.54 L277.00,195.52 L277.50,195.51 L278.00,195.50 L278.50,194.74 L279.00,193.28 L279.50,191.83 L280.00,190.83 L280.50,190.82 L281.00,191.76 L281.50,193.07 L282.00,194.39 L282.50,195.70 L283.00,197.01 L283.50,197.09 L284.00,196.69 L284.50,196.30 L285.00,195.90 L285.50,195.50 L286.00,195.31 L286.50,195.29 L287.00,195.28 L287.50,195.27 L288.00,195.25 L288.50,195.24 L289.00,195.23 L289.50,195.21 L290.00,195.20 L290.50,195.19 L291.00,195.17 L291.50,195.16 L292.00,195.14 L292.50,195.13 L293.00,195.11 L293.50,195.10 L294.00,195.08 L294.50,195.06 L295.00,194.59 L295.50,192.94 L296.00,191.29 L296.50,189.77 L297.00,189.76 L297.50,190.43 L298.00,191.86 L298.50,193.29 L299.00,194.72 L299.50,196.15 L300.00,196.70 L300.50,196.30 L301.00,195.89 L301.50,195.49 L302.00,195.09 L302.50,194.80 L303.00,194.78 L303.50,194.77 L304.00,194.75 L304.50,194.74 L305.00,194.72 L305.50,194.71 L306.00,194.70 L306.50,194.68 L307.00,194.67 L307.50,194.66 L308.00,194.64 L308.50,194.63 L309.00,194.62 L309.50,194.61 L310.00,194.60 L310.50,194.59 L311.00,194.58 L311.50,194.50 L312.00,192.67 L312.50,190.84 L313.00,189.01 L313.50,188.71 L314.00,189.08 L314.50,190.64 L315.00,192.20 L315.50,193.76 L316.00,195.33 L316.50,196.42 L317.00,196.03 L317.50,195.64 L318.00,195.26 L318.50,194.87 L319.00,194.50 L319.50,194.50 L320.00,194.49 L320.50,194.49 L321.00,194.49 L321.50,194.49 L322.00,194.49 L322.50,194.49 L323.00,194.49 L323.50,194.50 L324.00,194.50 L324.50,194.50 L325.00,194.50 L325.50,194.50 L326.00,194.51 L326.50,194.51 L327.00,194.52 L327.50,194.53 L328.00,194.54 L328.50,193.30 L329.00,191.74 L329.50,190.19 L330.00,189.58 L330.50,189.59 L331.00,190.97 L331.50,192.34 L332.00,193.72 L332.50,195.10 L333.00,196.47 L333.50,196.14 L334.00,195.80 L334.50,195.46 L335.00,195.12 L335.50,194.78 L336.00,194.72 L336.50,194.73 L337.00,194.74 L337.50,194.75 L338.00,194.76 L338.50,194.77 L339.00,194.78 L339.50,194.79 L340.00,194.80 L340.50,194.81 L341.00,194.82 L341.50,194.83 L342.00,194.84 L342.50,194.85 L343.00,194.86 L343.50,194.87 L344.00,194.88 L344.50,194.89 L345.00,194.29 L345.50,193.20 L346.00,192.12 L346.50,191.43 L347.00,191.44 L347.50,192.26 L348.00,193.33 L348.50,194.41 L349.00,195.48 L349.50,196.55 L350.00,196.55 L350.50,196.21 L351.00,195.87 L351.50,195.53 L352.00,195.19 L352.50,195.05 L353.00,195.06 L353.50,195.07 L354.00,195.08 L354.50,195.09 L355.00,195.10 L355.50,195.11 L356.00,195.12 L356.50,195.13 L357.00,195.14 L357.50,195.15 L358.00,195.16 L358.50,195.17 L359.00,195.18 L359.50,195.19 L360.00,195.20 L360.50,195.21 L361.00,195.22 L361.50,194.96 L362.00,194.12 L362.50,193.28 L363.00,192.54 L363.50,192.55 L364.00,192.99 L364.50,193.83 L365.00,194.68 L365.50,195.52 L366.00,196.37 L366.50,196.63 L367.00,196.36 L367.50,196.09 L368.00,195.82 L368.50,195.55 L369.00,195.37 L369.50,195.37 L370.00,195.38 L370.50,195.39 L371.00,195.40 L371.50,195.41 L372.00,195.42 L372.50,195.43 L373.00,195.44 L373.50,195.44 L374.00,195.45 L374.50,195.46 L375.00,195.47 L375.50,195.48 L376.00,195.49 L376.50,195.50 L377.00,195.51 L377.50,195.52 L378.00,195.47 L378.50,194.79 L379.00,194.12 L379.50,193.44 L380.00,193.37 L380.50,193.58 L381.00,194.32 L381.50,195.06 L382.00,195.81 L382.50,196.55 L383.00,197.01 L383.50,196.74 L384.00,196.47 L384.50,196.20 L385.00,195.93 L385.50,195.69 L386.00,195.70 L386.50,195.71 L387.00,195.72 L387.50,195.73 L388.00,195.75 L388.50,195.76 L389.00,195.77 L389.50,195.79 L390.00,195.80 L390.50,195.82 L391.00,195.83 L391.50,195.86 L392.00,195.88 L392.50,195.91 L393.00,195.93 L393.50,195.96 L394.00,195.99 L394.50,196.02 L395.00,195.42 L395.50,194.70 L396.00,193.98 L396.50,193.74 L397.00,193.80 L397.50,194.60 L398.00,195.40 L398.50,196.19 L399.00,196.98 L399.50,197.73 L400.00,197.46 L400.50,197.20 L401.00,196.93 L401.50,196.66 L402.00,196.39 L402.50,196.36 L403.00,196.37 L403.50,196.38 L404.00,196.39 L404.50,196.40 L405.00,196.41 L405.50,196.42 L406.00,196.43 L406.50,196.44 L407.00,196.45 L407.50,196.46 L408.00,196.47 L408.50,196.48 L409.00,196.49 L409.50,196.50 L410.00,196.51 L410.50,196.52 L411.00,196.53 L411.50,196.22 L412.00,195.70 L412.50,195.19 L413.00,194.88 L413.50,194.89 L414.00,195.40 L414.50,196.03 L415.00,196.67 L415.50,197.30 L416.00,197.93 L416.50,197.84 L417.00,197.57 L417.50,197.30 L418.00,197.03 L418.50,196.75 L419.00,196.65 L419.50,196.66 L420.00,196.66 L420.50,196.67 L421.00,196.68 L421.50,196.68 L422.00,196.69 L422.50,196.70 L423.00,196.70 L423.50,196.71 L424.00,196.72 L424.50,196.72 L425.00,196.73 L425.50,196.74 L426.00,196.74 L426.50,196.75 L427.00,196.76 L427.50,196.76 L428.00,196.43 L428.50,195.50 L429.00,194.57 L429.50,193.79 L430.00,193.80 L430.50,194.31 L431.00,195.20 L431.50,196.10 L432.00,197.00 L432.50,197.90 L433.00,198.14 L433.50,197.87 L434.00,197.60 L434.50,197.32 L435.00,197.05 L435.50,196.88 L436.00,196.89 L436.50,196.89 L437.00,196.90 L437.50,196.91 L438.00,196.91 L438.50,196.92 L439.00,196.93 L439.50,196.93 L440.00,196.94 L440.50,196.95 L441.00,196.95 L441.50,196.96 L442.00,196.97 L442.50,196.98 L443.00,196.98 L443.50,196.99 L444.00,197.00 L444.50,196.94 L445.00,196.45 L445.50,195.96 L446.00,195.46 L446.50,195.43 L447.00,195.63 L447.50,196.25 L448.00,196.87 L448.50,197.48 L449.00,198.10 L449.50,198.43 L450.00,198.16 L450.50,197.89 L451.00,197.61 L451.50,197.34 L452.00,197.10 L452.50,197.11 L453.00,197.11 L453.50,197.12 L454.00,197.13 L454.50,197.13 L455.00,197.14 L455.50,197.14 L456.00,197.15 L456.50,197.16 L457.00,197.16 L457.50,197.17 L458.00,197.17 L458.50,197.18 L459.00,197.19 L459.50,197.19 L460.00,197.20 L460.50,197.20 L461.00,197.21 L461.50,196.77 L462.00,196.28 L462.50,195.78 L463.00,195.63 L463.50,195.68 L464.00,196.30 L464.50,196.92 L465.00,197.53 L465.50,198.15 L466.00,198.69 L466.50,198.42 L467.00,198.14 L467.50,197.87 L468.00,197.59 L468.50,197.32 L469.00,197.29 L469.50,197.30 L470.00,197.30 L470.50,197.30 L471.00,197.31 L471.50,197.31 L472.00,197.32 L472.50,197.32 L473.00,197.32 L473.50,197.33 L474.00,197.33 L474.50,197.33 L475.00,197.34 L475.50,197.34 L476.00,197.34 L476.50,197.34 L477.00,197.35 L477.50,197.35 L478.00,197.27 L478.50,197.15 L479.00,197.03 L479.50,196.96 L480.00,196.96 L480.50,197.27 L481.00,197.64 L481.50,198.02 L482.00,198.39 L482.50,198.76 L483.00,198.59 L483.50,198.31 L484.00,198.03 L484.50,197.75 L485.00,197.47 L485.50,197.37 L486.00,197.37 L486.50,197.38 L487.00,197.38 L487.50,197.38 L488.00,197.38 L488.50,197.38 L489.00,197.38 L489.50,197.38 L490.00,197.38 L490.50,197.39 L491.00,197.39 L491.50,197.39 L492.00,197.39 L492.50,197.39 L493.00,197.39 L493.50,197.39" stroke="#0000ff" stroke-dasharray="12 2.8 6 2.8" stroke-dashoffset="0"/>
</g>
<g clip-path="url(#c2)" fill="none" stroke-width="2.7" stroke-linejoin="round">
<path d="M63.50,354.00 L65.50,317.00 L69.80,332.00 L74.00,334.50 L86.00,334.50 L86.50,334.20 L87.00,334.20 L87.50,334.20 L88.00,334.20 L88.50,334.20 L89.00,334.20 L89.50,334.20 L90.00,334.20 L90.50,334.20 L91.00,334.20 L91.50,334.20 L92.00,334.19 L92.50,334.19 L93.00,334.19 L93.50,334.19 L94.00,334.19 L94.50,334.18 L95.00,334.18 L95.50,334.18 L96.00,334.18 L96.50,334.17 L97.00,334.17 L97.50,334.17 L98.00,334.16 L98.50,334.16 L99.00,334.15 L99.50,334.15 L100.00,334.15 L100.50,334.14 L101.00,334.14 L101.50,334.13 L102.00,334.13 L102.50,334.12 L103.00,334.12 L103.50,334.11 L104.00,334.11 L104.50,334.10 L105.00,334.10 L105.50,334.09 L106.00,334.08 L106.50,334.08 L107.00,334.07 L107.50,334.07 L108.00,334.06 L108.50,334.05 L109.00,334.05 L109.50,334.04 L110.00,334.04 L110.50,334.03 L111.00,334.02 L111.50,334.02 L112.00,334.01 L112.50,334.00 L113.00,334.00 L113.50,333.99 L114.00,333.98 L114.50,333.98 L115.00,333.97 L115.50,333.96 L116.00,333.96 L116.50,333.95 L117.00,333.94 L117.50,333.93 L118.00,333.93 L118.50,333.92 L119.00,333.91 L119.50,333.91 L120.00,333.90 L120.50,333.89 L121.00,333.89 L121.50,333.88 L122.00,333.87 L122.50,333.87 L123.00,333.86 L123.50,333.85 L124.00,333.84 L124.50,333.84 L125.00,333.83 L125.50,333.82 L126.00,333.81 L126.50,333.81 L127.00,333.80 L127.50,333.79 L128.00,333.78 L128.50,333.77 L129.00,333.77 L129.50,333.76 L130.00,333.75 L130.50,333.74 L131.00,333.73 L131.50,333.72 L132.00,333.71 L132.50,333.70 L133.00,333.69 L133.50,333.68 L134.00,333.67 L134.50,333.66 L135.00,333.64 L135.50,333.63 L136.00,333.62 L136.50,333.60 L137.00,333.59 L137.50,333.58 L138.00,333.56 L138.50,333.55 L139.00,333.53 L139.50,333.52 L140.00,333.50 L140.50,333.48 L141.00,333.47 L141.50,333.45 L142.00,333.43 L142.50,333.41 L143.00,333.38 L143.50,333.36 L144.00,333.32 L144.50,333.29 L145.00,333.24 L145.50,333.19 L146.00,333.14 L146.50,333.07 L147.00,333.00 L147.50,332.90 L148.00,332.76 L148.50,332.59 L149.00,332.40 L149.50,332.22 L150.00,332.05 L150.50,331.90 L151.00,331.80 L151.50,331.72 L152.00,331.66 L152.50,331.60 L153.00,331.55 L153.50,331.50 L154.00,331.47 L154.50,331.44 L155.00,331.42 L155.50,331.40 L156.00,331.40 L156.50,331.39 L157.00,331.40 L157.50,331.42 L158.00,331.44 L158.50,331.48 L159.00,331.53 L159.50,331.59 L160.00,331.65 L160.50,331.71 L161.00,331.77 L161.50,331.84 L162.00,331.90 L162.50,331.95 L163.00,332.00 L163.50,332.04 L164.00,332.09 L164.50,332.13 L165.00,332.18 L165.50,332.22 L166.00,332.26 L166.50,332.31 L167.00,332.35 L167.50,332.39 L168.00,332.44 L168.50,332.48 L169.00,332.52 L169.50,332.56 L170.00,332.61 L170.50,332.65 L171.00,332.69 L171.50,332.73 L172.00,332.77 L172.50,332.81 L173.00,332.85 L173.50,332.89 L174.00,332.92 L174.50,332.96 L175.00,333.00 L175.50,333.04 L176.00,333.08 L176.50,333.12 L177.00,333.16 L177.50,333.20 L178.00,333.24 L178.50,333.28 L179.00,333.32 L179.50,333.36 L180.00,333.41 L180.50,333.45 L181.00,333.49 L181.50,333.53 L182.00,333.57 L182.50,333.61 L183.00,333.65 L183.50,333.68 L184.00,333.72 L184.50,333.75 L185.00,333.79 L185.50,333.82 L186.00,333.85 L186.50,333.88 L187.00,333.90 L187.50,333.92 L188.00,333.94 L188.50,333.96 L189.00,333.98 L189.50,333.99 L190.00,334.00 L190.50,334.01 L191.00,334.02 L191.50,334.02 L192.00,334.03 L192.50,334.04 L193.00,334.05 L193.50,334.05 L194.00,334.06 L194.50,334.07 L195.00,334.07 L195.50,334.08 L196.00,334.09 L196.50,334.09 L197.00,334.10 L197.50,334.10 L198.00,334.11 L198.50,334.12 L199.00,334.12 L199.50,334.13 L200.00,334.13 L200.50,334.14 L201.00,334.14 L201.50,334.15 L202.00,334.15 L202.50,334.16 L203.00,334.16 L203.50,334.17 L204.00,334.17 L204.50,334.17 L205.00,334.18 L205.50,334.18 L206.00,334.19 L206.50,334.19 L207.00,334.19 L207.50,334.20 L208.00,334.20 L208.50,334.20 L209.00,334.21 L209.50,334.21 L210.00,334.21 L210.50,334.22 L211.00,334.22 L211.50,334.22 L212.00,334.22 L212.50,334.23 L213.00,334.23 L213.50,334.23 L214.00,334.23 L214.50,334.24 L215.00,334.24 L215.50,334.24 L216.00,334.24 L216.50,334.24 L217.00,334.25 L217.50,334.25 L218.00,334.25 L218.50,334.25 L219.00,334.25 L219.50,334.25 L220.00,334.25 L220.50,334.25 L221.00,334.26 L221.50,334.26 L222.00,334.26 L222.50,334.26 L223.00,334.26 L223.50,334.26 L224.00,334.26 L224.50,334.26 L225.00,334.26 L225.50,334.26 L226.00,334.26 L226.50,334.26 L227.00,334.26 L227.50,334.26 L228.00,334.26 L228.50,334.26 L229.00,334.26 L229.50,334.26 L230.00,334.26 L230.50,334.26 L231.00,334.26 L231.50,334.26 L232.00,334.26 L232.50,334.26 L233.00,334.25 L233.50,334.25 L234.00,334.25 L234.50,334.25 L235.00,334.25 L235.50,334.25 L236.00,334.25 L236.50,334.25 L237.00,334.25 L237.50,334.25 L238.00,334.24 L238.50,334.24 L239.00,334.24 L239.50,334.24 L240.00,334.24 L240.50,334.24 L241.00,334.24 L241.50,334.23 L242.00,334.23 L242.50,334.23 L243.00,334.23 L243.50,334.23 L244.00,334.22 L244.50,334.22 L245.00,334.22 L245.50,334.22 L246.00,334.22 L246.50,334.21 L247.00,334.21 L247.50,334.21 L248.00,334.21 L248.50,334.21 L249.00,334.20 L249.50,334.20 L250.00,334.20 L250.50,334.20 L251.00,334.20 L251.50,334.19 L252.00,334.19 L252.50,334.19 L253.00,334.18 L253.50,334.18 L254.00,334.17 L254.50,334.17 L255.00,334.17 L255.50,334.16 L256.00,334.16 L256.50,334.15 L257.00,334.15 L257.50,334.14 L258.00,334.13 L258.50,334.13 L259.00,334.12 L259.50,334.12 L260.00,334.11 L260.50,334.10 L261.00,334.09 L261.50,334.09 L262.00,334.08 L262.50,334.07 L263.00,334.06 L263.50,334.05 L264.00,334.04 L264.50,334.03 L265.00,334.02 L265.50,334.02 L266.00,334.00 L266.50,333.99 L267.00,333.98 L267.50,333.97 L268.00,333.96 L268.50,333.95 L269.00,333.94 L269.50,333.93 L270.00,333.91 L270.50,333.90 L271.00,333.89 L271.50,333.87 L272.00,333.86 L272.50,333.85 L273.00,333.83 L273.50,333.82 L274.00,333.80 L274.50,333.79 L275.00,333.77 L275.50,333.76 L276.00,333.74 L276.50,333.72 L277.00,333.71 L277.50,333.69 L278.00,333.67 L278.50,333.66 L279.00,333.64 L279.50,333.62 L280.00,333.60 L280.50,333.58 L281.00,333.56 L281.50,333.53 L282.00,333.51 L282.50,333.48 L283.00,333.45 L283.50,333.42 L284.00,333.39 L284.50,333.36 L285.00,333.32 L285.50,333.29 L286.00,333.25 L286.50,333.21 L287.00,333.18 L287.50,333.14 L288.00,333.10 L288.50,333.06 L289.00,333.01 L289.50,332.97 L290.00,332.93 L290.50,332.89 L291.00,332.84 L291.50,332.80 L292.00,332.76 L292.50,332.71 L293.00,332.67 L293.50,332.63 L294.00,332.58 L294.50,332.54 L295.00,332.50 L295.50,332.46 L296.00,332.41 L296.50,332.36 L297.00,332.30 L297.50,332.25 L298.00,332.19 L298.50,332.13 L299.00,332.08 L299.50,332.02 L300.00,331.96 L300.50,331.90 L301.00,331.84 L301.50,331.79 L302.00,331.74 L302.50,331.69 L303.00,331.64 L303.50,331.60 L304.00,331.56 L304.50,331.53 L305.00,331.50 L305.50,331.48 L306.00,331.45 L306.50,331.43 L307.00,331.40 L307.50,331.38 L308.00,331.36 L308.50,331.34 L309.00,331.32 L309.50,331.30 L310.00,331.28 L310.50,331.26 L311.00,331.25 L311.50,331.23 L312.00,331.21 L312.50,331.20 L313.00,331.18 L313.50,331.17 L314.00,331.15 L314.50,331.14 L315.00,331.12 L315.50,331.11 L316.00,331.10 L316.50,331.09 L317.00,331.08 L317.50,331.07 L318.00,331.06 L318.50,331.05 L319.00,331.04 L319.50,331.04 L320.00,331.03 L320.50,331.03 L321.00,331.02 L321.50,331.02 L322.00,331.01 L322.50,331.01 L323.00,331.00 L323.50,331.00 L324.00,331.00 L324.50,331.00 L325.00,331.00 L325.50,331.00 L326.00,331.01 L326.50,331.02 L327.00,331.03 L327.50,331.05 L328.00,331.07 L328.50,331.09 L329.00,331.12 L329.50,331.16 L330.00,331.19 L330.50,331.23 L331.00,331.28 L331.50,331.33 L332.00,331.38 L332.50,331.44 L333.00,331.50 L333.50,331.57 L334.00,331.65 L334.50,331.74 L335.00,331.84 L335.50,331.95 L336.00,332.06 L336.50,332.17 L337.00,332.29 L337.50,332.40 L338.00,332.51 L338.50,332.62 L339.00,332.72 L339.50,332.82 L340.00,332.90 L340.50,332.98 L341.00,333.06 L341.50,333.15 L342.00,333.23 L342.50,333.32 L343.00,333.40 L343.50,333.49 L344.00,333.57 L344.50,333.65 L345.00,333.73 L345.50,333.80 L346.00,333.87 L346.50,333.94 L347.00,334.00 L347.50,334.05 L348.00,334.10 L348.50,334.13 L349.00,334.17 L349.50,334.19 L350.00,334.20 L350.50,334.21 L351.00,334.22 L351.50,334.22 L352.00,334.23 L352.50,334.24 L353.00,334.24 L353.50,334.25 L354.00,334.26 L354.50,334.26 L355.00,334.27 L355.50,334.28 L356.00,334.28 L356.50,334.29 L357.00,334.29 L357.50,334.30 L358.00,334.30 L358.50,334.31 L359.00,334.31 L359.50,334.32 L360.00,334.32 L360.50,334.33 L361.00,334.33 L361.50,334.34 L362.00,334.34 L362.50,334.34 L363.00,334.35 L363.50,334.35 L364.00,334.36 L364.50,334.36 L365.00,334.36 L365.50,334.37 L366.00,334.37 L366.50,334.37 L367.00,334.38 L367.50,334.38 L368.00,334.38 L368.50,334.38 L369.00,334.39 L369.50,334.39 L370.00,334.39 L370.50,334.39 L371.00,334.39 L371.50,334.40 L372.00,334.40 L372.50,334.40 L373.00,334.40 L373.50,334.40 L374.00,334.40 L374.50,334.41 L375.00,334.41 L375.50,334.41 L376.00,334.41 L376.50,334.41 L377.00,334.41 L377.50,334.41 L378.00,334.41 L378.50,334.41 L379.00,334.41 L379.50,334.41 L380.00,334.41 L380.50,334.41 L381.00,334.41 L381.50,334.41 L382.00,334.41 L382.50,334.41 L383.00,334.41 L383.50,334.41 L384.00,334.41 L384.50,334.41 L385.00,334.41 L385.50,334.41 L386.00,334.41 L386.50,334.41 L387.00,334.41 L387.50,334.41 L388.00,334.41 L388.50,334.41 L389.00,334.41 L389.50,334.41 L390.00,334.41 L390.50,334.40 L391.00,334.40 L391.50,334.40 L392.00,334.40 L392.50,334.40 L393.00,334.40 L393.50,334.40 L394.00,334.40 L394.50,334.39 L395.00,334.39 L395.50,334.39 L396.00,334.39 L396.50,334.39 L397.00,334.39 L397.50,334.39 L398.00,334.38 L398.50,334.38 L399.00,334.38 L399.50,334.38 L400.00,334.38 L400.50,334.38 L401.00,334.37 L401.50,334.37 L402.00,334.37 L402.50,334.37 L403.00,334.37 L403.50,334.37 L404.00,334.36 L404.50,334.36 L405.00,334.36 L405.50,334.36 L406.00,334.36 L406.50,334.36 L407.00,334.35 L407.50,334.35 L408.00,334.35 L408.50,334.35 L409.00,334.35 L409.50,334.34 L410.00,334.34 L410.50,334.34 L411.00,334.34 L411.50,334.34 L412.00,334.34 L412.50,334.33 L413.00,334.33 L413.50,334.33 L414.00,334.33 L414.50,334.33 L415.00,334.33 L415.50,334.32 L416.00,334.32 L416.50,334.32 L417.00,334.32 L417.50,334.32 L418.00,334.32 L418.50,334.32 L419.00,334.32 L419.50,334.31 L420.00,334.31 L420.50,334.31 L421.00,334.31 L421.50,334.31 L422.00,334.31 L422.50,334.31 L423.00,334.31 L423.50,334.31 L424.00,334.30 L424.50,334.30 L425.00,334.30 L425.50,334.30 L426.00,334.30 L426.50,334.30 L427.00,334.30 L427.50,334.30 L428.00,334.30 L428.50,334.30 L429.00,334.30 L429.50,334.30 L430.00,334.30 L430.50,334.30 L431.00,334.30 L431.50,334.30 L432.00,334.30 L432.50,334.30 L433.00,334.30 L433.50,334.30 L434.00,334.30 L434.50,334.31 L435.00,334.31 L435.50,334.31 L436.00,334.31 L436.50,334.31 L437.00,334.31 L437.50,334.31 L438.00,334.31 L438.50,334.32 L439.00,334.32 L439.50,334.32 L440.00,334.32 L440.50,334.32 L441.00,334.33 L441.50,334.33 L442.00,334.33 L442.50,334.33 L443.00,334.33 L443.50,334.34 L444.00,334.34 L444.50,334.34 L445.00,334.34 L445.50,334.34 L446.00,334.35 L446.50,334.35 L447.00,334.35 L447.50,334.35 L448.00,334.35 L448.50,334.35 L449.00,334.36 L449.50,334.36 L450.00,334.36 L450.50,334.36 L451.00,334.36 L451.50,334.36 L452.00,334.37 L452.50,334.37 L453.00,334.37 L453.50,334.37 L454.00,334.37 L454.50,334.37 L455.00,334.37 L455.50,334.37 L456.00,334.37 L456.50,334.37 L457.00,334.37 L457.50,334.37 L458.00,334.37 L458.50,334.37 L459.00,334.37 L459.50,334.37 L460.00,334.37 L460.50,334.37 L461.00,334.37 L461.50,334.37 L462.00,334.37 L462.50,334.37 L463.00,334.36 L463.50,334.36 L464.00,334.36 L464.50,334.36 L465.00,334.36 L465.50,334.35 L466.00,334.35 L466.50,334.35 L467.00,334.34 L467.50,334.34 L468.00,334.34 L468.50,334.33 L469.00,334.33 L469.50,334.32 L470.00,334.32 L470.50,334.31 L471.00,334.31 L471.50,334.30 L472.00,334.30 L472.50,334.29 L473.00,334.28 L473.50,334.28 L474.00,334.27 L474.50,334.26 L475.00,334.25 L475.50,334.25 L476.00,334.24 L476.50,334.23 L477.00,334.22 L477.50,334.21 L478.00,334.20 L478.50,334.18 L479.00,334.14 L479.50,334.09 L480.00,334.02 L480.50,333.94 L481.00,333.86 L481.50,333.77 L482.00,333.67 L482.50,333.58 L483.00,333.49 L483.50,333.40 L484.00,333.32 L484.50,333.26 L485.00,333.20 L485.50,333.15 L486.00,333.11 L486.50,333.07 L487.00,333.04 L487.50,333.01 L488.00,332.98 L488.50,332.95 L489.00,332.92 L489.50,332.90 L490.00,332.87 L490.50,332.85 L491.00,332.83 L491.50,332.80 L492.00,332.78 L492.50,332.75 L493.00,332.73 L493.50,332.70" stroke="#00ff00" stroke-dasharray="2.7 3.15" stroke-dashoffset="0"/>
<path d="M63.50,352.00 L65.80,318.00 L70.00,332.00 L73.50,334.00 L74.00,334.11 L74.50,334.12 L75.00,334.14 L75.50,334.19 L76.00,334.31 L76.50,334.54 L77.00,334.98 L77.50,335.69 L78.00,336.72 L78.50,338.00 L79.00,339.35 L79.50,340.48 L80.00,341.10 L80.50,341.04 L81.00,340.30 L81.50,339.11 L82.00,337.76 L82.50,336.53 L83.00,335.57 L83.50,334.92 L84.00,334.54 L84.50,334.34 L85.00,334.25 L85.50,334.22 L86.00,334.20 L86.50,334.20 L87.00,334.20 L87.50,334.20 L88.00,334.20 L88.50,334.20 L89.00,334.20 L89.50,334.20 L90.00,334.20 L90.50,334.20 L91.00,334.20 L91.50,334.21 L92.00,334.24 L92.50,334.30 L93.00,334.44 L93.50,334.70 L94.00,335.15 L94.50,335.83 L95.00,336.70 L95.50,337.67 L96.00,338.53 L96.50,339.07 L97.00,339.14 L97.50,338.71 L98.00,337.91 L98.50,336.95 L99.00,336.03 L99.50,335.28 L100.00,334.76 L100.50,334.45 L101.00,334.27 L101.50,334.19 L102.00,334.15 L102.50,334.13 L103.00,334.12 L103.50,334.11 L104.00,334.11 L104.50,334.10 L105.00,334.10 L105.50,334.09 L106.00,334.08 L106.50,334.08 L107.00,334.07 L107.50,334.07 L108.00,334.07 L108.50,334.08 L109.00,334.12 L109.50,334.20 L110.00,334.38 L110.50,334.70 L111.00,335.19 L111.50,335.85 L112.00,336.62 L112.50,337.34 L113.00,337.84 L113.50,337.99 L114.00,337.73 L114.50,337.15 L115.00,336.39 L115.50,335.63 L116.00,334.99 L116.50,334.53 L117.00,334.23 L117.50,334.07 L118.00,333.98 L118.50,333.94 L119.00,333.92 L119.50,333.91 L120.00,333.90 L120.50,333.89 L121.00,333.89 L121.50,333.88 L122.00,333.87 L122.50,333.87 L123.00,333.86 L123.50,333.85 L124.00,333.85 L124.50,333.84 L125.00,333.85 L125.50,333.87 L126.00,333.93 L126.50,334.06 L127.00,334.30 L127.50,334.69 L128.00,335.24 L128.50,335.89 L129.00,336.54 L129.50,337.04 L130.00,337.25 L130.50,337.10 L131.00,336.65 L131.50,336.00 L132.00,335.32 L132.50,334.72 L133.00,334.28 L133.50,333.98 L134.00,333.81 L134.50,333.71 L135.00,333.67 L135.50,333.64 L136.00,333.62 L136.50,333.61 L137.00,333.59 L137.50,333.58 L138.00,333.56 L138.50,333.55 L139.00,333.53 L139.50,333.52 L140.00,333.50 L140.50,333.48 L141.00,333.47 L141.50,333.46 L142.00,333.47 L142.50,333.50 L143.00,333.60 L143.50,333.79 L144.00,334.12 L144.50,334.60 L145.00,335.20 L145.50,335.82 L146.00,336.32 L146.50,336.55 L147.00,336.43 L147.50,335.94 L148.00,335.20 L148.50,334.35 L149.00,333.55 L149.50,332.90 L150.00,332.41 L150.50,332.08 L151.00,331.87 L151.50,331.75 L152.00,331.67 L152.50,331.60 L153.00,331.55 L153.50,331.50 L154.00,331.47 L154.50,331.44 L155.00,331.42 L155.50,331.40 L156.00,331.40 L156.50,331.40 L157.00,331.40 L157.50,331.42 L158.00,331.45 L158.50,331.51 L159.00,331.61 L159.50,331.76 L160.00,332.01 L160.50,332.40 L161.00,332.95 L161.50,333.63 L162.00,334.36 L162.50,335.02 L163.00,335.44 L163.50,335.52 L164.00,335.25 L164.50,334.73 L165.00,334.10 L165.50,333.51 L166.00,333.04 L166.50,332.73 L167.00,332.56 L167.50,332.49 L168.00,332.47 L168.50,332.49 L169.00,332.53 L169.50,332.57 L170.00,332.61 L170.50,332.65 L171.00,332.69 L171.50,332.73 L172.00,332.77 L172.50,332.81 L173.00,332.85 L173.50,332.89 L174.00,332.93 L174.50,332.97 L175.00,333.02 L175.50,333.10 L176.00,333.22 L176.50,333.43 L177.00,333.76 L177.50,334.24 L178.00,334.87 L178.50,335.59 L179.00,336.26 L179.50,336.74 L180.00,336.90 L180.50,336.71 L181.00,336.24 L181.50,335.62 L182.00,335.00 L182.50,334.49 L183.00,334.14 L183.50,333.93 L184.00,333.83 L184.50,333.80 L185.00,333.80 L185.50,333.82 L186.00,333.85 L186.50,333.88 L187.00,333.90 L187.50,333.92 L188.00,333.94 L188.50,333.96 L189.00,333.98 L189.50,333.99 L190.00,334.00 L190.50,334.01 L191.00,334.02 L191.50,334.04 L192.00,334.08 L192.50,334.16 L193.00,334.31 L193.50,334.57 L194.00,334.98 L194.50,335.55 L195.00,336.22 L195.50,336.88 L196.00,337.38 L196.50,337.59 L197.00,337.45 L197.50,337.00 L198.00,336.36 L198.50,335.70 L199.00,335.12 L199.50,334.70 L200.00,334.43 L200.50,334.27 L201.00,334.20 L201.50,334.17 L202.00,334.16 L202.50,334.16 L203.00,334.16 L203.50,334.17 L204.00,334.17 L204.50,334.17 L205.00,334.18 L205.50,334.18 L206.00,334.19 L206.50,334.19 L207.00,334.20 L207.50,334.20 L208.00,334.22 L208.50,334.24 L209.00,334.31 L209.50,334.43 L210.00,334.66 L210.50,335.03 L211.00,335.55 L211.50,336.20 L212.00,336.88 L212.50,337.43 L213.00,337.71 L213.50,337.65 L214.00,337.26 L214.50,336.65 L215.00,335.98 L215.50,335.37 L216.00,334.90 L216.50,334.59 L217.00,334.41 L217.50,334.32 L218.00,334.28 L218.50,334.26 L219.00,334.25 L219.50,334.25 L220.00,334.25 L220.50,334.25 L221.00,334.26 L221.50,334.26 L222.00,334.26 L222.50,334.26 L223.00,334.26 L223.50,334.26 L224.00,334.26 L224.50,334.27 L225.00,334.29 L225.50,334.34 L226.00,334.44 L226.50,334.64 L227.00,334.97 L227.50,335.46 L228.00,336.08 L228.50,336.75 L229.00,337.35 L229.50,337.70 L230.00,337.72 L230.50,337.40 L231.00,336.83 L231.50,336.16 L232.00,335.52 L232.50,335.01 L233.00,334.67 L233.50,334.45 L234.00,334.34 L234.50,334.29 L235.00,334.26 L235.50,334.25 L236.00,334.25 L236.50,334.25 L237.00,334.25 L237.50,334.25 L238.00,334.24 L238.50,334.24 L239.00,334.24 L239.50,334.24 L240.00,334.24 L240.50,334.24 L241.00,334.24 L241.50,334.26 L242.00,334.30 L242.50,334.38 L243.00,334.55 L243.50,334.84 L244.00,335.29 L244.50,335.88 L245.00,336.56 L245.50,337.18 L246.00,337.60 L246.50,337.71 L247.00,337.46 L247.50,336.94 L248.00,336.27 L248.50,335.61 L249.00,335.07 L249.50,334.68 L250.00,334.44 L250.50,334.31 L251.00,334.24 L251.50,334.21 L252.00,334.19 L252.50,334.19 L253.00,334.18 L253.50,334.18 L254.00,334.17 L254.50,334.17 L255.00,334.17 L255.50,334.16 L256.00,334.16 L256.50,334.15 L257.00,334.15 L257.50,334.15 L258.00,334.15 L258.50,334.18 L259.00,334.25 L259.50,334.39 L260.00,334.64 L260.50,335.04 L261.00,335.60 L261.50,336.26 L262.00,336.90 L262.50,337.38 L263.00,337.56 L263.50,337.39 L264.00,336.91 L264.50,336.26 L265.00,335.58 L265.50,335.00 L266.00,334.56 L266.50,334.28 L267.00,334.12 L267.50,334.03 L268.00,333.98 L268.50,333.96 L269.00,333.94 L269.50,333.93 L270.00,333.91 L270.50,333.90 L271.00,333.89 L271.50,333.87 L272.00,333.86 L272.50,333.85 L273.00,333.83 L273.50,333.82 L274.00,333.81 L274.50,333.80 L275.00,333.81 L275.50,333.86 L276.00,333.97 L276.50,334.18 L277.00,334.54 L277.50,335.05 L278.00,335.68 L278.50,336.33 L279.00,336.85 L279.50,337.10 L280.00,337.01 L280.50,336.58 L281.00,335.95 L281.50,335.25 L282.00,334.62 L282.50,334.13 L283.00,333.79 L283.50,333.58 L284.00,333.46 L284.50,333.39 L285.00,333.33 L285.50,333.29 L286.00,333.25 L286.50,333.21 L287.00,333.18 L287.50,333.14 L288.00,333.10 L288.50,333.06 L289.00,333.01 L289.50,332.97 L290.00,332.93 L290.50,332.89 L291.00,332.86 L291.50,332.83 L292.00,332.84 L292.50,332.90 L293.00,333.06 L293.50,333.35 L294.00,333.80 L294.50,334.39 L295.00,335.02 L295.50,335.56 L296.00,335.86 L296.50,335.82 L297.00,335.43 L297.50,334.80 L298.00,334.06 L298.50,333.38 L299.00,332.82 L299.50,332.42 L300.00,332.15 L300.50,331.99 L301.00,331.88 L301.50,331.80 L302.00,331.74 L302.50,331.69 L303.00,331.64 L303.50,331.60 L304.00,331.56 L304.50,331.53 L305.00,331.50 L305.50,331.48 L306.00,331.45 L306.50,331.43 L307.00,331.41 L307.50,331.39 L308.00,331.39 L308.50,331.41 L309.00,331.48 L309.50,331.63 L310.00,331.91 L310.50,332.35 L311.00,332.93 L311.50,333.59 L312.00,334.19 L312.50,334.59 L313.00,334.67 L313.50,334.40 L314.00,333.85 L314.50,333.17 L315.00,332.51 L315.50,331.96 L316.00,331.57 L316.50,331.32 L317.00,331.18 L317.50,331.11 L318.00,331.08 L318.50,331.06 L319.00,331.05 L319.50,331.04 L320.00,331.03 L320.50,331.03 L321.00,331.02 L321.50,331.02 L322.00,331.01 L322.50,331.01 L323.00,331.01 L323.50,331.00 L324.00,331.01 L324.50,331.02 L325.00,331.05 L325.50,331.13 L326.00,331.29 L326.50,331.56 L327.00,331.99 L327.50,332.58 L328.00,333.27 L328.50,333.94 L329.00,334.45 L329.50,334.66 L330.00,334.52 L330.50,334.08 L331.00,333.48 L331.50,332.86 L332.00,332.34 L332.50,331.98 L333.00,331.78 L333.50,331.70 L334.00,331.70 L334.50,331.76 L335.00,331.85 L335.50,331.95 L336.00,332.06 L336.50,332.17 L337.00,332.29 L337.50,332.40 L338.00,332.51 L338.50,332.62 L339.00,332.72 L339.50,332.82 L340.00,332.90 L340.50,332.99 L341.00,333.08 L341.50,333.19 L342.00,333.34 L342.50,333.55 L343.00,333.87 L343.50,334.34 L344.00,334.95 L344.50,335.69 L345.00,336.43 L345.50,337.04 L346.00,337.36 L346.50,337.33 L347.00,336.98 L347.50,336.41 L348.00,335.78 L348.50,335.22 L349.00,334.80 L349.50,334.52 L350.00,334.36 L350.50,334.27 L351.00,334.24 L351.50,334.23 L352.00,334.23 L352.50,334.24 L353.00,334.24 L353.50,334.25 L354.00,334.26 L354.50,334.26 L355.00,334.27 L355.50,334.28 L356.00,334.28 L356.50,334.29 L357.00,334.30 L357.50,334.31 L358.00,334.34 L358.50,334.39 L359.00,334.51 L359.50,334.72 L360.00,335.07 L360.50,335.57 L361.00,336.20 L361.50,336.88 L362.00,337.47 L362.50,337.80 L363.00,337.80 L363.50,337.46 L364.00,336.88 L364.50,336.21 L365.00,335.58 L365.50,335.09 L366.00,334.76 L366.50,334.56 L367.00,334.46 L367.50,334.41 L368.00,334.39 L368.50,334.39 L369.00,334.39 L369.50,334.39 L370.00,334.39 L370.50,334.39 L371.00,334.39 L371.50,334.40 L372.00,334.40 L372.50,334.40 L373.00,334.40 L373.50,334.41 L374.00,334.41 L374.50,334.43 L375.00,334.48 L375.50,334.57 L376.00,334.75 L376.50,335.06 L377.00,335.52 L377.50,336.12 L378.00,336.80 L378.50,337.42 L379.00,337.82 L379.50,337.90 L380.00,337.63 L380.50,337.09 L381.00,336.42 L381.50,335.77 L382.00,335.24 L382.50,334.87 L383.00,334.64 L383.50,334.52 L384.00,334.45 L384.50,334.43 L385.00,334.42 L385.50,334.41 L386.00,334.41 L386.50,334.41 L387.00,334.41 L387.50,334.41 L388.00,334.41 L388.50,334.41 L389.00,334.41 L389.50,334.41 L390.00,334.41 L390.50,334.41 L391.00,334.42 L391.50,334.46 L392.00,334.53 L392.50,334.69 L393.00,334.96 L393.50,335.38 L394.00,335.95 L394.50,336.62 L395.00,337.26 L395.50,337.73 L396.00,337.89 L396.50,337.70 L397.00,337.21 L397.50,336.56 L398.00,335.89 L398.50,335.33 L399.00,334.91 L399.50,334.65 L400.00,334.50 L400.50,334.43 L401.00,334.39 L401.50,334.38 L402.00,334.37 L402.50,334.37 L403.00,334.37 L403.50,334.37 L404.00,334.36 L404.50,334.36 L405.00,334.36 L405.50,334.36 L406.00,334.36 L406.50,334.36 L407.00,334.36 L407.50,334.37 L408.00,334.39 L408.50,334.46 L409.00,334.59 L409.50,334.83 L410.00,335.21 L410.50,335.75 L411.00,336.40 L411.50,337.06 L412.00,337.59 L412.50,337.83 L413.00,337.72 L413.50,337.29 L414.00,336.66 L414.50,335.99 L415.00,335.39 L415.50,334.94 L416.00,334.64 L416.50,334.47 L417.00,334.38 L417.50,334.34 L418.00,334.33 L418.50,334.32 L419.00,334.32 L419.50,334.31 L420.00,334.31 L420.50,334.31 L421.00,334.31 L421.50,334.31 L422.00,334.31 L422.50,334.31 L423.00,334.31 L423.50,334.31 L424.00,334.32 L424.50,334.34 L425.00,334.39 L425.50,334.50 L426.00,334.71 L426.50,335.06 L427.00,335.57 L427.50,336.20 L428.00,336.87 L428.50,337.44 L429.00,337.77 L429.50,337.74 L430.00,337.39 L430.50,336.79 L431.00,336.12 L431.50,335.50 L432.00,335.01 L432.50,334.68 L433.00,334.49 L433.50,334.38 L434.00,334.34 L434.50,334.32 L435.00,334.31 L435.50,334.31 L436.00,334.31 L436.50,334.31 L437.00,334.31 L437.50,334.31 L438.00,334.31 L438.50,334.32 L439.00,334.32 L439.50,334.32 L440.00,334.32 L440.50,334.33 L441.00,334.35 L441.50,334.40 L442.00,334.50 L442.50,334.68 L443.00,334.99 L443.50,335.46 L444.00,336.08 L444.50,336.75 L445.00,337.37 L445.50,337.76 L446.00,337.83 L446.50,337.55 L447.00,337.00 L447.50,336.33 L448.00,335.69 L448.50,335.17 L449.00,334.80 L449.50,334.58 L450.00,334.46 L450.50,334.40 L451.00,334.38 L451.50,334.37 L452.00,334.37 L452.50,334.37 L453.00,334.37 L453.50,334.37 L454.00,334.37 L454.50,334.37 L455.00,334.37 L455.50,334.37 L456.00,334.37 L456.50,334.38 L457.00,334.38 L457.50,334.40 L458.00,334.43 L458.50,334.51 L459.00,334.67 L459.50,334.95 L460.00,335.37 L460.50,335.95 L461.00,336.62 L461.50,337.26 L462.00,337.72 L462.50,337.87 L463.00,337.66 L463.50,337.16 L464.00,336.51 L464.50,335.84 L465.00,335.28 L465.50,334.87 L466.00,334.61 L466.50,334.47 L467.00,334.39 L467.50,334.36 L468.00,334.34 L468.50,334.33 L469.00,334.33 L469.50,334.32 L470.00,334.32 L470.50,334.31 L471.00,334.31 L471.50,334.30 L472.00,334.30 L472.50,334.29 L473.00,334.28 L473.50,334.28 L474.00,334.29 L474.50,334.31 L475.00,334.37 L475.50,334.49 L476.00,334.73 L476.50,335.11 L477.00,335.65 L477.50,336.30 L478.00,336.95 L478.50,337.45 L479.00,337.64 L479.50,337.46 L480.00,336.96 L480.50,336.25 L481.00,335.49 L481.50,334.81 L482.00,334.27 L482.50,333.89 L483.00,333.64 L483.50,333.46 L484.00,333.35 L484.50,333.26 L485.00,333.20 L485.50,333.15 L486.00,333.11 L486.50,333.07 L487.00,333.04 L487.50,333.01 L488.00,332.98 L488.50,332.95 L489.00,332.92 L489.50,332.90 L490.00,332.88 L490.50,332.86 L491.00,332.86 L491.50,332.90 L492.00,332.99 L492.50,333.18 L493.00,333.50 L493.50,333.99" stroke="#ff0000" stroke-dasharray="12 2.9 6 2.9" stroke-dashoffset="5"/>
<path d="M63.50,355.00 L65.60,317.00 L69.80,332.00 L74.00,334.00 L86.00,335.00 L86.50,334.20 L87.00,334.20 L87.50,334.20 L88.00,334.20 L88.50,334.20 L89.00,334.20 L89.50,334.20 L90.00,334.20 L90.50,334.20 L91.00,334.20 L91.50,334.20 L92.00,334.19 L92.50,334.19 L93.00,334.19 L93.50,334.19 L94.00,334.19 L94.50,334.18 L95.00,334.18 L95.50,334.18 L96.00,334.18 L96.50,334.17 L97.00,334.17 L97.50,334.17 L98.00,334.16 L98.50,334.16 L99.00,334.15 L99.50,334.15 L100.00,334.15 L100.50,334.14 L101.00,334.14 L101.50,334.13 L102.00,334.13 L102.50,334.12 L103.00,334.12 L103.50,334.11 L104.00,334.11 L104.50,334.10 L105.00,334.10 L105.50,334.09 L106.00,334.08 L106.50,334.08 L107.00,334.07 L107.50,334.07 L108.00,334.06 L108.50,334.05 L109.00,334.05 L109.50,334.04 L110.00,334.04 L110.50,334.03 L111.00,334.02 L111.50,334.02 L112.00,334.01 L112.50,334.00 L113.00,334.00 L113.50,333.99 L114.00,333.98 L114.50,333.98 L115.00,333.97 L115.50,333.96 L116.00,333.96 L116.50,333.95 L117.00,333.94 L117.50,333.93 L118.00,333.93 L118.50,333.92 L119.00,333.91 L119.50,333.91 L120.00,333.90 L120.50,333.89 L121.00,333.89 L121.50,333.88 L122.00,333.87 L122.50,333.87 L123.00,333.86 L123.50,333.85 L124.00,333.84 L124.50,333.84 L125.00,333.83 L125.50,333.82 L126.00,333.81 L126.50,333.81 L127.00,333.80 L127.50,333.79 L128.00,333.78 L128.50,333.77 L129.00,333.77 L129.50,333.76 L130.00,333.75 L130.50,333.74 L131.00,333.73 L131.50,333.72 L132.00,333.71 L132.50,333.70 L133.00,333.69 L133.50,333.68 L134.00,333.67 L134.50,333.66 L135.00,333.64 L135.50,333.63 L136.00,333.62 L136.50,333.60 L137.00,333.59 L137.50,333.58 L138.00,333.56 L138.50,333.55 L139.00,333.53 L139.50,333.52 L140.00,333.50 L140.50,333.48 L141.00,333.47 L141.50,333.45 L142.00,333.43 L142.50,333.41 L143.00,333.38 L143.50,333.36 L144.00,333.32 L144.50,333.29 L145.00,333.24 L145.50,333.19 L146.00,333.14 L146.50,333.07 L147.00,333.00 L147.50,332.90 L148.00,332.76 L148.50,332.59 L149.00,332.40 L149.50,332.22 L150.00,332.05 L150.50,331.90 L151.00,331.80 L151.50,331.72 L152.00,331.66 L152.50,331.60 L153.00,331.55 L153.50,331.50 L154.00,331.47 L154.50,331.44 L155.00,331.42 L155.50,331.40 L156.00,331.40 L156.50,331.39 L157.00,331.40 L157.50,331.42 L158.00,331.44 L158.50,331.48 L159.00,331.53 L159.50,331.59 L160.00,331.65 L160.50,331.71 L161.00,331.77 L161.50,331.84 L162.00,331.90 L162.50,331.95 L163.00,332.00 L163.50,332.04 L164.00,332.09 L164.50,332.13 L165.00,332.18 L165.50,332.22 L166.00,332.26 L166.50,332.31 L167.00,332.35 L167.50,332.39 L168.00,332.44 L168.50,332.48 L169.00,332.52 L169.50,332.56 L170.00,332.61 L170.50,332.65 L171.00,332.69 L171.50,332.73 L172.00,332.77 L172.50,332.81 L173.00,332.85 L173.50,332.89 L174.00,332.92 L174.50,332.96 L175.00,333.00 L175.50,333.04 L176.00,333.08 L176.50,333.12 L177.00,333.16 L177.50,333.20 L178.00,333.24 L178.50,333.28 L179.00,333.32 L179.50,333.36 L180.00,333.41 L180.50,333.45 L181.00,333.49 L181.50,333.53 L182.00,333.57 L182.50,333.61 L183.00,333.65 L183.50,333.68 L184.00,333.72 L184.50,333.75 L185.00,333.79 L185.50,333.82 L186.00,333.85 L186.50,333.88 L187.00,333.90 L187.50,333.92 L188.00,333.94 L188.50,333.96 L189.00,333.98 L189.50,333.99 L190.00,334.00 L190.50,334.01 L191.00,334.02 L191.50,334.02 L192.00,334.03 L192.50,334.04 L193.00,334.05 L193.50,334.05 L194.00,334.06 L194.50,334.07 L195.00,334.07 L195.50,334.08 L196.00,334.09 L196.50,334.09 L197.00,334.10 L197.50,334.10 L198.00,334.11 L198.50,334.12 L199.00,334.12 L199.50,334.13 L200.00,334.13 L200.50,334.14 L201.00,334.14 L201.50,334.15 L202.00,334.15 L202.50,334.16 L203.00,334.16 L203.50,334.17 L204.00,334.17 L204.50,334.17 L205.00,334.18 L205.50,334.18 L206.00,334.19 L206.50,334.19 L207.00,334.19 L207.50,334.20 L208.00,334.20 L208.50,334.20 L209.00,334.21 L209.50,334.21 L210.00,334.21 L210.50,334.22 L211.00,334.22 L211.50,334.22 L212.00,334.22 L212.50,334.23 L213.00,334.23 L213.50,334.23 L214.00,334.23 L214.50,334.24 L215.00,334.24 L215.50,334.24 L216.00,334.24 L216.50,334.24 L217.00,334.25 L217.50,334.25 L218.00,334.25 L218.50,334.25 L219.00,334.25 L219.50,334.25 L220.00,334.25 L220.50,334.25 L221.00,334.26 L221.50,334.26 L222.00,334.26 L222.50,334.26 L223.00,334.26 L223.50,334.26 L224.00,334.26 L224.50,334.26 L225.00,334.26 L225.50,334.26 L226.00,334.26 L226.50,334.26 L227.00,334.26 L227.50,334.26 L228.00,334.26 L228.50,334.26 L229.00,334.26 L229.50,334.26 L230.00,334.26 L230.50,334.26 L231.00,334.26 L231.50,334.26 L232.00,334.26 L232.50,334.26 L233.00,334.25 L233.50,334.25 L234.00,334.25 L234.50,334.25 L235.00,334.25 L235.50,334.25 L236.00,334.25 L236.50,334.25 L237.00,334.25 L237.50,334.25 L238.00,334.24 L238.50,334.24 L239.00,334.24 L239.50,334.24 L240.00,334.24 L240.50,334.24 L241.00,334.24 L241.50,334.23 L242.00,334.23 L242.50,334.23 L243.00,334.23 L243.50,334.23 L244.00,334.22 L244.50,334.22 L245.00,334.22 L245.50,334.22 L246.00,334.22 L246.50,334.21 L247.00,334.21 L247.50,334.21 L248.00,334.21 L248.50,334.21 L249.00,334.20 L249.50,334.20 L250.00,334.20 L250.50,334.20 L251.00,334.20 L251.50,334.19 L252.00,334.19 L252.50,334.19 L253.00,334.18 L253.50,334.18 L254.00,334.17 L254.50,334.17 L255.00,334.17 L255.50,334.16 L256.00,334.16 L256.50,334.15 L257.00,334.15 L257.50,334.14 L258.00,334.13 L258.50,334.13 L259.00,334.12 L259.50,334.12 L260.00,334.11 L260.50,334.10 L261.00,334.09 L261.50,334.09 L262.00,334.08 L262.50,334.07 L263.00,334.06 L263.50,334.05 L264.00,334.04 L264.50,334.03 L265.00,334.02 L265.50,334.02 L266.00,334.00 L266.50,333.99 L267.00,333.98 L267.50,333.97 L268.00,333.96 L268.50,333.95 L269.00,333.94 L269.50,333.93 L270.00,333.91 L270.50,333.90 L271.00,333.89 L271.50,333.87 L272.00,333.86 L272.50,333.85 L273.00,333.83 L273.50,333.82 L274.00,333.80 L274.50,333.79 L275.00,333.77 L275.50,333.76 L276.00,333.74 L276.50,333.72 L277.00,333.71 L277.50,333.69 L278.00,333.67 L278.50,333.66 L279.00,333.64 L279.50,333.62 L280.00,333.60 L280.50,333.58 L281.00,333.56 L281.50,333.53 L282.00,333.51 L282.50,333.48 L283.00,333.45 L283.50,333.42 L284.00,333.39 L284.50,333.36 L285.00,333.32 L285.50,333.29 L286.00,333.25 L286.50,333.21 L287.00,333.18 L287.50,333.14 L288.00,333.10 L288.50,333.06 L289.00,333.01 L289.50,332.97 L290.00,332.93 L290.50,332.89 L291.00,332.84 L291.50,332.80 L292.00,332.76 L292.50,332.71 L293.00,332.67 L293.50,332.63 L294.00,332.58 L294.50,332.54 L295.00,332.50 L295.50,332.46 L296.00,332.41 L296.50,332.36 L297.00,332.30 L297.50,332.25 L298.00,332.19 L298.50,332.13 L299.00,332.08 L299.50,332.02 L300.00,331.96 L300.50,331.90 L301.00,331.84 L301.50,331.79 L302.00,331.74 L302.50,331.69 L303.00,331.64 L303.50,331.60 L304.00,331.56 L304.50,331.53 L305.00,331.50 L305.50,331.48 L306.00,331.45 L306.50,331.43 L307.00,331.40 L307.50,331.38 L308.00,331.36 L308.50,331.34 L309.00,331.32 L309.50,331.30 L310.00,331.28 L310.50,331.26 L311.00,331.25 L311.50,331.23 L312.00,331.21 L312.50,331.20 L313.00,331.18 L313.50,331.17 L314.00,331.15 L314.50,331.14 L315.00,331.12 L315.50,331.11 L316.00,331.10 L316.50,331.09 L317.00,331.08 L317.50,331.07 L318.00,331.06 L318.50,331.05 L319.00,331.04 L319.50,331.04 L320.00,331.03 L320.50,331.03 L321.00,331.02 L321.50,331.02 L322.00,331.01 L322.50,331.01 L323.00,331.00 L323.50,331.00 L324.00,331.00 L324.50,331.00 L325.00,331.00 L325.50,331.00 L326.00,331.01 L326.50,331.02 L327.00,331.03 L327.50,331.05 L328.00,331.07 L328.50,331.09 L329.00,331.12 L329.50,331.16 L330.00,331.19 L330.50,331.23 L331.00,331.28 L331.50,331.33 L332.00,331.38 L332.50,331.44 L333.00,331.50 L333.50,331.57 L334.00,331.65 L334.50,331.74 L335.00,331.84 L335.50,331.95 L336.00,332.06 L336.50,332.17 L337.00,332.29 L337.50,332.40 L338.00,332.51 L338.50,332.62 L339.00,332.72 L339.50,332.82 L340.00,332.90 L340.50,332.98 L341.00,333.06 L341.50,333.15 L342.00,333.23 L342.50,333.32 L343.00,333.40 L343.50,333.49 L344.00,333.57 L344.50,333.65 L345.00,333.73 L345.50,333.80 L346.00,333.87 L346.50,333.94 L347.00,334.00 L347.50,334.05 L348.00,334.10 L348.50,334.13 L349.00,334.17 L349.50,334.19 L350.00,334.20 L350.50,334.21 L351.00,334.22 L351.50,334.22 L352.00,334.23 L352.50,334.24 L353.00,334.24 L353.50,334.25 L354.00,334.26 L354.50,334.26 L355.00,334.27 L355.50,334.28 L356.00,334.28 L356.50,334.29 L357.00,334.29 L357.50,334.30 L358.00,334.30 L358.50,334.31 L359.00,334.31 L359.50,334.32 L360.00,334.32 L360.50,334.33 L361.00,334.33 L361.50,334.34 L362.00,334.34 L362.50,334.34 L363.00,334.35 L363.50,334.35 L364.00,334.36 L364.50,334.36 L365.00,334.36 L365.50,334.37 L366.00,334.37 L366.50,334.37 L367.00,334.38 L367.50,334.38 L368.00,334.38 L368.50,334.38 L369.00,334.39 L369.50,334.39 L370.00,334.39 L370.50,334.39 L371.00,334.39 L371.50,334.40 L372.00,334.40 L372.50,334.40 L373.00,334.40 L373.50,334.40 L374.00,334.40 L374.50,334.41 L375.00,334.41 L375.50,334.41 L376.00,334.41 L376.50,334.41 L377.00,334.41 L377.50,334.41 L378.00,334.41 L378.50,334.41 L379.00,334.41 L379.50,334.41 L380.00,334.41 L380.50,334.41 L381.00,334.41 L381.50,334.41 L382.00,334.41 L382.50,334.41 L383.00,334.41 L383.50,334.41 L384.00,334.41 L384.50,334.41 L385.00,334.41 L385.50,334.41 L386.00,334.41 L386.50,334.41 L387.00,334.41 L387.50,334.41 L388.00,334.41 L388.50,334.41 L389.00,334.41 L389.50,334.41 L390.00,334.41 L390.50,334.40 L391.00,334.40 L391.50,334.40 L392.00,334.40 L392.50,334.40 L393.00,334.40 L393.50,334.40 L394.00,334.40 L394.50,334.39 L395.00,334.39 L395.50,334.39 L396.00,334.39 L396.50,334.39 L397.00,334.39 L397.50,334.39 L398.00,334.38 L398.50,334.38 L399.00,334.38 L399.50,334.38 L400.00,334.38 L400.50,334.38 L401.00,334.37 L401.50,334.37 L402.00,334.37 L402.50,334.37 L403.00,334.37 L403.50,334.37 L404.00,334.36 L404.50,334.36 L405.00,334.36 L405.50,334.36 L406.00,334.36 L406.50,334.36 L407.00,334.35 L407.50,334.35 L408.00,334.35 L408.50,334.35 L409.00,334.35 L409.50,334.34 L410.00,334.34 L410.50,334.34 L411.00,334.34 L411.50,334.34 L412.00,334.34 L412.50,334.33 L413.00,334.33 L413.50,334.33 L414.00,334.33 L414.50,334.33 L415.00,334.33 L415.50,334.32 L416.00,334.32 L416.50,334.32 L417.00,334.32 L417.50,334.32 L418.00,334.32 L418.50,334.32 L419.00,334.32 L419.50,334.31 L420.00,334.31 L420.50,334.31 L421.00,334.31 L421.50,334.31 L422.00,334.31 L422.50,334.31 L423.00,334.31 L423.50,334.31 L424.00,334.30 L424.50,334.30 L425.00,334.30 L425.50,334.30 L426.00,334.30 L426.50,334.30 L427.00,334.30 L427.50,334.30 L428.00,334.30 L428.50,334.30 L429.00,334.30 L429.50,334.30 L430.00,334.30 L430.50,334.30 L431.00,334.30 L431.50,334.30 L432.00,334.30 L432.50,334.30 L433.00,334.30 L433.50,334.30 L434.00,334.30 L434.50,334.31 L435.00,334.31 L435.50,334.31 L436.00,334.31 L436.50,334.31 L437.00,334.31 L437.50,334.31 L438.00,334.31 L438.50,334.32 L439.00,334.32 L439.50,334.32 L440.00,334.32 L440.50,334.32 L441.00,334.33 L441.50,334.33 L442.00,334.33 L442.50,334.33 L443.00,334.33 L443.50,334.34 L444.00,334.34 L444.50,334.34 L445.00,334.34 L445.50,334.34 L446.00,334.35 L446.50,334.35 L447.00,334.35 L447.50,334.35 L448.00,334.35 L448.50,334.35 L449.00,334.36 L449.50,334.36 L450.00,334.36 L450.50,334.36 L451.00,334.36 L451.50,334.36 L452.00,334.37 L452.50,334.37 L453.00,334.37 L453.50,334.37 L454.00,334.37 L454.50,334.37 L455.00,334.37 L455.50,334.37 L456.00,334.37 L456.50,334.37 L457.00,334.37 L457.50,334.37 L458.00,334.37 L458.50,334.37 L459.00,334.37 L459.50,334.37 L460.00,334.37 L460.50,334.37 L461.00,334.37 L461.50,334.37 L462.00,334.37 L462.50,334.37 L463.00,334.36 L463.50,334.36 L464.00,334.36 L464.50,334.36 L465.00,334.36 L465.50,334.35 L466.00,334.35 L466.50,334.35 L467.00,334.34 L467.50,334.34 L468.00,334.34 L468.50,334.33 L469.00,334.33 L469.50,334.32 L470.00,334.32 L470.50,334.31 L471.00,334.31 L471.50,334.30 L472.00,334.30 L472.50,334.29 L473.00,334.28 L473.50,334.28 L474.00,334.27 L474.50,334.26 L475.00,334.25 L475.50,334.25 L476.00,334.24 L476.50,334.23 L477.00,334.22 L477.50,334.21 L478.00,334.20 L478.50,334.18 L479.00,334.14 L479.50,334.09 L480.00,334.02 L480.50,333.94 L481.00,333.86 L481.50,333.77 L482.00,333.67 L482.50,333.58 L483.00,333.49 L483.50,333.40 L484.00,333.32 L484.50,333.26 L485.00,333.20 L485.50,333.15 L486.00,333.11 L486.50,333.07 L487.00,333.04 L487.50,333.01 L488.00,332.98 L488.50,332.95 L489.00,332.92 L489.50,332.90 L490.00,332.87 L490.50,332.85 L491.00,332.83 L491.50,332.80 L492.00,332.78 L492.50,332.75 L493.00,332.73 L493.50,332.70" stroke="#00ffff" stroke-dasharray="12 11.2" stroke-dashoffset="0"/>
<path d="M63.50,344.00 L65.00,319.70 L69.10,332.30 L72.60,340.00 L75.40,335.00 L82.00,332.30 L86.60,332.30 L92.00,334.00 L92.50,334.26 L93.00,334.35 L93.50,334.50 L94.00,334.74 L94.50,335.04 L95.00,335.35 L95.50,335.59 L96.00,335.68 L96.50,335.58 L97.00,335.34 L97.50,335.02 L98.00,334.71 L98.50,334.47 L99.00,334.31 L99.50,334.22 L100.00,334.17 L100.50,334.15 L101.00,334.14 L101.50,334.13 L102.00,334.13 L102.50,334.12 L103.00,334.12 L103.50,334.11 L104.00,334.11 L104.50,334.10 L105.00,334.10 L105.50,334.09 L106.00,334.08 L106.50,334.08 L107.00,334.07 L107.50,334.07 L108.00,334.06 L108.50,334.05 L109.00,334.05 L109.50,334.04 L110.00,334.04 L110.50,334.03 L111.00,334.03 L111.50,334.04 L112.00,334.07 L112.50,334.14 L113.00,334.27 L113.50,334.49 L114.00,334.77 L114.50,335.08 L115.00,335.34 L115.50,335.46 L116.00,335.40 L116.50,335.17 L117.00,334.86 L117.50,334.54 L118.00,334.28 L118.50,334.10 L119.00,334.00 L119.50,333.94 L120.00,333.91 L120.50,333.90 L121.00,333.89 L121.50,333.88 L122.00,333.87 L122.50,333.87 L123.00,333.86 L123.50,333.85 L124.00,333.84 L124.50,333.84 L125.00,333.83 L125.50,333.82 L126.00,333.81 L126.50,333.81 L127.00,333.80 L127.50,333.79 L128.00,333.78 L128.50,333.77 L129.00,333.77 L129.50,333.76 L130.00,333.75 L130.50,333.75 L131.00,333.75 L131.50,333.77 L132.00,333.83 L132.50,333.94 L133.00,334.14 L133.50,334.41 L134.00,334.71 L134.50,334.98 L135.00,335.13 L135.50,335.10 L136.00,334.90 L136.50,334.59 L137.00,334.26 L137.50,333.98 L138.00,333.77 L138.50,333.65 L139.00,333.57 L139.50,333.53 L140.00,333.50 L140.50,333.48 L141.00,333.47 L141.50,333.45 L142.00,333.43 L142.50,333.41 L143.00,333.38 L143.50,333.36 L144.00,333.32 L144.50,333.29 L145.00,333.24 L145.50,333.19 L146.00,333.14 L146.50,333.07 L147.00,333.00 L147.50,332.90 L148.00,332.76 L148.50,332.59 L149.00,332.40 L149.50,332.22 L150.00,332.05 L150.50,331.92 L151.00,331.84 L151.50,331.82 L152.00,331.87 L152.50,332.00 L153.00,332.21 L153.50,332.49 L154.00,332.75 L154.50,332.91 L155.00,332.90 L155.50,332.73 L156.00,332.44 L156.50,332.12 L157.00,331.85 L157.50,331.66 L158.00,331.56 L158.50,331.53 L159.00,331.55 L159.50,331.59 L160.00,331.65 L160.50,331.71 L161.00,331.77 L161.50,331.84 L162.00,331.90 L162.50,331.95 L163.00,332.00 L163.50,332.04 L164.00,332.09 L164.50,332.13 L165.00,332.18 L165.50,332.22 L166.00,332.26 L166.50,332.31 L167.00,332.35 L167.50,332.39 L168.00,332.44 L168.50,332.48 L169.00,332.52 L169.50,332.57 L170.00,332.62 L170.50,332.68 L171.00,332.77 L171.50,332.91 L172.00,333.12 L172.50,333.42 L173.00,333.77 L173.50,334.11 L174.00,334.37 L174.50,334.46 L175.00,334.37 L175.50,334.15 L176.00,333.87 L176.50,333.61 L177.00,333.43 L177.50,333.33 L178.00,333.30 L178.50,333.30 L179.00,333.33 L179.50,333.37 L180.00,333.41 L180.50,333.45 L181.00,333.49 L181.50,333.53 L182.00,333.57 L182.50,333.61 L183.00,333.65 L183.50,333.68 L184.00,333.72 L184.50,333.75 L185.00,333.79 L185.50,333.82 L186.00,333.85 L186.50,333.88 L187.00,333.90 L187.50,333.92 L188.00,333.94 L188.50,333.96 L189.00,333.98 L189.50,334.00 L190.00,334.03 L190.50,334.08 L191.00,334.17 L191.50,334.34 L192.00,334.58 L192.50,334.89 L193.00,335.21 L193.50,335.46 L194.00,335.56 L194.50,335.48 L195.00,335.24 L195.50,334.93 L196.00,334.64 L196.50,334.41 L197.00,334.26 L197.50,334.17 L198.00,334.14 L198.50,334.13 L199.00,334.12 L199.50,334.13 L200.00,334.13 L200.50,334.14 L201.00,334.14 L201.50,334.15 L202.00,334.15 L202.50,334.16 L203.00,334.16 L203.50,334.17 L204.00,334.17 L204.50,334.17 L205.00,334.18 L205.50,334.18 L206.00,334.19 L206.50,334.19 L207.00,334.19 L207.50,334.20 L208.00,334.20 L208.50,334.21 L209.00,334.22 L209.50,334.23 L210.00,334.27 L210.50,334.35 L211.00,334.50 L211.50,334.72 L212.00,335.02 L212.50,335.34 L213.00,335.60 L213.50,335.73 L214.00,335.68 L214.50,335.46 L215.00,335.16 L215.50,334.85 L216.00,334.60 L216.50,334.43 L217.00,334.33 L217.50,334.28 L218.00,334.26 L218.50,334.25 L219.00,334.25 L219.50,334.25 L220.00,334.25 L220.50,334.25 L221.00,334.26 L221.50,334.26 L222.00,334.26 L222.50,334.26 L223.00,334.26 L223.50,334.26 L224.00,334.26 L224.50,334.26 L225.00,334.26 L225.50,334.26 L226.00,334.26 L226.50,334.26 L227.00,334.26 L227.50,334.26 L228.00,334.26 L228.50,334.27 L229.00,334.28 L229.50,334.31 L230.00,334.37 L230.50,334.50 L231.00,334.71 L231.50,334.99 L232.00,335.30 L232.50,335.58 L233.00,335.74 L233.50,335.72 L234.00,335.53 L234.50,335.24 L235.00,334.92 L235.50,334.65 L236.00,334.46 L236.50,334.35 L237.00,334.29 L237.50,334.26 L238.00,334.25 L238.50,334.24 L239.00,334.24 L239.50,334.24 L240.00,334.24 L240.50,334.24 L241.00,334.24 L241.50,334.23 L242.00,334.23 L242.50,334.23 L243.00,334.23 L243.50,334.23 L244.00,334.22 L244.50,334.22 L245.00,334.22 L245.50,334.22 L246.00,334.22 L246.50,334.21 L247.00,334.21 L247.50,334.21 L248.00,334.21 L248.50,334.22 L249.00,334.24 L249.50,334.30 L250.00,334.41 L250.50,334.60 L251.00,334.86 L251.50,335.18 L252.00,335.47 L252.50,335.65 L253.00,335.67 L253.50,335.51 L254.00,335.22 L254.50,334.90 L255.00,334.61 L255.50,334.40 L256.00,334.27 L256.50,334.20 L257.00,334.16 L257.50,334.15 L258.00,334.14 L258.50,334.13 L259.00,334.12 L259.50,334.12 L260.00,334.11 L260.50,334.10 L261.00,334.09 L261.50,334.09 L262.00,334.08 L262.50,334.07 L263.00,334.06 L263.50,334.05 L264.00,334.04 L264.50,334.03 L265.00,334.03 L265.50,334.02 L266.00,334.01 L266.50,333.99 L267.00,333.98 L267.50,333.98 L268.00,333.97 L268.50,333.98 L269.00,334.02 L269.50,334.11 L270.00,334.27 L270.50,334.51 L271.00,334.81 L271.50,335.10 L272.00,335.30 L272.50,335.34 L273.00,335.20 L273.50,334.93 L274.00,334.59 L274.50,334.29 L275.00,334.05 L275.50,333.89 L276.00,333.80 L276.50,333.75 L277.00,333.71 L277.50,333.69 L278.00,333.67 L278.50,333.66 L279.00,333.64 L279.50,333.62 L280.00,333.60 L280.50,333.58 L281.00,333.56 L281.50,333.53 L282.00,333.51 L282.50,333.48 L283.00,333.45 L283.50,333.42 L284.00,333.39 L284.50,333.36 L285.00,333.32 L285.50,333.29 L286.00,333.25 L286.50,333.22 L287.00,333.18 L287.50,333.15 L288.00,333.12 L288.50,333.13 L289.00,333.17 L289.50,333.29 L290.00,333.48 L290.50,333.74 L291.00,334.01 L291.50,334.21 L292.00,334.26 L292.50,334.12 L293.00,333.84 L293.50,333.48 L294.00,333.14 L294.50,332.86 L295.00,332.66 L295.50,332.53 L296.00,332.44 L296.50,332.37 L297.00,332.31 L297.50,332.25 L298.00,332.19 L298.50,332.13 L299.00,332.08 L299.50,332.02 L300.00,331.96 L300.50,331.90 L301.00,331.84 L301.50,331.79 L302.00,331.74 L302.50,331.69 L303.00,331.64 L303.50,331.60 L304.00,331.56 L304.50,331.53 L305.00,331.50 L305.50,331.48 L306.00,331.45 L306.50,331.43 L307.00,331.41 L307.50,331.41 L308.00,331.42 L308.50,331.48 L309.00,331.60 L309.50,331.80 L310.00,332.07 L310.50,332.37 L311.00,332.62 L311.50,332.72 L312.00,332.65 L312.50,332.42 L313.00,332.10 L313.50,331.77 L314.00,331.51 L314.50,331.32 L315.00,331.21 L315.50,331.15 L316.00,331.11 L316.50,331.09 L317.00,331.08 L317.50,331.07 L318.00,331.06 L318.50,331.05 L319.00,331.05 L319.50,331.04 L320.00,331.03 L320.50,331.03 L321.00,331.02 L321.50,331.02 L322.00,331.01 L322.50,331.01 L323.00,331.00 L323.50,331.00 L324.00,331.00 L324.50,331.00 L325.00,331.00 L325.50,331.00 L326.00,331.01 L326.50,331.02 L327.00,331.05 L327.50,331.10 L328.00,331.19 L328.50,331.34 L329.00,331.57 L329.50,331.88 L330.00,332.24 L330.50,332.56 L331.00,332.76 L331.50,332.80 L332.00,332.66 L332.50,332.42 L333.00,332.17 L333.50,331.97 L334.00,331.86 L334.50,331.84 L335.00,331.88 L335.50,331.96 L336.00,332.06 L336.50,332.17 L337.00,332.29 L337.50,332.40 L338.00,332.51 L338.50,332.62 L339.00,332.72 L339.50,332.82 L340.00,332.90 L340.50,332.98 L341.00,333.06 L341.50,333.15 L342.00,333.23 L342.50,333.32 L343.00,333.40 L343.50,333.49 L344.00,333.57 L344.50,333.65 L345.00,333.73 L345.50,333.80 L346.00,333.88 L346.50,333.95 L347.00,334.04 L347.50,334.15 L348.00,334.31 L348.50,334.53 L349.00,334.83 L349.50,335.17 L350.00,335.48 L350.50,335.67 L351.00,335.70 L351.50,335.55 L352.00,335.28 L352.50,334.97 L353.00,334.69 L353.50,334.49 L354.00,334.37 L354.50,334.31 L355.00,334.29 L355.50,334.28 L356.00,334.28 L356.50,334.29 L357.00,334.29 L357.50,334.30 L358.00,334.30 L358.50,334.31 L359.00,334.31 L359.50,334.32 L360.00,334.32 L360.50,334.33 L361.00,334.33 L361.50,334.34 L362.00,334.34 L362.50,334.34 L363.00,334.35 L363.50,334.35 L364.00,334.36 L364.50,334.36 L365.00,334.36 L365.50,334.37 L366.00,334.38 L366.50,334.41 L367.00,334.46 L367.50,334.56 L368.00,334.74 L368.50,334.99 L369.00,335.31 L369.50,335.61 L370.00,335.83 L370.50,335.89 L371.00,335.77 L371.50,335.51 L372.00,335.19 L372.50,334.90 L373.00,334.68 L373.50,334.54 L374.00,334.46 L374.50,334.43 L375.00,334.41 L375.50,334.41 L376.00,334.41 L376.50,334.41 L377.00,334.41 L377.50,334.41 L378.00,334.41 L378.50,334.41 L379.00,334.41 L379.50,334.41 L380.00,334.41 L380.50,334.41 L381.00,334.41 L381.50,334.41 L382.00,334.41 L382.50,334.41 L383.00,334.41 L383.50,334.41 L384.00,334.41 L384.50,334.41 L385.00,334.42 L385.50,334.42 L386.00,334.44 L386.50,334.48 L387.00,334.57 L387.50,334.72 L388.00,334.96 L388.50,335.26 L389.00,335.58 L389.50,335.82 L390.00,335.91 L390.50,335.81 L391.00,335.57 L391.50,335.26 L392.00,334.95 L392.50,334.71 L393.00,334.56 L393.50,334.47 L394.00,334.42 L394.50,334.40 L395.00,334.40 L395.50,334.39 L396.00,334.39 L396.50,334.39 L397.00,334.39 L397.50,334.39 L398.00,334.38 L398.50,334.38 L399.00,334.38 L399.50,334.38 L400.00,334.38 L400.50,334.38 L401.00,334.37 L401.50,334.37 L402.00,334.37 L402.50,334.37 L403.00,334.37 L403.50,334.37 L404.00,334.36 L404.50,334.36 L405.00,334.37 L405.50,334.38 L406.00,334.42 L406.50,334.49 L407.00,334.63 L407.50,334.85 L408.00,335.14 L408.50,335.46 L409.00,335.72 L409.50,335.84 L410.00,335.78 L410.50,335.57 L411.00,335.26 L411.50,334.95 L412.00,334.69 L412.50,334.52 L413.00,334.42 L413.50,334.36 L414.00,334.34 L414.50,334.33 L415.00,334.33 L415.50,334.33 L416.00,334.32 L416.50,334.32 L417.00,334.32 L417.50,334.32 L418.00,334.32 L418.50,334.32 L419.00,334.32 L419.50,334.31 L420.00,334.31 L420.50,334.31 L421.00,334.31 L421.50,334.31 L422.00,334.31 L422.50,334.31 L423.00,334.31 L423.50,334.31 L424.00,334.31 L424.50,334.31 L425.00,334.32 L425.50,334.35 L426.00,334.42 L426.50,334.54 L427.00,334.75 L427.50,335.03 L428.00,335.35 L428.50,335.63 L429.00,335.79 L429.50,335.77 L430.00,335.58 L430.50,335.28 L431.00,334.97 L431.50,334.70 L432.00,334.51 L432.50,334.40 L433.00,334.34 L433.50,334.32 L434.00,334.31 L434.50,334.31 L435.00,334.31 L435.50,334.31 L436.00,334.31 L436.50,334.31 L437.00,334.31 L437.50,334.31 L438.00,334.31 L438.50,334.32 L439.00,334.32 L439.50,334.32 L440.00,334.32 L440.50,334.32 L441.00,334.33 L441.50,334.33 L442.00,334.33 L442.50,334.33 L443.00,334.33 L443.50,334.34 L444.00,334.34 L444.50,334.35 L445.00,334.38 L445.50,334.44 L446.00,334.56 L446.50,334.75 L447.00,335.02 L447.50,335.33 L448.00,335.63 L448.50,335.82 L449.00,335.84 L449.50,335.69 L450.00,335.41 L450.50,335.09 L451.00,334.81 L451.50,334.61 L452.00,334.48 L452.50,334.42 L453.00,334.39 L453.50,334.38 L454.00,334.37 L454.50,334.37 L455.00,334.37 L455.50,334.37 L456.00,334.37 L456.50,334.37 L457.00,334.37 L457.50,334.37 L458.00,334.37 L458.50,334.37 L459.00,334.37 L459.50,334.37 L460.00,334.37 L460.50,334.37 L461.00,334.37 L461.50,334.37 L462.00,334.37 L462.50,334.37 L463.00,334.37 L463.50,334.37 L464.00,334.37 L464.50,334.39 L465.00,334.44 L465.50,334.54 L466.00,334.71 L466.50,334.96 L467.00,335.26 L467.50,335.57 L468.00,335.78 L468.50,335.83 L469.00,335.70 L469.50,335.43 L470.00,335.11 L470.50,334.81 L471.00,334.58 L471.50,334.44 L472.00,334.35 L472.50,334.31 L473.00,334.29 L473.50,334.28 L474.00,334.27 L474.50,334.26 L475.00,334.25 L475.50,334.25 L476.00,334.24 L476.50,334.23 L477.00,334.22 L477.50,334.21 L478.00,334.20 L478.50,334.18 L479.00,334.14 L479.50,334.09 L480.00,334.02 L480.50,333.94 L481.00,333.86 L481.50,333.77 L482.00,333.67 L482.50,333.58 L483.00,333.49 L483.50,333.41 L484.00,333.35 L484.50,333.33 L485.00,333.36 L485.50,333.47 L486.00,333.66 L486.50,333.93 L487.00,334.21 L487.50,334.41 L488.00,334.48 L488.50,334.36 L489.00,334.09 L489.50,333.75 L490.00,333.43 L490.50,333.16 L491.00,332.99 L491.50,332.87 L492.00,332.81 L492.50,332.76 L493.00,332.73 L493.50,332.70" stroke="#ff8000" stroke-dasharray="12 11.2" stroke-dashoffset="10.4"/>
<path d="M63.50,356.20 L65.40,317.00 L66.40,317.20 L69.80,331.60 L74.00,333.00 L78.20,338.60 L82.40,333.70 L90.00,334.40 L90.50,334.20 L91.00,334.20 L91.50,334.20 L92.00,334.20 L92.50,334.20 L93.00,334.22 L93.50,334.25 L94.00,334.32 L94.50,334.44 L95.00,334.62 L95.50,334.83 L96.00,335.02 L96.50,335.15 L97.00,335.16 L97.50,335.06 L98.00,334.87 L98.50,334.65 L99.00,334.46 L99.50,334.32 L100.00,334.23 L100.50,334.17 L101.00,334.15 L101.50,334.14 L102.00,334.13 L102.50,334.12 L103.00,334.12 L103.50,334.11 L104.00,334.11 L104.50,334.10 L105.00,334.10 L105.50,334.09 L106.00,334.08 L106.50,334.08 L107.00,334.07 L107.50,334.07 L108.00,334.06 L108.50,334.06 L109.00,334.06 L109.50,334.06 L110.00,334.09 L110.50,334.14 L111.00,334.25 L111.50,334.41 L112.00,334.61 L112.50,334.81 L113.00,334.95 L113.50,334.99 L114.00,334.91 L114.50,334.73 L115.00,334.51 L115.50,334.31 L116.00,334.15 L116.50,334.05 L117.00,333.98 L117.50,333.95 L118.00,333.93 L118.50,333.92 L119.00,333.91 L119.50,333.91 L120.00,333.90 L120.50,333.89 L121.00,333.89 L121.50,333.88 L122.00,333.87 L122.50,333.87 L123.00,333.86 L123.50,333.85 L124.00,333.84 L124.50,333.84 L125.00,333.83 L125.50,333.83 L126.00,333.83 L126.50,333.85 L127.00,333.90 L127.50,333.99 L128.00,334.13 L128.50,334.32 L129.00,334.52 L129.50,334.68 L130.00,334.75 L130.50,334.69 L131.00,334.53 L131.50,334.32 L132.00,334.10 L132.50,333.93 L133.00,333.80 L133.50,333.73 L134.00,333.69 L134.50,333.66 L135.00,333.65 L135.50,333.63 L136.00,333.62 L136.50,333.60 L137.00,333.59 L137.50,333.58 L138.00,333.56 L138.50,333.55 L139.00,333.53 L139.50,333.52 L140.00,333.50 L140.50,333.48 L141.00,333.47 L141.50,333.45 L142.00,333.43 L142.50,333.42 L143.00,333.42 L143.50,333.44 L144.00,333.49 L144.50,333.59 L145.00,333.74 L145.50,333.90 L146.00,334.03 L146.50,334.06 L147.00,333.97 L147.50,333.74 L148.00,333.40 L148.50,333.02 L149.00,332.66 L149.50,332.36 L150.00,332.11 L150.50,331.93 L151.00,331.81 L151.50,331.73 L152.00,331.66 L152.50,331.60 L153.00,331.55 L153.50,331.50 L154.00,331.47 L154.50,331.44 L155.00,331.42 L155.50,331.40 L156.00,331.40 L156.50,331.39 L157.00,331.40 L157.50,331.42 L158.00,331.44 L158.50,331.49 L159.00,331.54 L159.50,331.61 L160.00,331.71 L160.50,331.85 L161.00,332.04 L161.50,332.28 L162.00,332.55 L162.50,332.80 L163.00,332.98 L163.50,333.03 L164.00,332.97 L164.50,332.83 L165.00,332.66 L165.50,332.52 L166.00,332.43 L166.50,332.39 L167.00,332.38 L167.50,332.41 L168.00,332.44 L168.50,332.48 L169.00,332.52 L169.50,332.56 L170.00,332.61 L170.50,332.65 L171.00,332.69 L171.50,332.73 L172.00,332.77 L172.50,332.81 L173.00,332.85 L173.50,332.89 L174.00,332.93 L174.50,332.96 L175.00,333.00 L175.50,333.05 L176.00,333.10 L176.50,333.17 L177.00,333.27 L177.50,333.43 L178.00,333.64 L178.50,333.88 L179.00,334.13 L179.50,334.32 L180.00,334.40 L180.50,334.37 L181.00,334.24 L181.50,334.07 L182.00,333.91 L182.50,333.80 L183.00,333.74 L183.50,333.72 L184.00,333.74 L184.50,333.76 L185.00,333.79 L185.50,333.82 L186.00,333.85 L186.50,333.88 L187.00,333.90 L187.50,333.92 L188.00,333.94 L188.50,333.96 L189.00,333.98 L189.50,333.99 L190.00,334.00 L190.50,334.01 L191.00,334.02 L191.50,334.03 L192.00,334.04 L192.50,334.06 L193.00,334.09 L193.50,334.15 L194.00,334.26 L194.50,334.42 L195.00,334.63 L195.50,334.84 L196.00,335.02 L196.50,335.09 L197.00,335.05 L197.50,334.90 L198.00,334.70 L198.50,334.50 L199.00,334.34 L199.50,334.24 L200.00,334.18 L200.50,334.16 L201.00,334.15 L201.50,334.15 L202.00,334.15 L202.50,334.16 L203.00,334.16 L203.50,334.17 L204.00,334.17 L204.50,334.17 L205.00,334.18 L205.50,334.18 L206.00,334.19 L206.50,334.19 L207.00,334.19 L207.50,334.20 L208.00,334.20 L208.50,334.21 L209.00,334.22 L209.50,334.25 L210.00,334.30 L210.50,334.39 L211.00,334.53 L211.50,334.72 L212.00,334.94 L212.50,335.12 L213.00,335.22 L213.50,335.20 L214.00,335.07 L214.50,334.87 L215.00,334.67 L215.50,334.49 L216.00,334.38 L216.50,334.31 L217.00,334.27 L217.50,334.26 L218.00,334.25 L218.50,334.25 L219.00,334.25 L219.50,334.25 L220.00,334.25 L220.50,334.25 L221.00,334.26 L221.50,334.26 L222.00,334.26 L222.50,334.26 L223.00,334.26 L223.50,334.26 L224.00,334.26 L224.50,334.26 L225.00,334.26 L225.50,334.27 L226.00,334.29 L226.50,334.33 L227.00,334.41 L227.50,334.53 L228.00,334.71 L228.50,334.92 L229.00,335.12 L229.50,335.24 L230.00,335.25 L230.50,335.14 L231.00,334.95 L231.50,334.73 L232.00,334.55 L232.50,334.41 L233.00,334.33 L233.50,334.29 L234.00,334.26 L234.50,334.26 L235.00,334.25 L235.50,334.25 L236.00,334.25 L236.50,334.25 L237.00,334.25 L237.50,334.25 L238.00,334.24 L238.50,334.24 L239.00,334.24 L239.50,334.24 L240.00,334.24 L240.50,334.24 L241.00,334.24 L241.50,334.24 L242.00,334.24 L242.50,334.25 L243.00,334.28 L243.50,334.35 L244.00,334.46 L244.50,334.63 L245.00,334.83 L245.50,335.04 L246.00,335.18 L246.50,335.21 L247.00,335.13 L247.50,334.95 L248.00,334.74 L248.50,334.54 L249.00,334.39 L249.50,334.29 L250.00,334.24 L250.50,334.21 L251.00,334.20 L251.50,334.19 L252.00,334.19 L252.50,334.19 L253.00,334.18 L253.50,334.18 L254.00,334.17 L254.50,334.17 L255.00,334.17 L255.50,334.16 L256.00,334.16 L256.50,334.15 L257.00,334.15 L257.50,334.14 L258.00,334.14 L258.50,334.13 L259.00,334.14 L259.50,334.16 L260.00,334.21 L260.50,334.31 L261.00,334.45 L261.50,334.65 L262.00,334.85 L262.50,335.00 L263.00,335.06 L263.50,335.00 L264.00,334.83 L264.50,334.61 L265.00,334.40 L265.50,334.23 L266.00,334.11 L266.50,334.04 L267.00,334.00 L267.50,333.98 L268.00,333.96 L268.50,333.95 L269.00,333.94 L269.50,333.93 L270.00,333.91 L270.50,333.90 L271.00,333.89 L271.50,333.87 L272.00,333.86 L272.50,333.85 L273.00,333.83 L273.50,333.82 L274.00,333.80 L274.50,333.79 L275.00,333.78 L275.50,333.77 L276.00,333.78 L276.50,333.81 L277.00,333.88 L277.50,334.01 L278.00,334.18 L278.50,334.38 L279.00,334.54 L279.50,334.61 L280.00,334.57 L280.50,334.41 L281.00,334.19 L281.50,333.96 L282.00,333.76 L282.50,333.61 L283.00,333.51 L283.50,333.45 L284.00,333.40 L284.50,333.36 L285.00,333.32 L285.50,333.29 L286.00,333.25 L286.50,333.21 L287.00,333.18 L287.50,333.14 L288.00,333.10 L288.50,333.06 L289.00,333.01 L289.50,332.97 L290.00,332.93 L290.50,332.89 L291.00,332.85 L291.50,332.80 L292.00,332.77 L292.50,332.74 L293.00,332.74 L293.50,332.78 L294.00,332.86 L294.50,333.00 L295.00,333.17 L295.50,333.32 L296.00,333.39 L296.50,333.34 L297.00,333.18 L297.50,332.93 L298.00,332.66 L298.50,332.42 L299.00,332.23 L299.50,332.09 L300.00,331.99 L300.50,331.91 L301.00,331.85 L301.50,331.79 L302.00,331.74 L302.50,331.69 L303.00,331.64 L303.50,331.60 L304.00,331.56 L304.50,331.53 L305.00,331.50 L305.50,331.48 L306.00,331.45 L306.50,331.43 L307.00,331.41 L307.50,331.38 L308.00,331.36 L308.50,331.35 L309.00,331.34 L309.50,331.36 L310.00,331.41 L310.50,331.51 L311.00,331.66 L311.50,331.85 L312.00,332.04 L312.50,332.16 L313.00,332.18 L313.50,332.07 L314.00,331.88 L314.50,331.66 L315.00,331.45 L315.50,331.29 L316.00,331.19 L316.50,331.13 L317.00,331.09 L317.50,331.08 L318.00,331.06 L318.50,331.05 L319.00,331.05 L319.50,331.04 L320.00,331.03 L320.50,331.03 L321.00,331.02 L321.50,331.02 L322.00,331.01 L322.50,331.01 L323.00,331.01 L323.50,331.00 L324.00,331.00 L324.50,331.00 L325.00,331.01 L325.50,331.02 L326.00,331.05 L326.50,331.12 L327.00,331.24 L327.50,331.42 L328.00,331.64 L328.50,331.87 L329.00,332.06 L329.50,332.16 L330.00,332.13 L330.50,332.01 L331.00,331.85 L331.50,331.70 L332.00,331.59 L332.50,331.54 L333.00,331.55 L333.50,331.59 L334.00,331.66 L334.50,331.74 L335.00,331.84 L335.50,331.95 L336.00,332.06 L336.50,332.17 L337.00,332.29 L337.50,332.40 L338.00,332.51 L338.50,332.62 L339.00,332.72 L339.50,332.82 L340.00,332.90 L340.50,332.98 L341.00,333.07 L341.50,333.15 L342.00,333.25 L342.50,333.36 L343.00,333.49 L343.50,333.67 L344.00,333.90 L344.50,334.17 L345.00,334.46 L345.50,334.71 L346.00,334.87 L346.50,334.90 L347.00,334.82 L347.50,334.67 L348.00,334.51 L348.50,334.38 L349.00,334.29 L349.50,334.24 L350.00,334.22 L350.50,334.22 L351.00,334.22 L351.50,334.22 L352.00,334.23 L352.50,334.24 L353.00,334.24 L353.50,334.25 L354.00,334.26 L354.50,334.26 L355.00,334.27 L355.50,334.28 L356.00,334.28 L356.50,334.29 L357.00,334.29 L357.50,334.30 L358.00,334.31 L358.50,334.32 L359.00,334.34 L359.50,334.39 L360.00,334.48 L360.50,334.61 L361.00,334.80 L361.50,335.02 L362.00,335.21 L362.50,335.33 L363.00,335.33 L363.50,335.22 L364.00,335.03 L364.50,334.82 L365.00,334.64 L365.50,334.52 L366.00,334.44 L366.50,334.40 L367.00,334.39 L367.50,334.38 L368.00,334.38 L368.50,334.38 L369.00,334.39 L369.50,334.39 L370.00,334.39 L370.50,334.39 L371.00,334.39 L371.50,334.40 L372.00,334.40 L372.50,334.40 L373.00,334.40 L373.50,334.40 L374.00,334.41 L374.50,334.41 L375.00,334.42 L375.50,334.43 L376.00,334.47 L376.50,334.54 L377.00,334.66 L377.50,334.83 L378.00,335.04 L378.50,335.24 L379.00,335.38 L379.50,335.41 L380.00,335.32 L380.50,335.14 L381.00,334.92 L381.50,334.73 L382.00,334.59 L382.50,334.50 L383.00,334.45 L383.50,334.43 L384.00,334.42 L384.50,334.41 L385.00,334.41 L385.50,334.41 L386.00,334.41 L386.50,334.41 L387.00,334.41 L387.50,334.41 L388.00,334.41 L388.50,334.41 L389.00,334.41 L389.50,334.41 L390.00,334.41 L390.50,334.41 L391.00,334.41 L391.50,334.41 L392.00,334.42 L392.50,334.45 L393.00,334.51 L393.50,334.61 L394.00,334.77 L394.50,334.97 L395.00,335.18 L395.50,335.34 L396.00,335.39 L396.50,335.32 L397.00,335.16 L397.50,334.95 L398.00,334.74 L398.50,334.59 L399.00,334.48 L399.50,334.42 L400.00,334.40 L400.50,334.38 L401.00,334.38 L401.50,334.37 L402.00,334.37 L402.50,334.37 L403.00,334.37 L403.50,334.37 L404.00,334.36 L404.50,334.36 L405.00,334.36 L405.50,334.36 L406.00,334.36 L406.50,334.36 L407.00,334.35 L407.50,334.35 L408.00,334.35 L408.50,334.36 L409.00,334.39 L409.50,334.43 L410.00,334.53 L410.50,334.67 L411.00,334.87 L411.50,335.08 L412.00,335.25 L412.50,335.33 L413.00,335.29 L413.50,335.15 L414.00,334.94 L414.50,334.73 L415.00,334.56 L415.50,334.45 L416.00,334.38 L416.50,334.34 L417.00,334.33 L417.50,334.32 L418.00,334.32 L418.50,334.32 L419.00,334.32 L419.50,334.31 L420.00,334.31 L420.50,334.31 L421.00,334.31 L421.50,334.31 L422.00,334.31 L422.50,334.31 L423.00,334.31 L423.50,334.31 L424.00,334.31 L424.50,334.31 L425.00,334.32 L425.50,334.33 L426.00,334.38 L426.50,334.46 L427.00,334.59 L427.50,334.78 L428.00,334.99 L428.50,335.18 L429.00,335.29 L429.50,335.28 L430.00,335.16 L430.50,334.96 L431.00,334.75 L431.50,334.57 L432.00,334.45 L432.50,334.37 L433.00,334.33 L433.50,334.31 L434.00,334.31 L434.50,334.31 L435.00,334.31 L435.50,334.31 L436.00,334.31 L436.50,334.31 L437.00,334.31 L437.50,334.31 L438.00,334.31 L438.50,334.32 L439.00,334.32 L439.50,334.32 L440.00,334.32 L440.50,334.32 L441.00,334.33 L441.50,334.34 L442.00,334.35 L442.50,334.39 L443.00,334.47 L443.50,334.59 L444.00,334.77 L444.50,334.98 L445.00,335.18 L445.50,335.31 L446.00,335.34 L446.50,335.24 L447.00,335.06 L447.50,334.85 L448.00,334.66 L448.50,334.53 L449.00,334.44 L449.50,334.39 L450.00,334.37 L450.50,334.37 L451.00,334.36 L451.50,334.36 L452.00,334.37 L452.50,334.37 L453.00,334.37 L453.50,334.37 L454.00,334.37 L454.50,334.37 L455.00,334.37 L455.50,334.37 L456.00,334.37 L456.50,334.37 L457.00,334.37 L457.50,334.38 L458.00,334.38 L458.50,334.39 L459.00,334.42 L459.50,334.48 L460.00,334.59 L460.50,334.75 L461.00,334.96 L461.50,335.16 L462.00,335.32 L462.50,335.37 L463.00,335.29 L463.50,335.13 L464.00,334.91 L464.50,334.71 L465.00,334.56 L465.50,334.45 L466.00,334.39 L466.50,334.36 L467.00,334.35 L467.50,334.34 L468.00,334.34 L468.50,334.33 L469.00,334.33 L469.50,334.32 L470.00,334.32 L470.50,334.31 L471.00,334.31 L471.50,334.30 L472.00,334.30 L472.50,334.29 L473.00,334.28 L473.50,334.28 L474.00,334.27 L474.50,334.27 L475.00,334.27 L475.50,334.29 L476.00,334.33 L476.50,334.42 L477.00,334.56 L477.50,334.75 L478.00,334.95 L478.50,335.10 L479.00,335.14 L479.50,335.04 L480.00,334.83 L480.50,334.55 L481.00,334.26 L481.50,334.00 L482.00,333.79 L482.50,333.63 L483.00,333.51 L483.50,333.41 L484.00,333.33 L484.50,333.26 L485.00,333.20 L485.50,333.15 L486.00,333.11 L486.50,333.07 L487.00,333.04 L487.50,333.01 L488.00,332.98 L488.50,332.95 L489.00,332.92 L489.50,332.90 L490.00,332.87 L490.50,332.85 L491.00,332.83 L491.50,332.82 L492.00,332.81 L492.50,332.83 L493.00,332.89 L493.50,333.00" stroke="#0000ff" stroke-dasharray="12 2.8 6 2.8" stroke-dashoffset="0"/>
</g>
<rect x="330.8" y="16.8" width="196.40000000000003" height="82.60000000000001" fill="#fff" stroke="#262626" stroke-width="1"/>
<line x1="334.9" y1="26.20" x2="379.1" y2="26.20" stroke="#00ff00" stroke-width="2.7" stroke-dasharray="2.7 3.15"/>
<text x="382.0" y="30.80" style="font-family:'Liberation Sans',Arial,sans-serif;font-size:11.8px" fill="#000">MPC</text>
<line x1="334.9" y1="42.15" x2="379.1" y2="42.15" stroke="#ff0000" stroke-width="2.7" stroke-dasharray="12 2.9 6 2.9"/>
<text x="382.0" y="46.75" style="font-family:'Liberation Sans',Arial,sans-serif;font-size:11.8px" fill="#000">STMPC</text>
<line x1="334.9" y1="58.10" x2="379.1" y2="58.10" stroke="#00ffff" stroke-width="2.7" stroke-dasharray="12 11.2"/>
<text x="382.0" y="62.70" style="font-family:'Liberation Sans',Arial,sans-serif;font-size:11.8px" fill="#000">tube-based MPC</text>
<line x1="334.9" y1="74.05" x2="379.1" y2="74.05" stroke="#ff8000" stroke-width="2.7" stroke-dasharray="12 11.2"/>
<text x="382.0" y="78.65" style="font-family:'Liberation Sans',Arial,sans-serif;font-size:11.8px" fill="#000">STMPC in this paper (N=4)</text>
<line x1="334.9" y1="90.00" x2="379.1" y2="90.00" stroke="#0000ff" stroke-width="2.7" stroke-dasharray="12 2.8 6 2.8"/>
<text x="382.0" y="94.60" style="font-family:'Liberation Sans',Arial,sans-serif;font-size:11.8px" fill="#000">STMPC in this paper (N=7)</text>
</svg></body></html>
